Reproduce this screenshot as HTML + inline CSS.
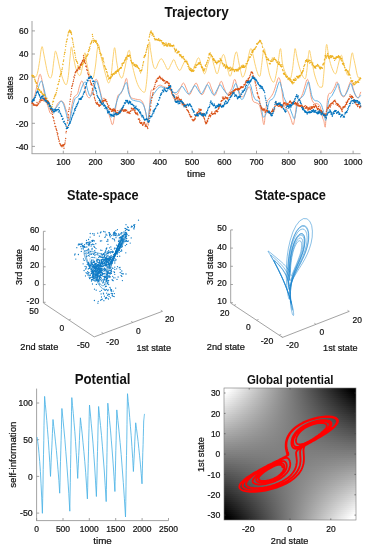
<!DOCTYPE html>
<html><head><meta charset="utf-8"><title>Trajectory</title>
<style>
html,body{margin:0;padding:0;background:#fff;}
svg{display:block;font-family:"Liberation Sans",sans-serif;fill:#111;}
.n{stroke:#111;stroke-width:0.22px;}
</style></head><body>
<svg width="369" height="550" viewBox="0 0 369 550">
<rect width="369" height="550" fill="#fff"/>
<text x="196.6" y="16.8" font-size="14" text-anchor="middle" font-weight="bold" textLength="64.4" lengthAdjust="spacingAndGlyphs">Trajectory</text>
<line x1="32.0" y1="21.0" x2="32.0" y2="153.7" stroke="#8c8c8c" stroke-width="0.8"/>
<line x1="31.6" y1="153.7" x2="360.5" y2="153.7" stroke="#8c8c8c" stroke-width="0.8"/>
<line x1="32.0" y1="30.9" x2="35.0" y2="30.9" stroke="#8c8c8c" stroke-width="0.8"/>
<text x="28.5" y="34.1" font-size="9" text-anchor="end" class="n" textLength="9.4" lengthAdjust="spacingAndGlyphs">60</text>
<line x1="32.0" y1="54.0" x2="35.0" y2="54.0" stroke="#8c8c8c" stroke-width="0.8"/>
<text x="28.5" y="57.2" font-size="9" text-anchor="end" class="n" textLength="9.4" lengthAdjust="spacingAndGlyphs">40</text>
<line x1="32.0" y1="77.1" x2="35.0" y2="77.1" stroke="#8c8c8c" stroke-width="0.8"/>
<text x="28.5" y="80.3" font-size="9" text-anchor="end" class="n" textLength="9.4" lengthAdjust="spacingAndGlyphs">20</text>
<line x1="32.0" y1="100.2" x2="35.0" y2="100.2" stroke="#8c8c8c" stroke-width="0.8"/>
<text x="28.5" y="103.4" font-size="9" text-anchor="end" class="n" textLength="4.7" lengthAdjust="spacingAndGlyphs">0</text>
<line x1="32.0" y1="123.3" x2="35.0" y2="123.3" stroke="#8c8c8c" stroke-width="0.8"/>
<text x="28.5" y="126.5" font-size="9" text-anchor="end" class="n" textLength="12.7" lengthAdjust="spacingAndGlyphs">-20</text>
<line x1="32.0" y1="146.4" x2="35.0" y2="146.4" stroke="#8c8c8c" stroke-width="0.8"/>
<text x="28.5" y="149.6" font-size="9" text-anchor="end" class="n" textLength="12.7" lengthAdjust="spacingAndGlyphs">-40</text>
<line x1="63.3" y1="153.7" x2="63.3" y2="150.7" stroke="#8c8c8c" stroke-width="0.8"/>
<text x="63.3" y="165.0" font-size="9" text-anchor="middle" class="n" textLength="14.2" lengthAdjust="spacingAndGlyphs">100</text>
<line x1="95.5" y1="153.7" x2="95.5" y2="150.7" stroke="#8c8c8c" stroke-width="0.8"/>
<text x="95.5" y="165.0" font-size="9" text-anchor="middle" class="n" textLength="14.2" lengthAdjust="spacingAndGlyphs">200</text>
<line x1="127.7" y1="153.7" x2="127.7" y2="150.7" stroke="#8c8c8c" stroke-width="0.8"/>
<text x="127.7" y="165.0" font-size="9" text-anchor="middle" class="n" textLength="14.2" lengthAdjust="spacingAndGlyphs">300</text>
<line x1="159.9" y1="153.7" x2="159.9" y2="150.7" stroke="#8c8c8c" stroke-width="0.8"/>
<text x="159.9" y="165.0" font-size="9" text-anchor="middle" class="n" textLength="14.2" lengthAdjust="spacingAndGlyphs">400</text>
<line x1="192.1" y1="153.7" x2="192.1" y2="150.7" stroke="#8c8c8c" stroke-width="0.8"/>
<text x="192.1" y="165.0" font-size="9" text-anchor="middle" class="n" textLength="14.2" lengthAdjust="spacingAndGlyphs">500</text>
<line x1="224.3" y1="153.7" x2="224.3" y2="150.7" stroke="#8c8c8c" stroke-width="0.8"/>
<text x="224.3" y="165.0" font-size="9" text-anchor="middle" class="n" textLength="14.2" lengthAdjust="spacingAndGlyphs">600</text>
<line x1="256.5" y1="153.7" x2="256.5" y2="150.7" stroke="#8c8c8c" stroke-width="0.8"/>
<text x="256.5" y="165.0" font-size="9" text-anchor="middle" class="n" textLength="14.2" lengthAdjust="spacingAndGlyphs">700</text>
<line x1="288.7" y1="153.7" x2="288.7" y2="150.7" stroke="#8c8c8c" stroke-width="0.8"/>
<text x="288.7" y="165.0" font-size="9" text-anchor="middle" class="n" textLength="14.2" lengthAdjust="spacingAndGlyphs">800</text>
<line x1="320.9" y1="153.7" x2="320.9" y2="150.7" stroke="#8c8c8c" stroke-width="0.8"/>
<text x="320.9" y="165.0" font-size="9" text-anchor="middle" class="n" textLength="14.2" lengthAdjust="spacingAndGlyphs">900</text>
<line x1="353.1" y1="153.7" x2="353.1" y2="150.7" stroke="#8c8c8c" stroke-width="0.8"/>
<text x="353.1" y="165.0" font-size="9" text-anchor="middle" class="n" textLength="18.9" lengthAdjust="spacingAndGlyphs">1000</text>
<text x="196.3" y="176.6" font-size="9.5" text-anchor="middle" class="n" textLength="18.5" lengthAdjust="spacingAndGlyphs">time</text>
<text x="12.9" y="88.0" font-size="9.5" text-anchor="middle" class="n" transform="rotate(-90 12.9 88.0)" textLength="23" lengthAdjust="spacingAndGlyphs">states</text>
<path d="M32.0,74.1C32.8,74.9 33.4,76.3 34.2,76.3C35.2,76.3 35.8,77.9 36.7,75.5C37.7,73.1 38.3,69.3 39.2,63.7C39.9,60.0 40.3,54.9 40.9,51.1C41.4,48.4 41.7,46.6 42.1,46.6C42.6,46.6 42.9,49.4 43.4,51.9C44.4,56.6 45.0,60.8 46.0,65.4C46.8,69.4 47.3,72.1 48.2,74.6C48.9,76.9 49.4,78.0 50.2,78.0C50.9,78.0 51.4,77.4 52.2,73.8C52.8,70.7 53.2,64.6 53.9,60.3C54.5,56.0 54.9,51.1 55.5,51.1C56.2,51.1 56.6,53.6 57.2,56.1C58.1,59.4 58.6,62.8 59.4,66.2C60.7,71.4 61.5,75.3 62.8,78.8C64.1,82.3 64.9,84.7 66.1,84.7C67.0,84.7 67.5,81.5 68.4,75.5C69.0,71.0 69.4,63.0 70.1,57.0C70.6,52.1 70.9,46.9 71.4,46.9C72.1,46.9 72.5,52.2 73.1,55.3C74.2,60.5 74.9,65.5 76.0,68.7C77.4,73.1 78.4,75.5 79.8,75.5C80.8,75.5 81.4,71.4 82.4,67.1C83.3,62.7 83.9,52.8 84.9,52.8C85.6,52.8 86.1,60.1 86.9,63.7C87.8,68.1 88.5,71.5 89.4,73.8C90.7,76.9 91.5,78.0 92.8,78.0C93.7,78.0 94.3,73.1 95.3,67.1C96.1,62.2 96.5,54.4 97.3,49.4C97.8,46.1 98.1,45.2 98.7,45.2C99.3,45.2 99.7,50.8 100.3,53.6C101.3,57.8 101.9,59.9 102.9,63.7C103.8,67.5 104.4,70.6 105.4,73.8C106.7,78.0 107.5,83.0 108.7,83.0C109.7,83.0 110.3,79.3 111.3,73.8C111.9,70.1 112.3,63.6 112.9,58.7C113.6,53.7 114.0,47.7 114.6,47.7C115.4,47.7 115.9,57.6 116.7,62.0C117.6,67.5 118.2,70.7 119.2,73.8C120.2,76.8 120.8,78.0 121.7,78.0C123.0,78.0 123.8,72.4 125.1,67.1C126.0,63.1 126.6,57.4 127.6,53.6C128.2,51.1 128.6,50.3 129.3,50.3C129.9,50.3 130.3,55.6 131.0,58.7C131.9,63.3 132.5,66.6 133.5,70.4C134.8,75.5 135.6,78.7 136.8,82.2C138.1,85.7 138.9,87.2 140.2,88.9C141.8,91.0 142.8,92.3 144.4,92.3C145.4,92.3 146.0,87.6 146.9,78.8C147.4,74.2 147.8,64.5 148.3,57.0C148.7,50.4 149.0,41.8 149.5,41.8C149.9,41.8 150.2,47.3 150.6,50.3C151.5,55.6 152.0,60.4 152.8,63.7C153.8,67.5 154.4,68.7 155.3,68.7C156.6,68.7 157.4,64.2 158.7,62.0C159.7,60.4 160.3,58.7 161.2,58.7C162.5,58.7 163.3,61.6 164.6,63.7C165.9,65.8 166.7,69.6 167.9,69.6C169.2,69.6 170.0,65.9 171.3,63.7C172.3,62.1 172.9,59.5 173.8,59.5C174.8,59.5 175.4,63.6 176.4,65.4C177.7,67.7 178.5,70.4 179.7,70.4C181.0,70.4 181.8,66.7 183.1,64.5C184.2,62.7 184.9,59.8 186.0,59.8C187.1,59.8 187.7,63.5 188.8,65.7C190.0,68.0 190.7,71.8 191.8,71.8C193.1,71.8 193.9,67.2 195.2,64.5C196.5,61.9 197.3,57.8 198.6,57.8C199.7,57.8 200.4,63.1 201.6,66.2C202.7,69.2 203.4,73.8 204.5,73.8C205.7,73.8 206.5,67.9 207.8,64.5C209.1,61.2 209.9,56.1 211.2,56.1C212.3,56.1 212.9,62.1 214.0,65.4C215.2,68.8 215.9,73.8 217.1,73.8C218.3,73.8 219.1,66.7 220.4,62.9C221.6,59.4 222.3,54.5 223.4,54.5C224.7,54.5 225.5,60.9 226.8,65.4C227.1,66.3 227.2,67.8 227.5,68.7C228.5,72.0 229.1,76.3 230.0,76.3C231.0,76.3 231.6,72.8 232.6,68.7C233.4,65.2 233.9,59.7 234.7,56.1C235.4,53.4 235.8,51.9 236.4,51.9C237.2,51.9 237.7,56.8 238.4,60.3C239.2,63.8 239.7,67.4 240.5,70.4C241.3,73.7 241.8,77.1 242.6,77.1C243.6,77.1 244.2,75.3 245.2,72.1C246.1,68.9 246.7,64.8 247.7,60.3C248.5,56.8 248.9,53.8 249.7,51.1C250.2,49.3 250.5,48.6 251.1,48.6C251.7,48.6 252.1,51.1 252.7,53.6C253.6,56.9 254.1,60.4 254.9,63.7C256.0,68.0 256.7,71.0 257.8,73.8C258.5,75.8 259.0,76.3 259.8,76.3C260.5,76.3 260.9,70.4 261.6,65.4C262.1,61.7 262.5,57.0 263.0,53.6C263.4,50.6 263.7,48.6 264.2,48.6C264.7,48.6 265.1,52.4 265.7,55.3C266.5,59.4 267.0,63.2 267.9,67.1C268.8,71.5 269.4,74.7 270.4,77.1C271.7,80.4 272.5,82.2 273.7,82.2C274.7,82.2 275.3,78.2 276.3,73.8C277.1,69.9 277.6,65.3 278.4,60.3C279.2,55.7 279.7,48.6 280.5,48.6C281.2,48.6 281.7,60.1 282.5,63.7C283.8,69.6 284.6,71.2 285.9,73.8C287.5,77.0 288.5,78.8 290.1,78.8C291.0,78.8 291.6,74.5 292.6,68.7C293.2,64.9 293.6,58.7 294.3,53.6C294.6,51.1 294.8,48.6 295.1,48.6C295.6,48.6 295.9,51.5 296.3,53.6C296.8,56.0 297.1,58.3 297.6,60.3C298.9,65.4 299.7,69.0 301.0,72.1C302.6,76.0 303.6,78.8 305.2,78.8C305.8,78.8 306.3,75.0 306.9,70.4C307.4,66.7 307.7,61.1 308.2,57.0C308.7,53.4 309.0,50.3 309.4,50.3C309.9,50.3 310.1,53.2 310.6,55.3C311.1,57.7 311.4,59.6 311.9,62.0C313.2,67.9 314.0,73.3 315.3,77.1C317.2,82.9 318.4,87.2 320.3,87.2C321.0,87.2 321.4,87.2 322.1,87.2C322.8,87.2 323.2,80.2 323.8,73.8C324.3,68.7 324.6,62.2 325.2,57.0C325.7,51.1 326.1,44.4 326.7,44.4C327.1,44.4 327.4,47.7 327.8,50.3C328.2,52.5 328.5,55.4 328.8,57.0C330.1,62.4 330.9,65.5 332.2,68.7C333.5,71.9 334.3,73.8 335.6,73.8C336.5,73.8 337.1,68.8 338.1,65.4C338.9,62.4 339.4,59.5 340.3,57.0C340.7,55.6 341.0,55.3 341.5,55.3C342.1,55.3 342.5,59.7 343.1,62.0C344.1,65.5 344.7,67.9 345.7,70.4C346.6,73.0 347.2,75.5 348.2,75.5C348.8,75.5 349.2,71.0 349.9,67.1C350.4,63.9 350.7,59.9 351.2,57.0C351.6,54.4 351.9,52.8 352.4,52.8C352.8,52.8 353.1,55.9 353.6,57.8C354.1,60.0 354.4,61.4 354.9,63.7C355.9,68.1 356.5,72.6 357.4,75.5C358.4,78.3 359.0,78.8 359.9,78.8C360.3,78.8 360.5,78.8 360.8,78.8" fill="none" stroke="#fbcf6c" stroke-width="0.95"/>
<path d="M32.0,101.1C32.8,99.5 33.4,99.5 34.2,96.9C35.2,94.0 35.8,90.9 36.7,86.8C37.4,84.2 37.8,81.7 38.4,79.3C39.0,76.9 39.4,74.2 40.1,74.2C40.7,74.2 41.1,76.6 41.8,79.3C42.4,82.0 42.8,85.2 43.4,88.5C44.1,91.9 44.5,94.4 45.1,96.9C46.1,100.8 46.7,102.6 47.6,105.3C48.9,109.0 49.7,113.7 51.0,113.7C52.3,113.7 53.1,112.3 54.4,110.4C55.6,108.5 56.5,105.4 57.7,103.7C59.0,101.9 59.8,101.1 61.1,101.1C62.1,101.1 62.7,101.2 63.6,102.8C64.4,104.1 64.9,106.6 65.6,108.7C66.4,110.7 66.8,111.3 67.6,113.7C68.2,115.8 68.6,120.5 69.2,120.5C69.9,120.5 70.3,113.7 70.9,110.4C71.9,105.4 72.5,101.5 73.4,98.6C74.4,95.7 75.0,96.4 76.0,95.3C76.6,94.5 77.0,95.2 77.6,93.6C78.3,92.0 78.7,88.8 79.3,86.8C80.3,84.0 80.9,81.0 81.8,81.0C82.8,81.0 83.4,84.1 84.4,86.8C85.3,89.6 85.9,93.2 86.9,95.3C87.8,97.3 88.5,97.8 89.4,97.8C90.7,97.8 91.5,92.0 92.8,88.5C94.1,85.0 94.9,79.3 96.1,79.3C96.8,79.3 97.2,79.9 97.8,81.8C98.8,84.7 99.4,88.3 100.3,91.9C101.6,96.6 102.4,100.5 103.7,103.7C105.0,106.8 105.8,105.8 107.1,108.7C108.3,111.6 109.1,115.0 110.4,118.8C111.2,121.1 111.7,124.7 112.4,124.7C113.3,124.7 113.8,119.9 114.6,115.4C115.7,109.4 116.4,100.8 117.5,96.9C118.8,92.5 119.6,95.8 120.9,93.6C122.2,91.3 123.0,88.7 124.2,85.2C125.1,82.9 125.6,78.4 126.4,78.4C127.1,78.4 127.5,83.8 128.1,86.8C128.9,90.5 129.4,94.4 130.1,96.1C131.4,98.9 132.2,98.0 133.5,98.6C135.1,99.3 136.1,99.0 137.7,99.5C139.3,99.9 140.3,99.3 141.9,101.1C142.8,102.2 143.5,103.7 144.4,107.0C145.4,110.4 146.0,114.4 146.9,118.8C147.4,120.8 147.7,123.8 148.1,123.8C148.6,123.8 148.9,113.1 149.5,107.0C150.0,100.9 150.3,94.4 150.8,91.9C151.6,88.1 152.0,90.8 152.8,90.2C153.8,89.5 154.4,89.3 155.3,88.5C156.3,87.7 156.9,86.6 157.9,86.0C158.8,85.4 159.4,85.2 160.4,85.2C161.7,85.2 162.5,86.4 163.7,86.8C165.0,87.3 165.8,87.3 167.1,87.7C168.2,88.1 168.9,88.1 170.0,88.9C171.3,89.8 172.1,91.2 173.4,92.3C174.6,93.3 175.4,94.5 176.7,94.5C178.0,94.5 178.8,91.1 180.1,88.9C181.4,86.7 182.2,83.0 183.4,83.0C184.6,83.0 185.3,86.6 186.5,88.9C187.6,91.1 188.2,94.8 189.3,94.8C190.6,94.8 191.4,91.1 192.7,88.9C194.0,86.7 194.8,83.0 196.1,83.0C197.1,83.0 197.8,86.7 198.9,88.9C200.1,91.2 200.8,94.8 201.9,94.8C203.2,94.8 204.0,91.3 205.3,88.9C206.6,86.5 207.4,82.2 208.7,82.2C209.8,82.2 210.5,86.3 211.7,88.9C212.8,91.4 213.5,95.6 214.5,95.6C215.8,95.6 216.6,91.6 217.9,88.9C219.2,86.2 220.0,81.3 221.3,81.3C222.3,81.3 223.0,85.7 224.1,88.1C225.3,90.5 226.0,93.9 227.1,93.9C227.6,93.9 227.9,94.1 228.4,93.6C229.6,92.1 230.4,91.4 231.7,88.5C232.9,86.0 233.6,79.3 234.7,79.3C235.5,79.3 236.0,83.0 236.8,85.2C237.7,87.8 238.3,89.7 239.3,91.9C240.2,94.1 240.8,96.9 241.8,96.9C242.8,96.9 243.4,96.5 244.3,95.3C245.3,94.0 245.9,91.8 246.8,90.2C247.8,88.6 248.4,86.8 249.4,86.8C250.0,86.8 250.4,89.3 251.1,91.9C251.7,94.4 252.1,98.9 252.7,100.3C254.0,103.1 254.8,101.9 256.1,102.8C257.4,103.8 258.2,102.6 259.5,105.3C260.4,107.4 261.0,111.3 262.0,115.4C262.7,118.7 263.2,124.7 264.0,124.7C264.5,124.7 264.8,117.6 265.3,113.7C266.0,108.9 266.4,104.3 267.0,102.0C268.0,98.5 268.6,100.0 269.5,98.6C270.8,96.8 271.6,96.1 272.9,93.6C273.9,91.7 274.5,89.7 275.4,86.8C276.2,84.6 276.7,82.2 277.4,80.1C277.9,78.7 278.3,77.6 278.8,77.6C279.4,77.6 279.8,79.1 280.5,81.8C281.1,84.5 281.5,87.6 282.1,91.9C282.7,95.9 283.1,100.6 283.7,103.7C284.2,106.3 284.5,106.1 285.0,107.0C286.3,109.3 287.1,109.5 288.4,112.1C289.4,114.0 290.0,116.2 290.9,118.8C291.8,121.0 292.3,124.7 293.1,124.7C293.9,124.7 294.4,119.8 295.1,115.4C295.8,111.8 296.2,106.0 296.8,103.7C297.8,100.2 298.4,101.9 299.3,100.3C300.6,98.1 301.4,96.9 302.7,93.6C303.6,91.1 304.3,88.1 305.2,85.2C306.0,82.6 306.6,79.3 307.4,79.3C308.2,79.3 308.6,83.2 309.4,86.8C310.1,89.9 310.5,94.5 311.1,96.9C312.1,100.6 312.7,101.7 313.6,102.8C314.9,104.3 315.7,102.9 317.0,103.7C318.3,104.5 319.1,103.7 320.3,107.0C321.3,109.5 321.9,115.1 322.9,118.8C323.2,120.2 323.4,119.1 323.8,120.5C324.3,122.3 324.6,127.2 325.2,127.2C325.6,127.2 325.9,116.9 326.3,112.1C327.0,105.1 327.4,98.5 328.0,96.1C329.3,91.2 330.1,94.5 331.4,92.7C332.6,91.0 333.5,89.4 334.7,86.8C335.6,85.2 336.1,81.8 336.9,81.8C337.7,81.8 338.2,86.3 338.9,88.5C339.9,91.4 340.5,93.7 341.5,95.3C342.4,96.8 343.0,96.9 344.0,96.9C344.9,96.9 345.5,94.1 346.5,91.9C347.5,89.7 348.1,87.5 349.0,85.2C349.8,83.3 350.3,81.0 351.0,81.0C351.9,81.0 352.4,85.9 353.2,88.5C354.2,91.6 354.8,94.3 355.7,96.1C356.7,97.8 357.3,97.8 358.3,97.8C359.2,97.8 359.8,94.1 360.8,91.9" fill="none" stroke="#f59a7a" stroke-width="0.95"/>
<path d="M32.0,101.1C33.2,99.5 33.9,99.2 35.0,96.9C36.0,95.0 36.6,92.9 37.6,90.2C38.4,87.8 38.9,85.5 39.7,83.5C40.4,82.0 40.8,81.0 41.4,81.0C42.1,81.0 42.5,83.0 43.1,85.2C43.9,87.8 44.4,90.4 45.1,93.6C45.8,96.2 46.2,98.4 46.8,100.3C47.8,103.2 48.4,104.3 49.3,106.2C50.6,108.7 51.4,112.1 52.7,112.1C53.6,112.1 54.3,110.3 55.2,109.0C56.5,107.4 57.3,106.2 58.6,104.5C59.5,103.2 60.1,101.1 61.1,101.1C62.1,101.1 62.7,102.4 63.6,104.5C64.4,106.2 64.9,108.7 65.6,111.2C66.7,114.7 67.3,120.5 68.4,120.5C69.0,120.5 69.4,120.8 70.1,118.8C71.0,115.7 71.6,110.8 72.6,107.0C73.6,103.2 74.2,100.5 75.1,98.6C76.1,96.7 76.7,98.2 77.6,96.9C78.6,95.7 79.2,94.1 80.2,91.9C81.1,89.7 81.7,87.1 82.7,85.2C83.6,83.3 84.3,81.8 85.2,81.8C86.2,81.8 86.8,87.5 87.7,90.2C88.7,92.9 89.3,96.1 90.3,96.1C91.5,96.1 92.3,93.5 93.6,90.2C94.6,87.7 95.2,81.0 96.1,81.0C97.4,81.0 98.2,86.0 99.5,90.2C100.5,93.4 101.1,97.7 102.0,100.3C103.3,103.8 104.1,104.3 105.4,106.2C106.7,108.1 107.5,108.0 108.7,110.4C109.7,112.2 110.3,117.1 111.3,117.1C112.2,117.1 112.8,114.8 113.8,112.1C115.5,107.1 116.6,101.3 118.4,96.9C120.0,93.0 121.0,93.0 122.6,90.2C124.0,87.6 125.0,82.6 126.4,82.6C127.2,82.6 127.7,89.2 128.4,91.9C129.4,95.3 130.0,97.0 131.0,98.6C131.9,100.2 132.5,99.9 133.5,100.3C134.8,100.8 135.6,100.8 136.8,101.1C138.1,101.5 138.9,101.2 140.2,102.0C141.5,102.8 142.3,102.8 143.6,105.3C144.5,107.3 145.1,109.9 146.1,113.7C146.7,116.3 147.1,122.1 147.8,122.1C148.4,122.1 148.8,113.2 149.5,108.7C150.1,104.2 150.5,101.2 151.1,98.6C151.8,96.1 152.2,96.3 152.8,95.3C153.8,93.7 154.4,93.2 155.3,91.9C156.3,90.6 156.9,89.4 157.9,88.5C159.1,87.4 159.9,86.8 161.2,86.8C162.5,86.8 163.3,88.5 164.6,88.5C165.5,88.5 166.1,88.5 167.1,88.5C168.2,88.5 168.9,89.1 170.0,89.7C171.0,90.3 171.6,91.5 172.5,91.9C173.8,92.6 174.6,92.6 175.9,92.6C177.2,92.6 178.0,90.5 179.2,89.2C180.3,88.2 181.0,86.4 182.1,86.4C183.3,86.4 184.0,88.9 185.1,90.3C186.4,91.8 187.2,93.9 188.5,93.9C189.8,93.9 190.6,91.4 191.8,89.7C193.0,88.2 193.7,85.5 194.9,85.5C196.0,85.5 196.7,88.2 197.9,89.7C199.1,91.4 199.9,93.9 201.1,93.9C202.4,93.9 203.2,91.1 204.5,89.2C205.5,87.6 206.2,84.7 207.3,84.7C208.5,84.7 209.2,87.9 210.3,89.7C211.6,91.8 212.4,94.8 213.7,94.8C215.0,94.8 215.8,91.8 217.1,89.7C218.2,87.9 218.9,84.7 220.1,84.7C221.2,84.7 222.0,87.4 223.1,88.9C224.3,90.5 225.1,91.6 226.3,93.1C227.1,94.1 227.6,95.3 228.4,95.3C230.0,95.3 231.0,92.7 232.6,90.2C233.8,88.2 234.6,83.5 235.9,83.5C236.6,83.5 237.0,86.5 237.6,88.5C238.6,91.6 239.2,94.4 240.1,96.9C240.8,98.6 241.2,99.5 241.8,99.5C242.8,99.5 243.4,98.2 244.3,96.1C245.3,94.0 245.9,90.9 246.8,88.5C247.8,86.1 248.4,83.5 249.4,83.5C250.0,83.5 250.4,84.9 251.1,86.8C251.7,88.8 252.1,91.7 252.7,93.6C253.7,96.4 254.3,98.2 255.3,99.5C256.5,101.1 257.3,99.5 258.6,101.1C259.6,102.4 260.2,103.8 261.1,107.0C262.0,109.8 262.5,117.1 263.3,117.1C264.1,117.1 264.6,117.1 265.3,115.4C266.3,113.3 266.9,110.3 267.9,107.0C268.5,104.8 268.9,102.2 269.5,101.1C270.8,99.0 271.6,100.3 272.9,98.6C273.9,97.4 274.5,96.1 275.4,93.6C276.4,91.0 277.0,87.9 277.9,85.2C278.6,83.4 279.0,81.8 279.6,81.8C280.3,81.8 280.7,84.8 281.3,86.8C281.9,88.9 282.3,90.0 283.0,92.7C283.3,93.9 283.4,96.2 283.7,96.9C285.2,100.7 286.1,101.8 287.6,104.5C288.5,106.3 289.1,106.6 290.1,108.7C291.0,110.8 291.6,113.1 292.6,115.4C293.2,117.0 293.6,118.8 294.3,118.8C294.9,118.8 295.3,115.3 296.0,112.1C296.6,108.9 297.0,104.0 297.6,102.0C298.6,98.9 299.2,99.7 300.2,98.6C301.4,97.2 302.3,97.4 303.5,95.3C304.5,93.6 305.1,91.1 306.1,88.5C307.0,86.0 307.6,81.8 308.6,81.8C309.2,81.8 309.6,85.8 310.3,88.5C310.9,91.2 311.3,94.3 311.9,96.1C312.9,98.8 313.5,99.5 314.5,100.3C315.7,101.4 316.5,100.3 317.8,101.1C319.1,101.9 319.9,102.2 321.2,104.5C322.0,106.0 322.5,108.4 323.4,111.2C324.3,114.4 324.9,120.5 325.8,120.5C326.3,120.5 326.7,113.8 327.2,110.4C327.8,106.1 328.2,102.2 328.8,100.3C330.1,96.5 330.9,97.5 332.2,95.3C333.5,93.0 334.3,91.1 335.6,88.5C336.5,86.6 337.1,83.5 338.1,83.5C339.1,83.5 339.7,89.5 340.6,91.9C341.6,94.3 342.2,96.1 343.1,96.1C344.1,96.1 344.7,95.7 345.7,94.4C346.6,93.1 347.2,91.4 348.2,89.4C349.1,87.3 349.7,83.5 350.7,83.5C351.7,83.5 352.3,88.0 353.2,90.2C354.2,92.4 354.8,93.8 355.7,95.3C356.7,96.7 357.3,97.8 358.3,97.8C359.2,97.8 359.8,96.2 360.8,95.3" fill="none" stroke="#58ade4" stroke-width="0.95"/>
<path d="M32.0,75.4h0M32.3,76.5h0M32.7,76.1h0M33.0,75.6h0M33.3,75.7h0M33.7,77.1h0M34.0,77.1h0M34.3,77.1h0M34.7,79.1h0M35.0,80.0h0M35.3,81.4h0M35.6,81.1h0M36.0,82.4h0M36.3,83.4h0M36.6,83.0h0M37.0,85.3h0M37.3,86.4h0M37.6,89.2h0M38.0,88.3h0M38.3,88.1h0M38.6,89.6h0M38.9,89.4h0M39.3,90.4h0M39.6,89.9h0M39.9,90.6h0M40.3,91.9h0M40.6,92.3h0M40.9,92.3h0M41.3,91.4h0M41.6,92.7h0M41.9,93.0h0M42.2,93.9h0M42.6,93.9h0M42.9,95.0h0M43.2,94.5h0M43.6,94.8h0M43.9,95.5h0M44.2,94.4h0M44.6,94.9h0M44.9,95.2h0M45.2,97.9h0M45.5,97.3h0M45.9,98.3h0M46.2,99.0h0M46.5,98.9h0M46.9,98.2h0M47.2,100.7h0M47.5,100.7h0M47.9,102.1h0M48.2,101.2h0M48.5,102.2h0M48.8,104.5h0M49.2,105.8h0M49.5,104.2h0M49.8,104.1h0M50.2,105.7h0M50.5,107.3h0M50.8,107.7h0M51.2,108.4h0M51.5,107.1h0M51.8,107.0h0M52.1,106.6h0M52.5,104.3h0M52.8,102.0h0M53.1,101.1h0M53.5,101.4h0M53.8,98.5h0M54.1,98.3h0M54.5,96.7h0M54.8,96.2h0M55.1,95.2h0M55.4,94.4h0M55.8,94.7h0M56.1,93.0h0M56.4,92.6h0M56.8,90.4h0M57.1,88.6h0M57.4,88.1h0M57.8,84.3h0M58.1,84.6h0M58.4,84.0h0M58.7,81.6h0M59.1,81.5h0M59.4,79.7h0M59.7,76.5h0M60.1,76.6h0M60.4,75.0h0M60.7,74.1h0M61.1,73.2h0M61.4,73.2h0M61.7,71.3h0M62.0,69.5h0M62.4,67.9h0M62.7,64.2h0M63.0,64.5h0M63.4,61.2h0M63.7,59.9h0M64.0,56.6h0M64.4,54.2h0M64.7,52.5h0M65.0,52.5h0M65.3,49.9h0M65.7,46.4h0M66.0,44.3h0M66.3,42.0h0M66.7,41.2h0M67.0,39.4h0M67.3,38.9h0M67.7,35.8h0M68.0,34.8h0M68.3,32.9h0M68.6,31.8h0M69.0,32.0h0M69.3,30.8h0M69.6,30.2h0M70.0,31.1h0M70.3,32.3h0M70.6,31.0h0M71.0,33.0h0M71.3,32.2h0M71.6,34.2h0M71.9,37.8h0M72.3,38.5h0M72.6,39.9h0M72.9,42.2h0M73.3,44.2h0M73.6,46.1h0M73.9,47.1h0M74.3,50.3h0M74.6,52.3h0M74.9,53.2h0M75.2,55.1h0M75.6,57.3h0M75.9,59.5h0M76.2,60.3h0M76.6,61.5h0M76.9,61.8h0M77.2,61.9h0M77.6,63.2h0M77.9,65.8h0M78.2,67.2h0M78.5,67.5h0M78.9,66.9h0M79.2,67.6h0M79.5,69.1h0M79.9,69.4h0M80.2,67.7h0M80.5,67.1h0M80.9,65.2h0M81.2,64.4h0M81.5,64.9h0M81.8,64.5h0M82.2,64.7h0M82.5,64.6h0M82.8,63.8h0M83.2,63.6h0M83.5,61.5h0M83.8,59.9h0M84.2,60.6h0M84.5,62.3h0M84.8,60.4h0M85.1,58.0h0M85.5,58.1h0M85.8,58.7h0M86.1,56.3h0M86.5,56.7h0M86.8,55.1h0M87.1,55.9h0M87.5,55.2h0M87.8,54.0h0M88.1,54.3h0M88.4,51.5h0M88.8,49.6h0M89.1,50.5h0M89.4,47.6h0M89.8,48.7h0M90.1,46.3h0M90.4,44.0h0M90.8,43.7h0M91.1,43.2h0M91.4,42.5h0M91.7,41.4h0M92.1,40.5h0M92.4,34.5h0M92.7,36.4h0M93.1,38.6h0M93.4,42.2h0M93.7,40.4h0M94.1,40.9h0M94.4,40.2h0M94.7,40.3h0M95.0,41.4h0M95.4,41.4h0M95.7,42.2h0M96.0,40.4h0M96.4,41.3h0M96.7,43.0h0M97.0,43.9h0M97.4,43.6h0M97.7,45.5h0M98.0,44.7h0M98.3,47.6h0M98.7,47.5h0M99.0,48.1h0M99.3,49.4h0M99.7,51.1h0M100.0,53.2h0M100.3,52.9h0M100.7,53.4h0M101.0,55.1h0M101.3,55.0h0M101.6,54.8h0M102.0,57.7h0M102.3,58.0h0M102.6,60.1h0M103.0,59.4h0M103.3,58.1h0M103.6,61.2h0M104.0,62.8h0M104.3,65.4h0M104.6,66.0h0M104.9,66.7h0M105.3,68.0h0M105.6,68.3h0M105.9,69.5h0M106.3,69.4h0M106.6,71.7h0M106.9,71.9h0M107.3,72.9h0M107.6,75.0h0M107.9,76.5h0M108.2,75.9h0M108.6,79.1h0M108.9,77.8h0M109.2,78.3h0M109.6,78.4h0M109.9,77.6h0M110.2,77.2h0M110.6,78.3h0M110.9,77.7h0M111.2,76.9h0M111.5,74.5h0M111.9,74.5h0M112.2,76.1h0M112.5,75.4h0M112.9,74.0h0M113.2,73.6h0M113.5,73.5h0M113.9,74.2h0M114.2,73.9h0M114.5,74.1h0M114.8,72.3h0M115.2,73.1h0M115.5,71.8h0M115.8,71.5h0M116.2,73.0h0M116.5,71.8h0M116.8,71.0h0M117.2,70.5h0M117.5,70.0h0M117.8,71.4h0M118.1,71.4h0M118.5,70.6h0M118.8,69.6h0M119.1,69.9h0M119.5,68.7h0M119.8,68.6h0M120.1,68.3h0M120.5,67.4h0M120.8,68.2h0M121.1,68.2h0M121.4,67.4h0M121.8,63.8h0M122.1,65.8h0M122.4,64.9h0M122.8,63.3h0M123.1,62.8h0M123.4,63.3h0M123.8,63.1h0M124.1,62.3h0M124.4,61.1h0M124.7,60.2h0M125.1,60.3h0M125.4,59.2h0M125.7,57.9h0M126.1,57.4h0M126.4,57.4h0M126.7,57.5h0M127.1,59.0h0M127.4,55.8h0M127.7,56.3h0M128.0,55.7h0M128.4,55.6h0M128.7,56.3h0M129.0,56.2h0M129.4,55.0h0M129.7,55.5h0M130.0,55.7h0M130.4,57.7h0M130.7,60.3h0M131.0,60.5h0M131.3,61.6h0M131.7,62.4h0M132.0,62.7h0M132.3,63.8h0M132.7,63.4h0M133.0,63.0h0M133.3,63.0h0M133.7,65.1h0M134.0,64.5h0M134.3,64.5h0M134.6,65.6h0M135.0,64.5h0M135.3,66.6h0M135.6,66.3h0M136.0,65.2h0M136.3,65.0h0M136.6,66.8h0M137.0,65.5h0M137.3,65.8h0M137.6,66.7h0M137.9,67.4h0M138.3,67.7h0M138.6,68.4h0M138.9,68.4h0M139.3,69.0h0M139.6,70.8h0M139.9,71.1h0M140.3,70.6h0M140.6,72.8h0M140.9,70.5h0M141.2,71.0h0M141.6,70.5h0M141.9,69.7h0M142.2,67.8h0M142.6,65.8h0M142.9,65.0h0M143.2,62.9h0M143.6,61.7h0M143.9,57.2h0M144.2,57.6h0M144.5,55.7h0M144.9,56.2h0M145.2,55.4h0M145.5,54.5h0M145.9,52.5h0M146.2,51.9h0M146.5,50.0h0M146.9,49.0h0M147.2,47.5h0M147.5,45.4h0M147.8,46.4h0M148.2,44.3h0M148.5,40.0h0M148.8,40.2h0M149.2,37.1h0M149.5,36.1h0M149.8,34.5h0M150.2,33.1h0M150.5,32.4h0M150.8,31.7h0M151.1,31.0h0M151.5,32.3h0M151.8,33.3h0M152.1,35.2h0M152.5,34.0h0M152.8,33.2h0M153.1,34.4h0M153.5,36.2h0M153.8,35.9h0M154.1,36.5h0M154.4,38.3h0M154.8,38.9h0M155.1,39.9h0M155.4,39.6h0M155.8,39.1h0M156.1,39.4h0M156.4,39.5h0M156.8,39.3h0M157.1,39.9h0M157.4,40.0h0M157.7,40.0h0M158.1,40.1h0M158.4,39.1h0M158.7,38.7h0M159.1,40.5h0M159.4,40.5h0M159.7,40.7h0M160.1,39.8h0M160.4,40.5h0M160.7,40.6h0M161.0,40.7h0M161.4,41.1h0M161.7,40.7h0M162.0,42.3h0M162.4,43.9h0M162.7,43.0h0M163.0,43.5h0M163.4,42.7h0M163.7,44.1h0M164.0,45.7h0M164.3,43.4h0M164.7,43.7h0M165.0,45.4h0M165.3,45.0h0M165.7,44.8h0M166.0,42.8h0M166.3,44.0h0M166.7,45.4h0M167.0,46.4h0M167.3,46.0h0M167.6,44.9h0M168.0,44.5h0M168.3,43.4h0M168.6,43.7h0M169.0,45.8h0M169.3,45.3h0M169.6,44.0h0M170.0,46.0h0M170.3,44.0h0M170.6,46.0h0M170.9,45.1h0M171.3,45.5h0M171.6,45.9h0M171.9,45.7h0M172.3,46.5h0M172.6,45.7h0M172.9,45.6h0M173.3,45.5h0M173.6,45.1h0M173.9,46.0h0M174.2,48.1h0M174.6,48.9h0M174.9,49.9h0M175.2,51.7h0M175.6,50.8h0M175.9,50.6h0M176.2,49.2h0M176.6,50.1h0M176.9,52.9h0M177.2,52.5h0M177.5,52.1h0M177.9,52.7h0M178.2,51.2h0M178.5,52.0h0M178.9,52.1h0M179.2,51.7h0M179.5,54.5h0M179.9,55.9h0M180.2,55.4h0M180.5,55.8h0M180.8,54.7h0M181.2,55.8h0M181.5,56.5h0M181.8,57.5h0M182.2,57.9h0M182.5,57.1h0M182.8,56.7h0M183.2,56.4h0M183.5,56.9h0M183.8,58.5h0M184.1,59.3h0M184.5,59.5h0M184.8,61.4h0M185.1,61.4h0M185.5,61.2h0M185.8,61.4h0M186.1,62.1h0M186.5,61.7h0M186.8,62.0h0M187.1,63.6h0M187.4,63.7h0M187.8,64.4h0M188.1,66.4h0M188.4,66.2h0M188.8,68.0h0M189.1,67.8h0M189.4,69.6h0M189.8,69.6h0M190.1,68.1h0M190.4,70.5h0M190.7,70.2h0M191.1,68.7h0M191.4,70.4h0M191.7,71.2h0M192.1,69.9h0M192.4,69.8h0M192.7,70.6h0M193.1,71.4h0M193.4,71.2h0M193.7,70.9h0M194.0,70.5h0M194.4,66.9h0M194.7,67.1h0M195.0,67.7h0M195.4,64.9h0M195.7,66.9h0M196.0,67.3h0M196.4,65.6h0M196.7,65.2h0M197.0,64.3h0M197.3,64.6h0M197.7,64.5h0M198.0,64.2h0M198.3,63.0h0M198.7,63.7h0M199.0,63.0h0M199.3,63.7h0M199.7,63.7h0M200.0,62.5h0M200.3,62.6h0M200.6,64.3h0M201.0,64.6h0M201.3,66.2h0M201.6,67.5h0M202.0,67.8h0M202.3,66.9h0M202.6,67.7h0M203.0,69.7h0M203.3,68.9h0M203.6,70.7h0M203.9,70.3h0M204.3,70.8h0M204.6,69.3h0M204.9,68.7h0M205.3,65.2h0M205.6,66.0h0M205.9,66.2h0M206.3,64.3h0M206.6,63.0h0M206.9,62.7h0M207.2,62.0h0M207.6,60.3h0M207.9,60.4h0M208.2,57.3h0M208.6,57.9h0M208.9,54.9h0M209.2,53.6h0M209.6,54.6h0M209.9,53.6h0M210.2,53.0h0M210.5,54.8h0M210.9,54.7h0M211.2,54.9h0M211.5,55.6h0M211.9,56.1h0M212.2,56.3h0M212.5,56.7h0M212.9,59.4h0M213.2,58.5h0M213.5,60.0h0M213.8,58.7h0M214.2,60.5h0M214.5,59.8h0M214.8,60.7h0M215.2,62.3h0M215.5,62.1h0M215.8,61.2h0M216.2,62.5h0M216.5,63.1h0M216.8,63.7h0M217.1,62.3h0M217.5,62.4h0M217.8,62.5h0M218.1,60.9h0M218.5,61.6h0M218.8,61.0h0M219.1,61.8h0M219.5,61.2h0M219.8,60.8h0M220.1,58.4h0M220.4,59.6h0M220.8,60.2h0M221.1,60.2h0M221.4,60.9h0M221.8,60.8h0M222.1,62.3h0M222.4,63.5h0M222.8,64.1h0M223.1,63.6h0M223.4,65.8h0M223.7,66.0h0M224.1,64.7h0M224.4,65.4h0M224.7,64.5h0M225.1,66.0h0M225.4,67.4h0M225.7,68.2h0M226.1,66.8h0M226.4,65.1h0M226.7,65.9h0M227.0,67.4h0M227.4,66.7h0M227.7,67.7h0M228.0,67.9h0M228.4,68.8h0M228.7,68.5h0M229.0,67.4h0M229.4,68.4h0M229.7,70.8h0M230.0,69.0h0M230.3,67.2h0M230.7,70.4h0M231.0,69.9h0M231.3,68.8h0M231.7,68.6h0M232.0,67.8h0M232.3,69.7h0M232.7,69.8h0M233.0,69.2h0M233.3,69.3h0M233.6,69.4h0M234.0,70.8h0M234.3,70.2h0M234.6,71.5h0M235.0,70.0h0M235.3,69.7h0M235.6,69.6h0M236.0,69.5h0M236.3,69.7h0M236.6,70.7h0M236.9,71.1h0M237.3,69.1h0M237.6,70.6h0M237.9,69.7h0M238.3,70.7h0M238.6,69.2h0M238.9,68.0h0M239.3,69.0h0M239.6,69.0h0M239.9,67.8h0M240.2,67.8h0M240.6,67.9h0M240.9,68.0h0M241.2,66.1h0M241.6,65.9h0M241.9,66.9h0M242.2,67.3h0M242.6,66.7h0M242.9,65.2h0M243.2,67.4h0M243.5,66.4h0M243.9,65.3h0M244.2,67.2h0M244.5,67.2h0M244.9,66.9h0M245.2,66.5h0M245.5,65.8h0M245.9,63.8h0M246.2,63.9h0M246.5,63.9h0M246.8,63.8h0M247.2,63.3h0M247.5,61.5h0M247.8,61.0h0M248.2,60.5h0M248.5,60.1h0M248.8,58.9h0M249.2,57.2h0M249.5,56.8h0M249.8,57.5h0M250.1,57.0h0M250.5,56.9h0M250.8,54.2h0M251.1,54.3h0M251.5,55.0h0M251.8,52.2h0M252.1,51.7h0M252.5,50.5h0M252.8,52.3h0M253.1,51.3h0M253.4,50.0h0M253.8,49.8h0M254.1,49.1h0M254.4,49.3h0M254.8,49.2h0M255.1,48.4h0M255.4,47.3h0M255.8,47.1h0M256.1,46.8h0M256.4,46.7h0M256.7,43.6h0M257.1,44.4h0M257.4,44.1h0M257.7,43.7h0M258.1,42.9h0M258.4,42.5h0M258.7,42.5h0M259.1,41.9h0M259.4,41.3h0M259.7,40.5h0M260.0,40.5h0M260.4,41.3h0M260.7,41.0h0M261.0,42.3h0M261.4,43.1h0M261.7,43.3h0M262.0,43.9h0M262.4,46.1h0M262.7,47.3h0M263.0,50.9h0M263.3,51.5h0M263.7,50.8h0M264.0,51.6h0M264.3,52.1h0M264.7,52.8h0M265.0,53.7h0M265.3,54.6h0M265.7,54.7h0M266.0,56.4h0M266.3,57.2h0M266.6,59.3h0M267.0,57.6h0M267.3,59.4h0M267.6,59.6h0M268.0,58.9h0M268.3,59.9h0M268.6,59.2h0M269.0,60.5h0M269.3,63.6h0M269.6,63.4h0M269.9,63.9h0M270.3,63.7h0M270.6,60.9h0M270.9,61.6h0M271.3,61.3h0M271.6,61.2h0M271.9,59.7h0M272.3,58.1h0M272.6,61.1h0M272.9,60.9h0M273.2,60.0h0M273.6,58.9h0M273.9,59.1h0M274.2,57.7h0M274.6,59.2h0M274.9,59.4h0M275.2,59.5h0M275.6,59.6h0M275.9,60.2h0M276.2,60.9h0M276.5,60.9h0M276.9,62.5h0M277.2,62.5h0M277.5,62.3h0M277.9,61.8h0M278.2,63.6h0M278.5,64.4h0M278.9,64.2h0M279.2,62.1h0M279.5,62.9h0M279.8,64.7h0M280.2,64.7h0M280.5,66.1h0M280.8,65.3h0M281.2,66.5h0M281.5,66.9h0M281.8,64.6h0M282.2,66.2h0M282.5,69.6h0M282.8,70.3h0M283.1,70.7h0M283.5,73.5h0M283.8,73.2h0M284.1,74.4h0M284.5,73.3h0M284.8,72.8h0M285.1,74.4h0M285.5,75.8h0M285.8,75.3h0M286.1,76.5h0M286.4,77.2h0M286.8,76.5h0M287.1,76.7h0M287.4,76.4h0M287.8,78.1h0M288.1,79.5h0M288.4,79.0h0M288.8,78.2h0M289.1,78.0h0M289.4,78.5h0M289.7,80.0h0M290.1,79.2h0M290.4,81.1h0M290.7,79.4h0M291.1,80.1h0M291.4,81.7h0M291.7,82.7h0M292.1,81.2h0M292.4,82.0h0M292.7,83.8h0M293.0,82.9h0M293.4,79.4h0M293.7,80.4h0M294.0,82.5h0M294.4,79.7h0M294.7,80.6h0M295.0,78.1h0M295.4,80.4h0M295.7,78.8h0M296.0,79.7h0M296.3,79.8h0M296.7,76.4h0M297.0,76.5h0M297.3,77.9h0M297.7,76.5h0M298.0,77.2h0M298.3,76.3h0M298.7,77.9h0M299.0,76.5h0M299.3,75.4h0M299.6,76.3h0M300.0,76.8h0M300.3,75.5h0M300.6,75.2h0M301.0,74.9h0M301.3,73.7h0M301.6,72.4h0M302.0,73.2h0M302.3,72.4h0M302.6,70.9h0M302.9,71.4h0M303.3,70.3h0M303.6,68.7h0M303.9,66.5h0M304.3,65.4h0M304.6,65.1h0M304.9,64.3h0M305.3,62.1h0M305.6,60.7h0M305.9,60.8h0M306.2,60.5h0M306.6,61.2h0M306.9,59.5h0M307.2,60.9h0M307.6,62.1h0M307.9,61.7h0M308.2,60.9h0M308.6,61.3h0M308.9,59.8h0M309.2,60.3h0M309.5,63.0h0M309.9,60.7h0M310.2,60.6h0M310.5,62.6h0M310.9,62.1h0M311.2,62.3h0M311.5,62.1h0M311.9,64.8h0M312.2,63.7h0M312.5,64.0h0M312.8,62.9h0M313.2,65.1h0M313.5,65.3h0M313.8,66.2h0M314.2,67.8h0M314.5,67.3h0M314.8,66.3h0M315.2,66.5h0M315.5,67.4h0M315.8,68.3h0M316.1,66.0h0M316.5,65.9h0M316.8,65.6h0M317.1,66.0h0M317.5,64.4h0M317.8,64.6h0M318.1,65.7h0M318.5,65.6h0M318.8,65.8h0M319.1,66.8h0M319.4,67.4h0M319.8,68.5h0M320.1,67.0h0M320.4,68.9h0M320.8,68.2h0M321.1,67.3h0M321.4,67.6h0M321.8,67.3h0M322.1,67.9h0M322.4,68.3h0M322.7,64.8h0M323.1,64.0h0M323.4,64.8h0M323.7,63.3h0M324.1,62.9h0M324.4,59.9h0M324.7,59.2h0M325.1,55.8h0M325.4,55.5h0M325.7,57.0h0M326.0,57.7h0M326.4,58.1h0M326.7,56.6h0M327.0,55.2h0M327.4,55.1h0M327.7,53.5h0M328.0,56.1h0M328.4,57.2h0M328.7,56.0h0M329.0,58.4h0M329.3,56.6h0M329.7,58.1h0M330.0,57.0h0M330.3,55.6h0M330.7,57.0h0M331.0,55.8h0M331.3,57.5h0M331.7,55.9h0M332.0,56.2h0M332.3,55.8h0M332.6,56.6h0M333.0,56.3h0M333.3,57.8h0M333.6,58.3h0M334.0,58.2h0M334.3,58.2h0M334.6,60.3h0M335.0,58.5h0M335.3,58.0h0M335.6,58.9h0M335.9,58.4h0M336.3,56.7h0M336.6,57.5h0M336.9,57.4h0M337.3,56.8h0M337.6,57.4h0M337.9,56.3h0M338.3,56.6h0M338.6,55.7h0M338.9,57.8h0M339.2,56.5h0M339.6,56.7h0M339.9,56.9h0M340.2,58.0h0M340.6,58.2h0M340.9,59.6h0M341.2,60.1h0M341.6,58.5h0M341.9,61.1h0M342.2,61.0h0M342.5,63.5h0M342.9,64.2h0M343.2,64.5h0M343.5,63.2h0M343.9,63.7h0M344.2,65.3h0M344.5,67.1h0M344.9,67.3h0M345.2,70.4h0M345.5,70.3h0M345.8,69.9h0M346.2,69.3h0M346.5,69.9h0M346.8,70.4h0M347.2,70.6h0M347.5,71.3h0M347.8,72.7h0M348.2,71.2h0M348.5,73.0h0M348.8,74.7h0M349.1,73.3h0M349.5,74.4h0M349.8,74.9h0M350.1,75.1h0M350.5,77.8h0M350.8,78.1h0M351.1,80.3h0M351.5,80.9h0M351.8,80.8h0M352.1,81.5h0M352.4,81.5h0M352.8,80.6h0M353.1,83.4h0M353.4,83.6h0M353.8,84.7h0M354.1,82.6h0M354.4,84.3h0M354.8,84.5h0M355.1,83.8h0M355.4,81.6h0M355.7,82.8h0M356.1,82.5h0M356.4,82.7h0M356.7,82.7h0M357.1,81.5h0M357.4,81.6h0M357.7,81.4h0M358.1,82.3h0M358.4,80.9h0M358.7,82.4h0M359.0,79.3h0M359.4,79.1h0M359.7,80.1h0M360.0,77.6h0M360.4,78.6h0M360.7,78.5h0" fill="none" stroke="#EDB120" stroke-width="1.35" stroke-linecap="round"/>
<path d="M32.0,103.2h0M32.3,101.9h0M32.7,103.0h0M33.0,103.7h0M33.3,105.0h0M33.7,103.9h0M34.0,105.0h0M34.3,105.3h0M34.7,104.8h0M35.0,104.9h0M35.3,105.1h0M35.6,105.3h0M36.0,104.8h0M36.3,105.7h0M36.6,105.1h0M37.0,102.5h0M37.3,105.6h0M37.6,104.9h0M38.0,103.9h0M38.3,104.1h0M38.6,103.8h0M38.9,103.1h0M39.3,101.7h0M39.6,101.9h0M39.9,100.0h0M40.3,101.9h0M40.6,100.0h0M40.9,100.3h0M41.3,100.4h0M41.6,100.5h0M41.9,100.0h0M42.2,100.4h0M42.6,96.7h0M42.9,98.6h0M43.2,99.0h0M43.6,98.8h0M43.9,100.7h0M44.2,99.2h0M44.6,99.6h0M44.9,98.1h0M45.2,99.8h0M45.5,98.8h0M45.9,98.6h0M46.2,102.2h0M46.5,101.9h0M46.9,101.4h0M47.2,101.9h0M47.5,100.9h0M47.9,101.4h0M48.2,103.3h0M48.5,101.9h0M48.8,104.0h0M49.2,103.2h0M49.5,105.3h0M49.8,105.4h0M50.2,108.7h0M50.5,109.6h0M50.8,109.1h0M51.2,108.3h0M51.5,109.7h0M51.8,111.4h0M52.1,112.0h0M52.5,114.4h0M52.8,116.6h0M53.1,117.3h0M53.5,118.0h0M53.8,120.3h0M54.1,120.9h0M54.5,123.1h0M54.8,123.6h0M55.1,126.4h0M55.4,126.5h0M55.8,126.7h0M56.1,128.7h0M56.4,129.6h0M56.8,130.5h0M57.1,132.5h0M57.4,134.8h0M57.8,133.7h0M58.1,136.3h0M58.4,137.9h0M58.7,139.2h0M59.1,141.3h0M59.4,140.8h0M59.7,143.3h0M60.1,143.7h0M60.4,144.7h0M60.7,145.3h0M61.1,145.9h0M61.4,145.3h0M61.7,145.5h0M62.0,146.7h0M62.4,145.7h0M62.7,144.9h0M63.0,145.0h0M63.4,144.6h0M63.7,146.0h0M64.0,148.2h0M64.4,144.6h0M64.7,144.1h0M65.0,143.0h0M65.3,140.8h0M65.7,138.5h0M66.0,132.8h0M66.3,131.4h0M66.7,128.6h0M67.0,126.4h0M67.3,122.9h0M67.7,120.6h0M68.0,117.4h0M68.3,114.7h0M68.6,111.4h0M69.0,109.6h0M69.3,107.9h0M69.6,104.1h0M70.0,101.5h0M70.3,99.2h0M70.6,96.1h0M71.0,94.2h0M71.3,91.8h0M71.6,88.4h0M71.9,86.2h0M72.3,85.7h0M72.6,84.1h0M72.9,83.3h0M73.3,81.4h0M73.6,79.8h0M73.9,76.8h0M74.3,77.7h0M74.6,75.1h0M74.9,75.2h0M75.2,72.7h0M75.6,72.0h0M75.9,72.1h0M76.2,71.1h0M76.6,70.1h0M76.9,70.9h0M77.2,70.8h0M77.6,70.2h0M77.9,69.2h0M78.2,68.2h0M78.5,68.0h0M78.9,67.6h0M79.2,67.8h0M79.5,68.0h0M79.9,66.6h0M80.2,65.1h0M80.5,64.3h0M80.9,65.2h0M81.2,64.0h0M81.5,63.1h0M81.8,62.4h0M82.2,61.8h0M82.5,60.7h0M82.8,60.7h0M83.2,59.8h0M83.5,55.6h0M83.8,57.7h0M84.2,61.8h0M84.5,59.8h0M84.8,61.0h0M85.1,62.8h0M85.5,63.6h0M85.8,66.3h0M86.1,65.9h0M86.5,66.9h0M86.8,69.4h0M87.1,70.2h0M87.5,70.6h0M87.8,72.8h0M88.1,73.8h0M88.4,74.4h0M88.8,75.0h0M89.1,76.7h0M89.4,77.7h0M89.8,78.3h0M90.1,80.5h0M90.4,81.8h0M90.8,82.8h0M91.1,84.5h0M91.4,83.6h0M91.7,84.5h0M92.1,85.3h0M92.4,88.6h0M92.7,90.0h0M93.1,93.0h0M93.4,94.5h0M93.7,94.4h0M94.1,94.7h0M94.4,97.2h0M94.7,98.3h0M95.0,99.8h0M95.4,100.3h0M95.7,102.1h0M96.0,102.6h0M96.4,103.4h0M96.7,103.9h0M97.0,103.3h0M97.4,102.3h0M97.7,104.2h0M98.0,104.4h0M98.3,104.4h0M98.7,105.7h0M99.0,105.0h0M99.3,106.2h0M99.7,105.3h0M100.0,105.4h0M100.3,105.2h0M100.7,104.9h0M101.0,102.6h0M101.3,103.6h0M101.6,102.6h0M102.0,101.0h0M102.3,101.5h0M102.6,101.1h0M103.0,101.5h0M103.3,101.0h0M103.6,100.4h0M104.0,98.3h0M104.3,100.5h0M104.6,100.8h0M104.9,100.1h0M105.3,99.5h0M105.6,100.5h0M105.9,99.6h0M106.3,101.4h0M106.6,101.8h0M106.9,101.6h0M107.3,103.4h0M107.6,104.6h0M107.9,106.7h0M108.2,107.3h0M108.6,105.8h0M108.9,105.7h0M109.2,107.9h0M109.6,109.1h0M109.9,108.8h0M110.2,108.4h0M110.6,109.5h0M110.9,109.2h0M111.2,109.6h0M111.5,111.3h0M111.9,111.4h0M112.2,110.5h0M112.5,109.4h0M112.9,109.5h0M113.2,111.0h0M113.5,109.0h0M113.9,110.4h0M114.2,109.1h0M114.5,109.7h0M114.8,111.0h0M115.2,110.5h0M115.5,111.5h0M115.8,110.9h0M116.2,112.9h0M116.5,114.0h0M116.8,112.6h0M117.2,113.0h0M117.5,112.6h0M117.8,110.6h0M118.1,114.1h0M118.5,113.1h0M118.8,112.9h0M119.1,112.3h0M119.5,111.9h0M119.8,113.6h0M120.1,110.2h0M120.5,110.4h0M120.8,110.3h0M121.1,110.3h0M121.4,111.0h0M121.8,109.9h0M122.1,108.9h0M122.4,108.7h0M122.8,110.0h0M123.1,110.8h0M123.4,110.8h0M123.8,111.4h0M124.1,109.6h0M124.4,110.6h0M124.7,110.8h0M125.1,110.2h0M125.4,109.7h0M125.7,111.1h0M126.1,110.3h0M126.4,110.6h0M126.7,110.2h0M127.1,112.8h0M127.4,112.2h0M127.7,111.8h0M128.0,112.2h0M128.4,112.5h0M128.7,113.1h0M129.0,111.9h0M129.4,112.1h0M129.7,113.1h0M130.0,113.5h0M130.4,111.3h0M130.7,111.3h0M131.0,110.3h0M131.3,108.1h0M131.7,108.8h0M132.0,108.3h0M132.3,110.1h0M132.7,109.8h0M133.0,109.9h0M133.3,108.7h0M133.7,109.9h0M134.0,108.4h0M134.3,110.0h0M134.6,111.9h0M135.0,110.5h0M135.3,112.2h0M135.6,113.5h0M136.0,112.8h0M136.3,114.1h0M136.6,113.8h0M137.0,113.7h0M137.3,113.0h0M137.6,114.2h0M137.9,114.9h0M138.3,119.1h0M138.6,119.1h0M138.9,119.4h0M139.3,119.0h0M139.6,122.0h0M139.9,120.5h0M140.3,122.8h0M140.6,123.4h0M140.9,123.0h0M141.2,122.5h0M141.6,123.2h0M141.9,122.6h0M142.2,123.9h0M142.6,125.2h0M142.9,124.8h0M143.2,124.7h0M143.6,123.0h0M143.9,123.4h0M144.2,122.2h0M144.5,122.5h0M144.9,124.1h0M145.2,126.6h0M145.5,125.5h0M145.9,125.4h0M146.2,124.1h0M146.5,126.3h0M146.9,126.5h0M147.2,126.7h0M147.5,127.3h0M147.8,128.5h0M148.2,124.8h0M148.5,122.1h0M148.8,118.8h0M149.2,116.6h0M149.5,115.6h0M149.8,113.1h0M150.2,110.7h0M150.5,109.2h0M150.8,106.2h0M151.1,102.9h0M151.5,100.7h0M151.8,97.9h0M152.1,97.5h0M152.5,95.2h0M152.8,94.0h0M153.1,92.6h0M153.5,89.2h0M153.8,88.2h0M154.1,88.3h0M154.4,86.6h0M154.8,86.1h0M155.1,84.3h0M155.4,82.5h0M155.8,82.2h0M156.1,80.1h0M156.4,81.4h0M156.8,80.2h0M157.1,81.1h0M157.4,78.5h0M157.7,78.5h0M158.1,78.6h0M158.4,78.1h0M158.7,78.3h0M159.1,77.3h0M159.4,76.5h0M159.7,76.2h0M160.1,77.1h0M160.4,77.4h0M160.7,78.7h0M161.0,78.8h0M161.4,78.7h0M161.7,78.9h0M162.0,78.1h0M162.4,79.3h0M162.7,80.4h0M163.0,79.3h0M163.4,80.0h0M163.7,81.1h0M164.0,80.3h0M164.3,80.9h0M164.7,80.6h0M165.0,83.2h0M165.3,83.1h0M165.7,83.0h0M166.0,81.3h0M166.3,82.1h0M166.7,81.7h0M167.0,82.1h0M167.3,81.7h0M167.6,82.6h0M168.0,82.3h0M168.3,83.5h0M168.6,85.5h0M169.0,83.5h0M169.3,83.3h0M169.6,85.2h0M170.0,86.9h0M170.3,86.9h0M170.6,88.6h0M170.9,89.8h0M171.3,91.1h0M171.6,93.1h0M171.9,92.5h0M172.3,94.2h0M172.6,95.0h0M172.9,95.1h0M173.3,96.9h0M173.6,96.1h0M173.9,95.8h0M174.2,98.3h0M174.6,97.3h0M174.9,99.8h0M175.2,100.1h0M175.6,99.1h0M175.9,98.6h0M176.2,97.0h0M176.6,98.5h0M176.9,97.4h0M177.2,99.9h0M177.5,97.6h0M177.9,98.5h0M178.2,96.1h0M178.5,97.6h0M178.9,100.0h0M179.2,99.3h0M179.5,98.9h0M179.9,99.4h0M180.2,100.5h0M180.5,101.6h0M180.8,101.1h0M181.2,99.5h0M181.5,101.4h0M181.8,102.9h0M182.2,104.7h0M182.5,103.6h0M182.8,103.4h0M183.2,103.0h0M183.5,104.3h0M183.8,105.9h0M184.1,104.2h0M184.5,105.0h0M184.8,104.5h0M185.1,105.0h0M185.5,105.9h0M185.8,107.1h0M186.1,106.6h0M186.5,107.4h0M186.8,109.5h0M187.1,109.7h0M187.4,110.4h0M187.8,110.7h0M188.1,110.6h0M188.4,111.5h0M188.8,112.5h0M189.1,112.9h0M189.4,114.6h0M189.8,114.7h0M190.1,116.1h0M190.4,116.1h0M190.7,117.1h0M191.1,116.5h0M191.4,116.8h0M191.7,116.8h0M192.1,119.3h0M192.4,119.8h0M192.7,120.1h0M193.1,120.7h0M193.4,119.8h0M193.7,120.6h0M194.0,120.5h0M194.4,119.4h0M194.7,119.3h0M195.0,117.9h0M195.4,118.8h0M195.7,116.3h0M196.0,114.8h0M196.4,115.7h0M196.7,114.8h0M197.0,113.0h0M197.3,113.5h0M197.7,112.5h0M198.0,114.2h0M198.3,111.8h0M198.7,111.1h0M199.0,108.8h0M199.3,109.8h0M199.7,112.3h0M200.0,110.9h0M200.3,109.5h0M200.6,110.0h0M201.0,109.4h0M201.3,110.0h0M201.6,113.2h0M202.0,114.3h0M202.3,114.8h0M202.6,115.6h0M203.0,114.1h0M203.3,113.4h0M203.6,116.4h0M203.9,117.7h0M204.3,118.4h0M204.6,119.2h0M204.9,120.9h0M205.3,121.9h0M205.6,122.7h0M205.9,123.8h0M206.3,123.4h0M206.6,122.1h0M206.9,122.7h0M207.2,120.6h0M207.6,121.4h0M207.9,119.8h0M208.2,118.3h0M208.6,118.4h0M208.9,116.5h0M209.2,115.7h0M209.6,115.0h0M209.9,115.0h0M210.2,115.5h0M210.5,116.8h0M210.9,115.6h0M211.2,113.6h0M211.5,113.1h0M211.9,111.9h0M212.2,113.8h0M212.5,114.4h0M212.9,114.0h0M213.2,113.8h0M213.5,113.9h0M213.8,113.7h0M214.2,113.8h0M214.5,113.3h0M214.8,111.9h0M215.2,113.1h0M215.5,113.7h0M215.8,111.0h0M216.2,111.3h0M216.5,110.4h0M216.8,111.5h0M217.1,110.8h0M217.5,111.8h0M217.8,111.4h0M218.1,109.4h0M218.5,108.4h0M218.8,107.6h0M219.1,108.1h0M219.5,106.5h0M219.8,106.6h0M220.1,104.2h0M220.4,105.0h0M220.8,104.0h0M221.1,101.5h0M221.4,100.6h0M221.8,100.8h0M222.1,100.5h0M222.4,97.1h0M222.8,98.4h0M223.1,99.8h0M223.4,98.4h0M223.7,97.1h0M224.1,99.0h0M224.4,98.6h0M224.7,98.3h0M225.1,98.6h0M225.4,96.9h0M225.7,97.4h0M226.1,97.6h0M226.4,97.9h0M226.7,98.2h0M227.0,97.3h0M227.4,99.1h0M227.7,98.3h0M228.0,97.9h0M228.4,95.1h0M228.7,95.2h0M229.0,94.9h0M229.4,94.8h0M229.7,94.6h0M230.0,93.0h0M230.3,92.3h0M230.7,93.7h0M231.0,95.2h0M231.3,95.3h0M231.7,93.0h0M232.0,91.7h0M232.3,92.0h0M232.7,92.3h0M233.0,93.4h0M233.3,91.7h0M233.6,90.6h0M234.0,91.7h0M234.3,90.3h0M234.6,89.6h0M235.0,90.5h0M235.3,90.0h0M235.6,89.0h0M236.0,89.4h0M236.3,89.3h0M236.6,89.3h0M236.9,88.8h0M237.3,89.8h0M237.6,89.1h0M237.9,88.6h0M238.3,89.9h0M238.6,88.4h0M238.9,89.4h0M239.3,89.5h0M239.6,88.6h0M239.9,88.8h0M240.2,87.1h0M240.6,88.1h0M240.9,87.0h0M241.2,86.7h0M241.6,87.5h0M241.9,86.6h0M242.2,87.0h0M242.6,87.3h0M242.9,87.6h0M243.2,86.8h0M243.5,86.8h0M243.9,84.9h0M244.2,84.3h0M244.5,84.8h0M244.9,85.1h0M245.2,84.2h0M245.5,82.7h0M245.9,81.5h0M246.2,80.9h0M246.5,82.4h0M246.8,80.5h0M247.2,80.4h0M247.5,80.8h0M247.8,80.4h0M248.2,78.7h0M248.5,80.2h0M248.8,78.5h0M249.2,77.6h0M249.5,77.4h0M249.8,75.8h0M250.1,75.8h0M250.5,74.6h0M250.8,73.1h0M251.1,72.1h0M251.5,72.6h0M251.8,72.0h0M252.1,72.2h0M252.5,72.7h0M252.8,73.6h0M253.1,75.4h0M253.4,76.8h0M253.8,77.0h0M254.1,78.6h0M254.4,78.2h0M254.8,79.8h0M255.1,81.7h0M255.4,83.0h0M255.8,85.8h0M256.1,85.0h0M256.4,88.0h0M256.7,90.1h0M257.1,93.0h0M257.4,92.3h0M257.7,93.9h0M258.1,96.2h0M258.4,97.4h0M258.7,96.9h0M259.1,98.2h0M259.4,98.8h0M259.7,101.1h0M260.0,103.2h0M260.4,105.3h0M260.7,105.8h0M261.0,107.0h0M261.4,108.2h0M261.7,107.5h0M262.0,109.2h0M262.4,110.0h0M262.7,109.3h0M263.0,108.6h0M263.3,109.5h0M263.7,109.9h0M264.0,110.7h0M264.3,108.8h0M264.7,109.7h0M265.0,112.1h0M265.3,112.3h0M265.7,111.1h0M266.0,110.7h0M266.3,110.7h0M266.6,110.1h0M267.0,110.5h0M267.3,111.3h0M267.6,110.7h0M268.0,111.7h0M268.3,112.6h0M268.6,111.7h0M269.0,112.4h0M269.3,111.9h0M269.6,113.2h0M269.9,113.5h0M270.3,112.8h0M270.6,113.0h0M270.9,113.3h0M271.3,113.3h0M271.6,111.4h0M271.9,111.6h0M272.3,110.3h0M272.6,109.2h0M272.9,111.2h0M273.2,111.2h0M273.6,111.4h0M273.9,110.7h0M274.2,109.0h0M274.6,108.9h0M274.9,106.4h0M275.2,105.9h0M275.6,101.9h0M275.9,103.6h0M276.2,103.4h0M276.5,104.5h0M276.9,105.4h0M277.2,104.0h0M277.5,105.5h0M277.9,105.8h0M278.2,103.6h0M278.5,106.2h0M278.9,104.4h0M279.2,103.9h0M279.5,106.0h0M279.8,105.2h0M280.2,106.0h0M280.5,106.1h0M280.8,105.1h0M281.2,107.1h0M281.5,107.5h0M281.8,106.3h0M282.2,107.2h0M282.5,106.0h0M282.8,105.8h0M283.1,105.0h0M283.5,103.5h0M283.8,103.6h0M284.1,102.9h0M284.5,103.6h0M284.8,103.3h0M285.1,102.4h0M285.5,104.1h0M285.8,104.0h0M286.1,105.4h0M286.4,104.0h0M286.8,103.7h0M287.1,103.4h0M287.4,104.4h0M287.8,104.1h0M288.1,103.8h0M288.4,104.9h0M288.8,104.1h0M289.1,102.3h0M289.4,102.3h0M289.7,101.4h0M290.1,100.8h0M290.4,101.2h0M290.7,101.8h0M291.1,102.7h0M291.4,103.5h0M291.7,103.1h0M292.1,102.5h0M292.4,103.2h0M292.7,103.4h0M293.0,103.2h0M293.4,102.2h0M293.7,102.8h0M294.0,101.4h0M294.4,103.7h0M294.7,103.8h0M295.0,103.8h0M295.4,102.5h0M295.7,103.4h0M296.0,104.9h0M296.3,104.2h0M296.7,103.4h0M297.0,104.3h0M297.3,102.9h0M297.7,105.5h0M298.0,105.7h0M298.3,104.0h0M298.7,105.3h0M299.0,106.0h0M299.3,105.7h0M299.6,105.5h0M300.0,106.2h0M300.3,105.3h0M300.6,106.4h0M301.0,105.6h0M301.3,105.1h0M301.6,105.5h0M302.0,105.2h0M302.3,106.6h0M302.6,106.3h0M302.9,107.1h0M303.3,107.2h0M303.6,108.3h0M303.9,108.7h0M304.3,106.6h0M304.6,106.3h0M304.9,106.1h0M305.3,105.6h0M305.6,108.0h0M305.9,108.4h0M306.2,107.5h0M306.6,106.4h0M306.9,106.9h0M307.2,108.0h0M307.6,109.9h0M307.9,108.0h0M308.2,109.9h0M308.6,108.0h0M308.9,109.1h0M309.2,108.2h0M309.5,108.6h0M309.9,107.1h0M310.2,109.4h0M310.5,109.3h0M310.9,108.2h0M311.2,106.7h0M311.5,108.0h0M311.9,108.2h0M312.2,106.9h0M312.5,108.0h0M312.8,107.7h0M313.2,106.5h0M313.5,106.3h0M313.8,104.6h0M314.2,106.8h0M314.5,107.6h0M314.8,106.6h0M315.2,105.1h0M315.5,105.0h0M315.8,106.0h0M316.1,106.0h0M316.5,107.3h0M316.8,106.9h0M317.1,108.6h0M317.5,109.6h0M317.8,108.5h0M318.1,108.2h0M318.5,106.4h0M318.8,108.8h0M319.1,110.1h0M319.4,109.5h0M319.8,111.4h0M320.1,110.6h0M320.4,110.1h0M320.8,112.0h0M321.1,112.5h0M321.4,110.6h0M321.8,111.5h0M322.1,111.5h0M322.4,112.6h0M322.7,113.6h0M323.1,113.5h0M323.4,114.3h0M323.7,115.4h0M324.1,114.9h0M324.4,114.1h0M324.7,114.2h0M325.1,115.8h0M325.4,117.1h0M325.7,114.8h0M326.0,113.6h0M326.4,111.3h0M326.7,109.8h0M327.0,109.9h0M327.4,108.1h0M327.7,108.1h0M328.0,107.7h0M328.4,108.2h0M328.7,107.2h0M329.0,106.3h0M329.3,105.5h0M329.7,104.8h0M330.0,105.9h0M330.3,107.0h0M330.7,103.9h0M331.0,105.1h0M331.3,103.5h0M331.7,103.2h0M332.0,103.3h0M332.3,103.0h0M332.6,102.7h0M333.0,102.2h0M333.3,103.9h0M333.6,101.3h0M334.0,101.0h0M334.3,100.6h0M334.6,101.1h0M335.0,100.1h0M335.3,101.3h0M335.6,102.0h0M335.9,104.1h0M336.3,103.8h0M336.6,103.3h0M336.9,103.5h0M337.3,105.4h0M337.6,104.5h0M337.9,104.0h0M338.3,104.3h0M338.6,104.9h0M338.9,106.5h0M339.2,105.6h0M339.6,106.0h0M339.9,106.9h0M340.2,106.6h0M340.6,108.1h0M340.9,107.9h0M341.2,108.8h0M341.6,109.4h0M341.9,110.6h0M342.2,111.5h0M342.5,109.0h0M342.9,107.4h0M343.2,106.7h0M343.5,107.7h0M343.9,107.6h0M344.2,106.8h0M344.5,106.1h0M344.9,106.9h0M345.2,106.2h0M345.5,105.0h0M345.8,104.6h0M346.2,102.2h0M346.5,103.5h0M346.8,104.3h0M347.2,102.4h0M347.5,101.0h0M347.8,101.6h0M348.2,99.9h0M348.5,99.5h0M348.8,99.5h0M349.1,98.5h0M349.5,98.8h0M349.8,96.3h0M350.1,94.8h0M350.5,97.0h0M350.8,97.3h0M351.1,96.8h0M351.5,95.9h0M351.8,96.4h0M352.1,97.2h0M352.4,96.4h0M352.8,97.7h0M353.1,97.5h0M353.4,100.3h0M353.8,99.9h0M354.1,100.0h0M354.4,101.2h0M354.8,102.0h0M355.1,102.7h0M355.4,101.9h0M355.7,102.9h0M356.1,104.3h0M356.4,104.6h0M356.7,104.8h0M357.1,104.4h0M357.4,105.1h0M357.7,106.5h0M358.1,104.8h0M358.4,104.3h0M358.7,104.4h0M359.0,104.3h0M359.4,106.6h0M359.7,107.7h0M360.0,106.7h0M360.4,105.9h0M360.7,106.7h0" fill="none" stroke="#D95319" stroke-width="1.35" stroke-linecap="round"/>
<path d="M32.0,101.2h0M32.3,101.9h0M32.7,99.9h0M33.0,100.7h0M33.3,99.6h0M33.7,99.0h0M34.0,100.5h0M34.3,99.0h0M34.7,97.7h0M35.0,97.5h0M35.3,97.2h0M35.6,95.6h0M36.0,95.1h0M36.3,93.0h0M36.6,92.4h0M37.0,92.3h0M37.3,91.7h0M37.6,91.4h0M38.0,91.4h0M38.3,92.7h0M38.6,93.6h0M38.9,94.3h0M39.3,95.3h0M39.6,94.8h0M39.9,96.2h0M40.3,97.4h0M40.6,98.7h0M40.9,98.1h0M41.3,98.0h0M41.6,96.4h0M41.9,97.2h0M42.2,95.9h0M42.6,96.1h0M42.9,98.4h0M43.2,96.0h0M43.6,98.1h0M43.9,98.7h0M44.2,98.6h0M44.6,99.6h0M44.9,100.3h0M45.2,101.3h0M45.5,100.7h0M45.9,100.5h0M46.2,100.8h0M46.5,100.8h0M46.9,102.0h0M47.2,102.0h0M47.5,103.9h0M47.9,102.2h0M48.2,102.7h0M48.5,103.2h0M48.8,102.7h0M49.2,106.4h0M49.5,104.0h0M49.8,105.5h0M50.2,106.0h0M50.5,108.5h0M50.8,106.2h0M51.2,108.6h0M51.5,108.0h0M51.8,108.6h0M52.1,108.7h0M52.5,110.2h0M52.8,109.3h0M53.1,110.4h0M53.5,111.3h0M53.8,112.8h0M54.1,109.2h0M54.5,111.5h0M54.8,111.5h0M55.1,110.1h0M55.4,110.2h0M55.8,109.4h0M56.1,110.9h0M56.4,110.3h0M56.8,109.8h0M57.1,109.7h0M57.4,109.8h0M57.8,109.9h0M58.1,109.4h0M58.4,111.9h0M58.7,109.4h0M59.1,107.6h0M59.4,110.6h0M59.7,111.8h0M60.1,113.1h0M60.4,113.3h0M60.7,113.8h0M61.1,114.8h0M61.4,116.2h0M61.7,115.9h0M62.0,116.4h0M62.4,119.2h0M62.7,119.3h0M63.0,118.5h0M63.4,121.8h0M63.7,122.0h0M64.0,121.4h0M64.4,121.3h0M64.7,123.3h0M65.0,123.4h0M65.3,123.9h0M65.7,124.5h0M66.0,126.0h0M66.3,128.6h0M66.7,128.2h0M67.0,127.4h0M67.3,128.4h0M67.7,127.6h0M68.0,127.5h0M68.3,127.3h0M68.6,125.4h0M69.0,124.4h0M69.3,123.6h0M69.6,122.0h0M70.0,122.7h0M70.3,123.0h0M70.6,121.6h0M71.0,120.3h0M71.3,119.5h0M71.6,118.3h0M71.9,117.3h0M72.3,116.8h0M72.6,115.6h0M72.9,115.0h0M73.3,113.2h0M73.6,113.7h0M73.9,113.0h0M74.3,111.1h0M74.6,108.9h0M74.9,109.7h0M75.2,110.3h0M75.6,108.2h0M75.9,107.2h0M76.2,106.2h0M76.6,106.4h0M76.9,104.4h0M77.2,105.0h0M77.6,103.5h0M77.9,103.6h0M78.2,102.3h0M78.5,101.1h0M78.9,99.1h0M79.2,98.7h0M79.5,98.8h0M79.9,99.5h0M80.2,99.2h0M80.5,98.1h0M80.9,98.6h0M81.2,99.2h0M81.5,98.1h0M81.8,97.4h0M82.2,96.5h0M82.5,96.8h0M82.8,96.1h0M83.2,94.1h0M83.5,94.1h0M83.8,92.8h0M84.2,91.6h0M84.5,92.3h0M84.8,91.1h0M85.1,88.4h0M85.5,87.4h0M85.8,86.6h0M86.1,84.4h0M86.5,83.3h0M86.8,82.7h0M87.1,80.0h0M87.5,80.7h0M87.8,80.9h0M88.1,80.4h0M88.4,78.2h0M88.8,78.6h0M89.1,77.3h0M89.4,77.9h0M89.8,78.1h0M90.1,77.6h0M90.4,76.5h0M90.8,76.2h0M91.1,77.3h0M91.4,76.6h0M91.7,78.0h0M92.1,78.8h0M92.4,78.6h0M92.7,81.4h0M93.1,81.0h0M93.4,83.6h0M93.7,81.5h0M94.1,81.4h0M94.4,85.1h0M94.7,86.8h0M95.0,87.4h0M95.4,88.8h0M95.7,88.4h0M96.0,90.4h0M96.4,91.3h0M96.7,93.0h0M97.0,95.2h0M97.4,95.8h0M97.7,97.0h0M98.0,96.8h0M98.3,97.3h0M98.7,98.3h0M99.0,98.6h0M99.3,100.5h0M99.7,99.5h0M100.0,102.1h0M100.3,100.7h0M100.7,102.4h0M101.0,101.6h0M101.3,103.8h0M101.6,103.4h0M102.0,103.8h0M102.3,104.6h0M102.6,103.9h0M103.0,103.6h0M103.3,102.8h0M103.6,105.7h0M104.0,105.1h0M104.3,105.2h0M104.6,106.0h0M104.9,108.3h0M105.3,105.9h0M105.6,107.3h0M105.9,107.6h0M106.3,108.9h0M106.6,107.5h0M106.9,108.8h0M107.3,110.7h0M107.6,112.3h0M107.9,113.1h0M108.2,111.5h0M108.6,112.1h0M108.9,112.5h0M109.2,111.7h0M109.6,111.8h0M109.9,114.1h0M110.2,114.6h0M110.6,114.6h0M110.9,115.8h0M111.2,114.3h0M111.5,115.3h0M111.9,115.2h0M112.2,115.2h0M112.5,115.7h0M112.9,115.7h0M113.2,115.5h0M113.5,115.2h0M113.9,116.4h0M114.2,114.4h0M114.5,114.8h0M114.8,114.4h0M115.2,113.1h0M115.5,113.7h0M115.8,113.1h0M116.2,115.1h0M116.5,114.0h0M116.8,113.7h0M117.2,114.1h0M117.5,114.5h0M117.8,114.6h0M118.1,114.4h0M118.5,113.3h0M118.8,112.1h0M119.1,112.9h0M119.5,112.8h0M119.8,111.5h0M120.1,112.6h0M120.5,111.9h0M120.8,110.3h0M121.1,110.8h0M121.4,109.0h0M121.8,108.6h0M122.1,109.3h0M122.4,107.5h0M122.8,107.8h0M123.1,106.1h0M123.4,106.9h0M123.8,105.3h0M124.1,105.1h0M124.4,103.0h0M124.7,102.9h0M125.1,103.5h0M125.4,102.9h0M125.7,100.4h0M126.1,101.7h0M126.4,101.8h0M126.7,100.3h0M127.1,101.8h0M127.4,100.3h0M127.7,101.0h0M128.0,102.5h0M128.4,103.4h0M128.7,103.8h0M129.0,102.1h0M129.4,101.1h0M129.7,102.8h0M130.0,101.7h0M130.4,102.7h0M130.7,102.0h0M131.0,104.0h0M131.3,104.4h0M131.7,104.4h0M132.0,104.1h0M132.3,104.3h0M132.7,104.3h0M133.0,105.1h0M133.3,105.5h0M133.7,106.0h0M134.0,105.6h0M134.3,107.8h0M134.6,107.2h0M135.0,108.3h0M135.3,108.8h0M135.6,107.2h0M136.0,106.2h0M136.3,108.8h0M136.6,108.3h0M137.0,108.9h0M137.3,109.1h0M137.6,109.8h0M137.9,109.1h0M138.3,110.2h0M138.6,110.5h0M138.9,111.3h0M139.3,109.8h0M139.6,112.5h0M139.9,113.1h0M140.3,111.8h0M140.6,112.6h0M140.9,113.8h0M141.2,115.0h0M141.6,115.1h0M141.9,116.7h0M142.2,116.3h0M142.6,115.5h0M142.9,115.9h0M143.2,117.6h0M143.6,117.2h0M143.9,118.7h0M144.2,119.6h0M144.5,119.7h0M144.9,120.3h0M145.2,119.5h0M145.5,119.6h0M145.9,119.2h0M146.2,119.3h0M146.5,118.6h0M146.9,119.4h0M147.2,119.4h0M147.5,119.3h0M147.8,120.8h0M148.2,121.8h0M148.5,121.5h0M148.8,122.3h0M149.2,121.5h0M149.5,120.6h0M149.8,118.3h0M150.2,116.1h0M150.5,116.9h0M150.8,116.7h0M151.1,116.7h0M151.5,116.1h0M151.8,116.4h0M152.1,114.8h0M152.5,114.8h0M152.8,113.2h0M153.1,110.9h0M153.5,111.4h0M153.8,112.8h0M154.1,109.9h0M154.4,111.0h0M154.8,109.4h0M155.1,108.7h0M155.4,108.4h0M155.8,107.9h0M156.1,106.1h0M156.4,106.0h0M156.8,105.7h0M157.1,105.5h0M157.4,103.4h0M157.7,104.3h0M158.1,104.4h0M158.4,104.2h0M158.7,100.3h0M159.1,99.8h0M159.4,97.3h0M159.7,98.0h0M160.1,97.8h0M160.4,95.6h0M160.7,94.0h0M161.0,94.5h0M161.4,94.6h0M161.7,93.0h0M162.0,92.6h0M162.4,90.1h0M162.7,90.6h0M163.0,91.1h0M163.4,90.9h0M163.7,91.7h0M164.0,89.6h0M164.3,88.0h0M164.7,90.0h0M165.0,89.6h0M165.3,90.3h0M165.7,90.9h0M166.0,91.0h0M166.3,91.6h0M166.7,91.4h0M167.0,88.2h0M167.3,88.4h0M167.6,90.1h0M168.0,88.1h0M168.3,88.4h0M168.6,87.3h0M169.0,86.4h0M169.3,87.9h0M169.6,87.8h0M170.0,86.4h0M170.3,87.0h0M170.6,85.6h0M170.9,86.8h0M171.3,89.4h0M171.6,90.2h0M171.9,90.0h0M172.3,91.8h0M172.6,92.8h0M172.9,94.6h0M173.3,95.4h0M173.6,95.1h0M173.9,95.5h0M174.2,96.5h0M174.6,97.4h0M174.9,99.8h0M175.2,101.2h0M175.6,102.1h0M175.9,102.0h0M176.2,101.4h0M176.6,102.4h0M176.9,101.7h0M177.2,102.2h0M177.5,100.8h0M177.9,101.7h0M178.2,103.7h0M178.5,102.1h0M178.9,101.0h0M179.2,101.7h0M179.5,103.4h0M179.9,103.5h0M180.2,101.8h0M180.5,101.0h0M180.8,101.0h0M181.2,100.6h0M181.5,101.7h0M181.8,102.0h0M182.2,101.4h0M182.5,102.3h0M182.8,103.2h0M183.2,103.2h0M183.5,103.2h0M183.8,105.2h0M184.1,106.8h0M184.5,105.5h0M184.8,105.1h0M185.1,106.0h0M185.5,105.7h0M185.8,105.3h0M186.1,107.1h0M186.5,105.2h0M186.8,104.8h0M187.1,104.6h0M187.4,104.1h0M187.8,104.4h0M188.1,105.1h0M188.4,105.9h0M188.8,105.6h0M189.1,105.0h0M189.4,103.8h0M189.8,104.6h0M190.1,104.1h0M190.4,104.8h0M190.7,106.0h0M191.1,106.0h0M191.4,106.5h0M191.7,106.8h0M192.1,108.3h0M192.4,109.5h0M192.7,109.6h0M193.1,110.3h0M193.4,112.1h0M193.7,110.8h0M194.0,111.8h0M194.4,111.9h0M194.7,114.7h0M195.0,115.1h0M195.4,115.3h0M195.7,115.3h0M196.0,115.3h0M196.4,115.4h0M196.7,113.8h0M197.0,115.0h0M197.3,115.8h0M197.7,114.3h0M198.0,115.6h0M198.3,115.7h0M198.7,113.6h0M199.0,113.8h0M199.3,113.8h0M199.7,113.5h0M200.0,114.1h0M200.3,112.7h0M200.6,113.5h0M201.0,114.3h0M201.3,115.1h0M201.6,114.9h0M202.0,114.7h0M202.3,115.7h0M202.6,113.7h0M203.0,115.8h0M203.3,115.4h0M203.6,114.5h0M203.9,115.1h0M204.3,114.0h0M204.6,113.6h0M204.9,115.1h0M205.3,115.2h0M205.6,115.9h0M205.9,114.1h0M206.3,112.6h0M206.6,112.0h0M206.9,113.6h0M207.2,112.1h0M207.6,110.5h0M207.9,109.1h0M208.2,107.8h0M208.6,107.6h0M208.9,107.4h0M209.2,107.2h0M209.6,106.5h0M209.9,104.8h0M210.2,102.8h0M210.5,102.1h0M210.9,100.8h0M211.2,101.8h0M211.5,103.5h0M211.9,103.5h0M212.2,104.3h0M212.5,103.1h0M212.9,105.0h0M213.2,105.2h0M213.5,105.3h0M213.8,105.9h0M214.2,103.9h0M214.5,105.1h0M214.8,105.3h0M215.2,108.1h0M215.5,107.2h0M215.8,106.5h0M216.2,107.4h0M216.5,105.9h0M216.8,107.6h0M217.1,106.1h0M217.5,106.2h0M217.8,105.3h0M218.1,106.6h0M218.5,104.2h0M218.8,106.0h0M219.1,105.1h0M219.5,105.5h0M219.8,104.5h0M220.1,105.3h0M220.4,105.5h0M220.8,106.1h0M221.1,106.2h0M221.4,106.7h0M221.8,107.3h0M222.1,106.4h0M222.4,105.6h0M222.8,105.4h0M223.1,106.8h0M223.4,105.6h0M223.7,106.0h0M224.1,104.7h0M224.4,102.8h0M224.7,103.4h0M225.1,104.0h0M225.4,101.7h0M225.7,101.0h0M226.1,101.4h0M226.4,103.6h0M226.7,103.2h0M227.0,102.6h0M227.4,103.1h0M227.7,102.3h0M228.0,101.8h0M228.4,100.7h0M228.7,99.8h0M229.0,99.7h0M229.4,99.3h0M229.7,99.1h0M230.0,97.5h0M230.3,97.4h0M230.7,97.0h0M231.0,96.2h0M231.3,96.1h0M231.7,96.1h0M232.0,95.1h0M232.3,94.4h0M232.7,92.9h0M233.0,93.3h0M233.3,92.8h0M233.6,92.7h0M234.0,92.5h0M234.3,93.9h0M234.6,96.3h0M235.0,95.4h0M235.3,95.0h0M235.6,95.5h0M236.0,94.9h0M236.3,95.9h0M236.6,96.0h0M236.9,96.5h0M237.3,97.9h0M237.6,98.8h0M237.9,98.2h0M238.3,97.2h0M238.6,97.6h0M238.9,96.3h0M239.3,97.4h0M239.6,96.4h0M239.9,96.2h0M240.2,96.6h0M240.6,96.2h0M240.9,94.1h0M241.2,94.1h0M241.6,94.3h0M241.9,92.8h0M242.2,90.8h0M242.6,92.1h0M242.9,92.0h0M243.2,91.9h0M243.5,91.1h0M243.9,90.4h0M244.2,89.9h0M244.5,90.3h0M244.9,89.1h0M245.2,88.4h0M245.5,86.7h0M245.9,87.1h0M246.2,85.4h0M246.5,85.2h0M246.8,82.1h0M247.2,82.7h0M247.5,82.1h0M247.8,81.3h0M248.2,82.7h0M248.5,82.2h0M248.8,81.5h0M249.2,80.9h0M249.5,82.8h0M249.8,82.2h0M250.1,81.9h0M250.5,80.2h0M250.8,81.2h0M251.1,80.5h0M251.5,79.3h0M251.8,78.8h0M252.1,76.9h0M252.5,78.1h0M252.8,76.7h0M253.1,78.3h0M253.4,77.8h0M253.8,77.7h0M254.1,78.7h0M254.4,79.0h0M254.8,78.0h0M255.1,78.8h0M255.4,80.0h0M255.8,80.0h0M256.1,79.4h0M256.4,80.6h0M256.7,80.7h0M257.1,81.5h0M257.4,82.7h0M257.7,83.3h0M258.1,83.7h0M258.4,82.8h0M258.7,84.6h0M259.1,85.0h0M259.4,85.2h0M259.7,86.1h0M260.0,88.3h0M260.4,86.2h0M260.7,85.4h0M261.0,87.3h0M261.4,86.6h0M261.7,88.3h0M262.0,86.8h0M262.4,86.9h0M262.7,88.2h0M263.0,89.2h0M263.3,89.7h0M263.7,90.5h0M264.0,90.7h0M264.3,91.1h0M264.7,92.6h0M265.0,95.9h0M265.3,97.8h0M265.7,98.8h0M266.0,100.6h0M266.3,102.7h0M266.6,104.8h0M267.0,105.4h0M267.3,106.8h0M267.6,108.7h0M268.0,112.2h0M268.3,111.4h0M268.6,112.5h0M269.0,110.8h0M269.3,112.9h0M269.6,111.9h0M269.9,112.2h0M270.3,113.1h0M270.6,114.1h0M270.9,115.0h0M271.3,115.7h0M271.6,115.0h0M271.9,113.7h0M272.3,115.6h0M272.6,113.7h0M272.9,112.9h0M273.2,112.9h0M273.6,111.1h0M273.9,109.3h0M274.2,107.7h0M274.6,107.8h0M274.9,104.3h0M275.2,102.5h0M275.6,102.7h0M275.9,101.3h0M276.2,102.1h0M276.5,104.2h0M276.9,103.6h0M277.2,104.1h0M277.5,104.9h0M277.9,103.6h0M278.2,104.4h0M278.5,103.7h0M278.9,103.0h0M279.2,103.5h0M279.5,103.7h0M279.8,103.4h0M280.2,103.0h0M280.5,104.4h0M280.8,105.4h0M281.2,105.5h0M281.5,105.2h0M281.8,104.6h0M282.2,104.9h0M282.5,105.1h0M282.8,106.6h0M283.1,108.1h0M283.5,109.1h0M283.8,109.0h0M284.1,109.1h0M284.5,110.1h0M284.8,110.9h0M285.1,111.6h0M285.5,112.0h0M285.8,109.8h0M286.1,111.2h0M286.4,107.6h0M286.8,106.3h0M287.1,105.8h0M287.4,105.7h0M287.8,106.2h0M288.1,108.3h0M288.4,106.3h0M288.8,107.2h0M289.1,106.0h0M289.4,105.9h0M289.7,104.7h0M290.1,107.1h0M290.4,105.7h0M290.7,104.7h0M291.1,106.9h0M291.4,105.6h0M291.7,105.4h0M292.1,104.7h0M292.4,103.8h0M292.7,102.7h0M293.0,102.9h0M293.4,104.0h0M293.7,102.7h0M294.0,101.2h0M294.4,101.4h0M294.7,99.1h0M295.0,99.9h0M295.4,98.3h0M295.7,96.6h0M296.0,96.8h0M296.3,96.1h0M296.7,94.6h0M297.0,95.1h0M297.3,96.7h0M297.7,98.1h0M298.0,97.1h0M298.3,95.8h0M298.7,100.0h0M299.0,99.5h0M299.3,99.5h0M299.6,100.6h0M300.0,100.6h0M300.3,102.5h0M300.6,101.9h0M301.0,103.5h0M301.3,103.8h0M301.6,107.2h0M302.0,107.2h0M302.3,108.6h0M302.6,109.6h0M302.9,107.9h0M303.3,108.5h0M303.6,109.9h0M303.9,110.0h0M304.3,110.2h0M304.6,111.3h0M304.9,112.0h0M305.3,111.0h0M305.6,111.4h0M305.9,112.4h0M306.2,112.6h0M306.6,112.8h0M306.9,112.0h0M307.2,114.1h0M307.6,112.9h0M307.9,112.9h0M308.2,112.5h0M308.6,112.4h0M308.9,112.4h0M309.2,111.4h0M309.5,112.1h0M309.9,112.9h0M310.2,112.2h0M310.5,112.2h0M310.9,111.8h0M311.2,111.1h0M311.5,112.3h0M311.9,110.3h0M312.2,110.8h0M312.5,111.6h0M312.8,111.2h0M313.2,110.0h0M313.5,109.7h0M313.8,112.0h0M314.2,110.6h0M314.5,111.1h0M314.8,112.0h0M315.2,112.1h0M315.5,110.7h0M315.8,110.4h0M316.1,112.2h0M316.5,112.3h0M316.8,113.1h0M317.1,113.6h0M317.5,113.7h0M317.8,112.3h0M318.1,111.5h0M318.5,113.5h0M318.8,112.7h0M319.1,111.8h0M319.4,110.8h0M319.8,112.9h0M320.1,112.1h0M320.4,112.2h0M320.8,113.9h0M321.1,114.3h0M321.4,114.8h0M321.8,113.5h0M322.1,111.8h0M322.4,113.0h0M322.7,114.0h0M323.1,114.1h0M323.4,115.6h0M323.7,115.6h0M324.1,114.5h0M324.4,115.6h0M324.7,115.5h0M325.1,115.5h0M325.4,117.1h0M325.7,115.3h0M326.0,117.4h0M326.4,118.1h0M326.7,114.8h0M327.0,115.1h0M327.4,114.7h0M327.7,113.2h0M328.0,112.9h0M328.4,112.3h0M328.7,112.6h0M329.0,111.8h0M329.3,109.9h0M329.7,112.0h0M330.0,112.0h0M330.3,110.2h0M330.7,111.5h0M331.0,114.0h0M331.3,112.4h0M331.7,113.7h0M332.0,114.8h0M332.3,116.2h0M332.6,114.8h0M333.0,112.7h0M333.3,113.7h0M333.6,111.9h0M334.0,111.8h0M334.3,113.3h0M334.6,111.0h0M335.0,110.5h0M335.3,111.5h0M335.6,110.8h0M335.9,111.0h0M336.3,110.6h0M336.6,113.2h0M336.9,112.4h0M337.3,112.2h0M337.6,112.3h0M337.9,112.8h0M338.3,111.5h0M338.6,112.6h0M338.9,114.2h0M339.2,113.0h0M339.6,113.9h0M339.9,114.2h0M340.2,114.1h0M340.6,116.9h0M340.9,116.3h0M341.2,116.0h0M341.6,114.9h0M341.9,115.2h0M342.2,114.9h0M342.5,114.9h0M342.9,115.1h0M343.2,117.1h0M343.5,116.6h0M343.9,116.7h0M344.2,116.2h0M344.5,117.1h0M344.9,114.0h0M345.2,112.3h0M345.5,112.9h0M345.8,112.9h0M346.2,112.5h0M346.5,111.5h0M346.8,111.7h0M347.2,112.1h0M347.5,110.3h0M347.8,108.7h0M348.2,109.0h0M348.5,107.3h0M348.8,106.3h0M349.1,106.1h0M349.5,103.3h0M349.8,105.7h0M350.1,103.9h0M350.5,103.2h0M350.8,102.1h0M351.1,101.2h0M351.5,98.6h0M351.8,100.9h0M352.1,100.7h0M352.4,100.6h0M352.8,103.3h0M353.1,100.3h0M353.4,101.3h0M353.8,101.0h0M354.1,99.8h0M354.4,102.5h0M354.8,100.1h0M355.1,101.0h0M355.4,101.0h0M355.7,101.3h0M356.1,100.3h0M356.4,102.1h0M356.7,101.8h0M357.1,100.6h0M357.4,100.6h0M357.7,102.1h0M358.1,101.5h0M358.4,103.0h0M358.7,103.6h0M359.0,103.2h0M359.4,101.9h0M359.7,102.2h0M360.0,103.9h0M360.4,103.8h0M360.7,106.0h0" fill="none" stroke="#0072BD" stroke-width="1.35" stroke-linecap="round"/>
<text x="102.8" y="200.0" font-size="14" text-anchor="middle" font-weight="bold" textLength="71.5" lengthAdjust="spacingAndGlyphs">State-space</text>
<line x1="43.4" y1="231.3" x2="43.4" y2="303.0" stroke="#8c8c8c" stroke-width="0.8"/>
<line x1="43.4" y1="303.0" x2="94.2" y2="336.9" stroke="#8c8c8c" stroke-width="0.8"/>
<line x1="94.2" y1="336.9" x2="162.5" y2="311.3" stroke="#8c8c8c" stroke-width="0.8"/>
<line x1="43.4" y1="231.3" x2="45.6" y2="231.3" stroke="#8c8c8c" stroke-width="0.8"/>
<text x="39.3" y="232.8" font-size="9" text-anchor="end" class="n" textLength="9.4" lengthAdjust="spacingAndGlyphs">60</text>
<line x1="43.4" y1="249.1" x2="45.6" y2="249.1" stroke="#8c8c8c" stroke-width="0.8"/>
<text x="39.3" y="250.6" font-size="9" text-anchor="end" class="n" textLength="9.4" lengthAdjust="spacingAndGlyphs">40</text>
<line x1="43.4" y1="266.8" x2="45.6" y2="266.8" stroke="#8c8c8c" stroke-width="0.8"/>
<text x="39.3" y="268.3" font-size="9" text-anchor="end" class="n" textLength="9.4" lengthAdjust="spacingAndGlyphs">20</text>
<line x1="43.4" y1="284.6" x2="45.6" y2="284.6" stroke="#8c8c8c" stroke-width="0.8"/>
<text x="39.3" y="286.1" font-size="9" text-anchor="end" class="n" textLength="4.7" lengthAdjust="spacingAndGlyphs">0</text>
<line x1="43.4" y1="302.3" x2="45.6" y2="302.3" stroke="#8c8c8c" stroke-width="0.8"/>
<text x="39.3" y="303.8" font-size="9" text-anchor="end" class="n" textLength="12.7" lengthAdjust="spacingAndGlyphs">-20</text>
<text x="33.9" y="314.0" font-size="9" text-anchor="middle" class="n" textLength="9.4" lengthAdjust="spacingAndGlyphs">50</text>
<text x="61.8" y="330.8" font-size="9" text-anchor="middle" class="n" textLength="4.7" lengthAdjust="spacingAndGlyphs">0</text>
<text x="83.4" y="347.5" font-size="9" text-anchor="middle" class="n" textLength="12.7" lengthAdjust="spacingAndGlyphs">-50</text>
<text x="112.7" y="345.3" font-size="9" text-anchor="middle" class="n" textLength="12.7" lengthAdjust="spacingAndGlyphs">-20</text>
<text x="138.3" y="333.6" font-size="9" text-anchor="middle" class="n" textLength="4.7" lengthAdjust="spacingAndGlyphs">0</text>
<text x="169.6" y="322.3" font-size="9" text-anchor="middle" class="n" textLength="9.4" lengthAdjust="spacingAndGlyphs">20</text>
<text x="39.3" y="349.7" font-size="9.5" text-anchor="middle" class="n" textLength="38" lengthAdjust="spacingAndGlyphs">2nd state</text>
<text x="153.7" y="350.7" font-size="9.5" text-anchor="middle" class="n" textLength="34.6" lengthAdjust="spacingAndGlyphs">1st state</text>
<text x="22.4" y="267.0" font-size="9.5" text-anchor="middle" class="n" transform="rotate(-90 22.4 267.0)" textLength="36" lengthAdjust="spacingAndGlyphs">3rd state</text>
<text x="290.2" y="200.0" font-size="14" text-anchor="middle" font-weight="bold" textLength="71.5" lengthAdjust="spacingAndGlyphs">State-space</text>
<line x1="230.7" y1="229.9" x2="230.7" y2="303.1" stroke="#8c8c8c" stroke-width="0.8"/>
<line x1="230.7" y1="303.1" x2="282.5" y2="337.4" stroke="#8c8c8c" stroke-width="0.8"/>
<line x1="282.5" y1="337.4" x2="349.4" y2="311.3" stroke="#8c8c8c" stroke-width="0.8"/>
<line x1="230.7" y1="229.9" x2="232.9" y2="229.9" stroke="#8c8c8c" stroke-width="0.8"/>
<text x="226.6" y="231.4" font-size="9" text-anchor="end" class="n" textLength="9.4" lengthAdjust="spacingAndGlyphs">50</text>
<line x1="230.7" y1="248.1" x2="232.9" y2="248.1" stroke="#8c8c8c" stroke-width="0.8"/>
<text x="226.6" y="249.6" font-size="9" text-anchor="end" class="n" textLength="9.4" lengthAdjust="spacingAndGlyphs">40</text>
<line x1="230.7" y1="266.3" x2="232.9" y2="266.3" stroke="#8c8c8c" stroke-width="0.8"/>
<text x="226.6" y="267.8" font-size="9" text-anchor="end" class="n" textLength="9.4" lengthAdjust="spacingAndGlyphs">30</text>
<line x1="230.7" y1="284.5" x2="232.9" y2="284.5" stroke="#8c8c8c" stroke-width="0.8"/>
<text x="226.6" y="286.0" font-size="9" text-anchor="end" class="n" textLength="9.4" lengthAdjust="spacingAndGlyphs">20</text>
<line x1="230.7" y1="302.7" x2="232.9" y2="302.7" stroke="#8c8c8c" stroke-width="0.8"/>
<text x="226.6" y="304.2" font-size="9" text-anchor="end" class="n" textLength="9.4" lengthAdjust="spacingAndGlyphs">10</text>
<text x="224.7" y="315.9" font-size="9" text-anchor="middle" class="n" textLength="9.4" lengthAdjust="spacingAndGlyphs">20</text>
<text x="248.3" y="330.0" font-size="9" text-anchor="middle" class="n" textLength="4.7" lengthAdjust="spacingAndGlyphs">0</text>
<text x="267.0" y="344.3" font-size="9" text-anchor="middle" class="n" textLength="12.7" lengthAdjust="spacingAndGlyphs">-20</text>
<text x="292.5" y="347.9" font-size="9" text-anchor="middle" class="n" textLength="12.7" lengthAdjust="spacingAndGlyphs">-20</text>
<text x="321.8" y="335.1" font-size="9" text-anchor="middle" class="n" textLength="4.7" lengthAdjust="spacingAndGlyphs">0</text>
<text x="357.3" y="322.5" font-size="9" text-anchor="middle" class="n" textLength="9.4" lengthAdjust="spacingAndGlyphs">20</text>
<text x="225.8" y="349.7" font-size="9.5" text-anchor="middle" class="n" textLength="38" lengthAdjust="spacingAndGlyphs">2nd state</text>
<text x="340.3" y="350.7" font-size="9.5" text-anchor="middle" class="n" textLength="34.4" lengthAdjust="spacingAndGlyphs">1st state</text>
<text x="212.8" y="267.0" font-size="9.5" text-anchor="middle" class="n" transform="rotate(-90 212.8 267.0)" textLength="36" lengthAdjust="spacingAndGlyphs">3rd state</text>
<text x="102.6" y="383.8" font-size="14" text-anchor="middle" font-weight="bold" textLength="55.8" lengthAdjust="spacingAndGlyphs">Potential</text>
<line x1="36.6" y1="388.6" x2="36.6" y2="520.6" stroke="#8c8c8c" stroke-width="0.8"/>
<line x1="36.2" y1="520.6" x2="168.5" y2="520.6" stroke="#8c8c8c" stroke-width="0.8"/>
<line x1="36.6" y1="403.0" x2="39.2" y2="403.0" stroke="#8c8c8c" stroke-width="0.8"/>
<text x="32.7" y="406.2" font-size="9" text-anchor="end" class="n" textLength="14.2" lengthAdjust="spacingAndGlyphs">100</text>
<line x1="36.6" y1="439.7" x2="39.2" y2="439.7" stroke="#8c8c8c" stroke-width="0.8"/>
<text x="32.7" y="442.9" font-size="9" text-anchor="end" class="n" textLength="9.4" lengthAdjust="spacingAndGlyphs">50</text>
<line x1="36.6" y1="476.4" x2="39.2" y2="476.4" stroke="#8c8c8c" stroke-width="0.8"/>
<text x="32.7" y="479.6" font-size="9" text-anchor="end" class="n" textLength="4.7" lengthAdjust="spacingAndGlyphs">0</text>
<line x1="36.6" y1="513.1" x2="39.2" y2="513.1" stroke="#8c8c8c" stroke-width="0.8"/>
<text x="32.7" y="516.3" font-size="9" text-anchor="end" class="n" textLength="12.7" lengthAdjust="spacingAndGlyphs">-50</text>
<line x1="36.6" y1="520.6" x2="36.6" y2="518.0" stroke="#8c8c8c" stroke-width="0.8"/>
<text x="36.6" y="532.2" font-size="9" text-anchor="middle" class="n" textLength="4.7" lengthAdjust="spacingAndGlyphs">0</text>
<line x1="63.0" y1="520.6" x2="63.0" y2="518.0" stroke="#8c8c8c" stroke-width="0.8"/>
<text x="63.0" y="532.2" font-size="9" text-anchor="middle" class="n" textLength="14.2" lengthAdjust="spacingAndGlyphs">500</text>
<line x1="89.3" y1="520.6" x2="89.3" y2="518.0" stroke="#8c8c8c" stroke-width="0.8"/>
<text x="89.3" y="532.2" font-size="9" text-anchor="middle" class="n" textLength="18.9" lengthAdjust="spacingAndGlyphs">1000</text>
<line x1="115.7" y1="520.6" x2="115.7" y2="518.0" stroke="#8c8c8c" stroke-width="0.8"/>
<text x="115.7" y="532.2" font-size="9" text-anchor="middle" class="n" textLength="18.9" lengthAdjust="spacingAndGlyphs">1500</text>
<line x1="142.1" y1="520.6" x2="142.1" y2="518.0" stroke="#8c8c8c" stroke-width="0.8"/>
<text x="142.1" y="532.2" font-size="9" text-anchor="middle" class="n" textLength="18.9" lengthAdjust="spacingAndGlyphs">2000</text>
<line x1="168.5" y1="520.6" x2="168.5" y2="518.0" stroke="#8c8c8c" stroke-width="0.8"/>
<text x="168.5" y="532.2" font-size="9" text-anchor="middle" class="n" textLength="18.9" lengthAdjust="spacingAndGlyphs">2500</text>
<text x="102.5" y="543.5" font-size="9.5" text-anchor="middle" class="n" textLength="18.5" lengthAdjust="spacingAndGlyphs">time</text>
<text x="16.1" y="454.7" font-size="9.5" text-anchor="middle" class="n" transform="rotate(-90 16.1 454.7)" textLength="66.3" lengthAdjust="spacingAndGlyphs">self-information</text>
<text x="290.2" y="384.3" font-size="12" text-anchor="middle" font-weight="bold" textLength="86.5" lengthAdjust="spacingAndGlyphs">Global potential</text>
<path d="M103.4,289.0L102.5,288.7L101.4,287.8L100.0,286.2L98.2,283.6L96.1,280.0L93.6,275.4L90.8,270.0L88.1,264.5L85.8,259.5L84.4,255.5L83.9,252.7L84.6,251.2L86.3,250.7L88.6,250.8L91.4,251.3L94.2,251.9L97.0,252.7L99.5,253.3L101.8,254.0L103.8,254.6L105.5,255.1L106.9,255.6L108.1,256.0L109.1,256.3L109.9,256.6L110.6,256.8L111.2,256.9L111.7,257.0L112.2,256.9L112.6,256.7L113.0,256.5L113.4,256.1L113.8,255.5L114.2,254.9L114.6,254.1L115.1,253.3L115.5,252.3L116.0,251.2L116.6,250.2L117.1,249.0L117.6,248.0L118.2,247.0L118.7,246.1L119.1,245.3L119.5,244.8L119.8,244.5L120.0,244.5L120.0,244.7L120.0,245.1L119.8,245.7L119.5,246.4L119.1,247.3L118.7,248.2L118.1,249.2L117.6,250.2L117.0,251.2L116.5,252.2L115.9,253.1L115.4,254.0L115.0,254.7L114.6,255.5L114.2,256.1L114.0,256.6L113.7,257.1L113.6,257.4L113.4,257.7L113.4,257.9L113.4,257.9L113.4,257.8L113.5,257.6L113.7,257.3L113.9,256.9L114.1,256.3L114.4,255.5L114.8,254.7L115.2,253.7L115.6,252.5L116.2,251.3L116.7,250.1L117.3,248.8L117.9,247.5L118.5,246.3L119.0,245.3L119.5,244.5L120.0,243.9L120.3,243.6L120.5,243.6L120.6,243.9L120.5,244.4L120.2,245.1L119.8,246.1L119.4,247.1L118.8,248.2L118.2,249.3L117.5,250.5L116.9,251.6L116.3,252.7L115.7,253.7L115.1,254.6L114.6,255.5L114.2,256.3L113.8,257.0L113.5,257.6L113.3,258.1L113.1,258.5L112.9,258.8L112.9,259.0L112.9,259.0L112.9,259.0L113.0,258.8L113.2,258.5L113.4,258.1L113.6,257.4L114.0,256.7L114.3,255.7L114.8,254.6L115.3,253.4L115.8,252.0L116.4,250.6L117.1,249.1L117.8,247.6L118.4,246.1L119.1,244.9L119.8,243.8L120.3,243.0L120.7,242.6L121.0,242.5L121.1,242.8L121.1,243.3L120.8,244.2L120.4,245.2L119.9,246.4L119.2,247.7L118.5,249.0L117.8,250.3L117.0,251.6L116.3,252.8L115.6,254.0L114.9,255.0L114.4,256.0L113.8,256.9L113.4,257.7L113.1,258.4L112.8,259.0L112.6,259.5L112.4,259.9L112.3,260.2L112.3,260.4L112.3,260.5L112.4,260.4L112.5,260.2L112.7,259.8L112.9,259.3L113.2,258.6L113.6,257.8L114.0,256.7L114.5,255.4L115.0,254.0L115.6,252.4L116.3,250.7L117.1,248.9L117.9,247.1L118.7,245.4L119.5,243.9L120.2,242.6L120.9,241.7L121.4,241.2L121.8,241.2L121.9,241.6L121.8,242.3L121.5,243.4L120.9,244.7L120.3,246.1L119.5,247.6L118.6,249.2L117.7,250.7L116.8,252.1L116.0,253.5L115.2,254.8L114.4,255.9L113.8,257.0L113.2,258.0L112.8,258.9L112.4,259.7L112.1,260.4L111.8,261.0L111.7,261.5L111.6,261.9L111.5,262.1L111.5,262.3L111.6,262.4L111.7,262.3L111.8,262.0L112.0,261.6L112.3,261.0L112.6,260.3L113.0,259.3L113.5,258.1L114.0,256.6L114.6,254.9L115.3,253.0L116.1,251.0L117.0,248.8L117.9,246.6L118.9,244.5L119.9,242.6L120.8,241.1L121.7,240.0L122.3,239.4L122.7,239.5L122.9,240.0L122.7,241.0L122.3,242.4L121.6,244.1L120.7,245.8L119.7,247.7L118.7,249.5L117.6,251.2L116.5,252.8L115.5,254.4L114.6,255.8L113.8,257.1L113.1,258.3L112.5,259.4L111.9,260.4L111.5,261.3L111.2,262.1L110.9,262.8L110.7,263.4L110.6,264.0L110.5,264.4L110.5,264.8L110.5,265.0L110.5,265.1L110.7,265.1L110.8,265.0L111.0,264.7L111.3,264.2L111.6,263.6L111.9,262.7L112.4,261.5L112.9,260.1L113.5,258.4L114.1,256.4L114.9,254.1L115.9,251.5L116.9,248.8L118.0,246.0L119.3,243.2L120.5,240.8L121.7,238.8L122.8,237.5L123.6,236.9L124.2,237.1L124.3,238.0L124.0,239.4L123.4,241.3L122.5,243.5L121.3,245.7L120.0,248.0L118.6,250.1L117.3,252.2L116.0,254.0L114.8,255.8L113.7,257.3L112.8,258.8L112.0,260.1L111.3,261.3L110.7,262.4L110.2,263.4L109.8,264.4L109.5,265.3L109.3,266.1L109.1,266.8L109.0,267.5L108.9,268.1L108.9,268.7L108.8,269.2L108.9,269.6L108.9,270.0L109.0,270.3L109.0,270.5L109.2,270.6L109.3,270.6L109.5,270.5L109.7,270.2L109.9,269.8L110.2,269.1L110.5,268.3L110.9,267.1L111.4,265.7L111.9,263.8L112.6,261.6L113.4,258.9L114.3,255.7L115.5,252.1L116.8,248.2L118.4,244.2L120.1,240.2L121.9,236.7L123.7,234.0L125.2,232.4L126.4,232.1L127.0,233.0L127.0,235.0L126.3,237.6L125.1,240.7L123.5,243.8L121.6,246.9L119.7,249.8L117.7,252.4L115.9,254.8L114.3,256.9L112.8,258.7L111.6,260.4L110.5,261.9L109.6,263.3L108.8,264.6L108.2,265.8L107.6,266.9L107.2,268.0L106.8,269.0L106.5,270.0L106.3,271.0L106.0,271.9L105.8,272.8L105.6,273.7L105.4,274.5L105.1,275.4L104.9,276.2L104.6,277.0L104.3,277.7L104.0,278.4L103.6,279.0L103.1,279.6L102.6,279.9L102.0,280.1L101.3,280.0L100.5,279.6L99.5,278.8L98.5,277.6L97.2,276.0L95.9,273.9L94.5,271.4L93.1,268.8L91.8,266.1L90.8,263.5L90.1,261.3L89.9,259.6L90.1,258.3L90.8,257.6L91.8,257.3L93.2,257.3L94.6,257.6L96.2,258.1L97.7,258.8L99.1,259.5L100.4,260.2L101.6,261.1L102.6,261.9L103.5,262.7L104.3,263.6L104.9,264.5L105.4,265.3L105.8,266.1L106.2,266.9L106.5,267.8L106.7,268.5L106.8,269.3L107.0,270.0L107.1,270.7L107.2,271.4L107.2,272.1L107.3,272.8L107.3,273.4L107.3,274.0L107.3,274.6L107.3,275.2L107.3,275.7L107.3,276.3L107.3,276.8L107.3,277.3L107.3,277.9L107.2,278.4L107.2,278.9L107.2,279.4L107.1,279.9L107.1,280.4L107.0,280.9L106.9,281.4L106.8,282.0L106.7,282.5L106.6,283.1L106.5,283.7L106.3,284.4L106.1,285.0L105.9,285.7L105.6,286.4L105.3,287.1L104.9,287.7L104.4,288.2L103.8,288.5L103.1,288.6L102.2,288.2L101.0,287.1L99.5,285.3L97.7,282.5L95.5,278.6L92.9,273.9L90.2,268.6L87.6,263.3L85.6,258.6L84.4,254.9L84.2,252.5L85.2,251.3L87.0,250.9L89.4,251.1L92.1,251.7L94.9,252.3L97.6,253.1L100.0,253.7L102.2,254.4L104.1,255.0L105.7,255.5L107.0,256.0L108.2,256.4L109.1,256.8L109.9,257.1L110.6,257.3L111.1,257.4L111.6,257.5L112.1,257.4L112.5,257.2L112.9,256.9L113.3,256.5L113.7,256.0L114.1,255.3L114.5,254.5L115.0,253.6L115.4,252.5L116.0,251.4L116.5,250.2L117.1,249.0L117.7,247.8L118.2,246.7L118.8,245.8L119.3,245.0L119.7,244.4L120.0,244.1L120.2,244.0L120.3,244.2L120.2,244.6L120.0,245.3L119.7,246.1L119.3,247.1L118.8,248.1L118.2,249.2L117.6,250.2L117.0,251.3L116.4,252.3L115.8,253.3L115.3,254.2L114.8,255.1L114.4,255.8L114.0,256.5L113.7,257.1L113.5,257.6L113.3,257.9L113.2,258.2L113.1,258.4L113.1,258.5L113.1,258.5L113.2,258.3L113.4,258.0L113.6,257.5L113.8,256.9L114.2,256.2L114.5,255.3L114.9,254.3L115.4,253.1L115.9,251.8L116.5,250.4L117.1,249.0L117.8,247.6L118.4,246.3L119.0,245.2L119.6,244.2L120.1,243.5L120.5,243.1L120.8,243.0L120.9,243.3L120.8,243.8L120.6,244.5L120.2,245.5L119.7,246.6L119.1,247.8L118.4,249.1L117.7,250.3L117.0,251.5L116.3,252.6L115.7,253.7L115.1,254.8L114.5,255.7L114.0,256.5L113.6,257.3L113.3,257.9L113.0,258.5L112.8,259.0L112.7,259.3L112.6,259.6L112.6,259.8L112.6,259.8L112.7,259.7L112.8,259.4L113.0,259.0L113.2,258.5L113.5,257.8L113.9,256.9L114.3,255.8L114.8,254.5L115.4,253.1L116.0,251.6L116.6,250.0L117.4,248.3L118.1,246.7L118.9,245.2L119.6,243.8L120.3,242.8L120.8,242.1L121.2,241.8L121.5,241.9L121.5,242.4L121.4,243.1L121.0,244.2L120.5,245.4L119.8,246.8L119.0,248.2L118.2,249.6L117.4,251.0L116.6,252.4L115.8,253.7L115.1,254.8L114.4,255.9L113.8,256.9L113.3,257.8L112.9,258.6L112.6,259.3L112.3,259.9L112.1,260.5L112.0,260.9L111.9,261.2L111.9,261.4L111.9,261.4L112.0,261.4L112.1,261.2L112.3,260.8L112.6,260.3L112.9,259.5L113.2,258.6L113.7,257.5L114.2,256.2L114.8,254.6L115.4,252.9L116.2,251.0L117.0,249.0L117.8,247.0L118.7,245.1L119.6,243.4L120.5,241.9L121.2,240.9L121.8,240.3L122.2,240.3L122.4,240.7L122.3,241.6L121.9,242.8L121.3,244.2L120.6,245.8L119.7,247.5L118.7,249.2L117.7,250.8L116.8,252.4L115.8,253.8L115.0,255.2L114.2,256.4L113.5,257.6L112.9,258.6L112.4,259.6L112.0,260.4L111.6,261.2L111.4,261.9L111.2,262.4L111.1,262.9L111.0,263.3L111.0,263.6L111.0,263.7L111.1,263.7L111.2,263.6L111.4,263.4L111.6,262.9L111.9,262.3L112.3,261.5L112.7,260.4L113.2,259.1L113.7,257.5L114.4,255.6L115.1,253.5L116.0,251.2L116.9,248.8L118.0,246.3L119.1,243.9L120.2,241.7L121.3,240.0L122.2,238.7L123.0,238.2L123.4,238.3L123.6,239.0L123.4,240.2L122.9,241.8L122.0,243.7L121.0,245.7L119.9,247.8L118.7,249.8L117.4,251.7L116.3,253.4L115.2,255.1L114.2,256.6L113.3,257.9L112.5,259.2L111.9,260.4L111.3,261.4L110.9,262.4L110.5,263.2L110.2,264.0L110.0,264.8L109.8,265.4L109.7,266.0L109.7,266.5L109.7,266.9L109.7,267.2L109.8,267.4L109.9,267.5L110.0,267.5L110.2,267.3L110.4,267.0L110.7,266.5L111.0,265.9L111.3,264.9L111.8,263.7L112.3,262.2L112.9,260.3L113.6,258.1L114.4,255.5L115.4,252.6L116.5,249.4L117.8,246.1L119.2,242.8L120.7,239.8L122.2,237.3L123.5,235.6L124.6,234.8L125.3,235.0L125.5,236.1L125.2,237.9L124.5,240.2L123.3,242.8L121.9,245.4L120.4,248.0L118.7,250.4L117.2,252.7L115.7,254.8L114.3,256.6L113.1,258.3L112.0,259.9L111.1,261.3L110.4,262.5L109.7,263.7L109.2,264.9L108.8,265.9L108.4,266.9L108.2,267.8L107.9,268.7L107.8,269.6L107.6,270.4L107.5,271.2L107.4,271.9L107.3,272.7L107.2,273.4L107.1,274.1L107.1,274.8L107.0,275.5L106.9,276.2L106.8,276.8L106.8,277.5L106.7,278.2L106.6,278.9L106.4,279.5L106.3,280.2L106.1,281.0L105.9,281.7L105.7,282.4L105.5,283.1L105.2,283.9L104.8,284.5L104.4,285.1L103.9,285.6L103.2,285.8L102.5,285.8L101.5,285.3L100.4,284.3L99.0,282.6L97.3,280.0L95.3,276.7L93.1,272.7L90.9,268.3L88.8,263.9L87.1,260.0L86.2,256.8L86.1,254.6L86.8,253.4L88.2,252.9L90.2,253.0L92.5,253.4L94.9,254.0L97.2,254.7L99.3,255.5L101.3,256.2L103.0,256.9L104.4,257.6L105.7,258.3L106.7,258.9L107.6,259.5L108.3,260.0L108.9,260.5L109.5,260.9L109.9,261.2L110.3,261.4L110.6,261.5L111.0,261.4L111.3,261.3L111.7,261.0L112.0,260.5L112.4,259.9L112.8,259.1L113.3,258.1L113.8,256.8L114.4,255.4L115.0,253.7L115.7,251.9L116.5,250.0L117.4,248.0L118.3,246.0L119.2,244.1L120.1,242.5L120.9,241.3L121.6,240.5L122.1,240.2L122.4,240.4L122.4,241.1L122.1,242.1L121.7,243.5L121.0,245.0L120.1,246.7L119.2,248.4L118.2,250.0L117.2,251.6L116.3,253.1L115.4,254.6L114.5,255.9L113.8,257.1L113.2,258.2L112.6,259.2L112.1,260.1L111.8,260.9L111.5,261.6L111.2,262.2L111.1,262.7L111.0,263.1L111.0,263.5L111.0,263.7L111.0,263.8L111.1,263.7L111.3,263.6L111.5,263.2L111.8,262.7L112.1,262.0L112.5,261.0L112.9,259.8L113.4,258.4L114.0,256.6L114.7,254.7L115.5,252.5L116.4,250.1L117.4,247.6L118.5,245.1L119.6,242.8L120.7,240.8L121.8,239.3L122.6,238.3L123.3,238.1L123.6,238.5L123.5,239.5L123.2,240.9L122.5,242.7L121.6,244.7L120.5,246.7L119.3,248.8L118.1,250.7L116.9,252.5L115.7,254.3L114.7,255.8L113.7,257.3L112.9,258.6L112.2,259.8L111.6,260.9L111.1,261.9L110.7,262.8L110.3,263.7L110.1,264.4L109.9,265.1L109.8,265.7L109.7,266.3L109.7,266.7L109.7,267.1L109.7,267.4L109.8,267.5L109.9,267.6L110.1,267.5L110.2,267.3L110.5,266.9L110.8,266.4L111.1,265.6L111.5,264.5L111.9,263.2L112.5,261.5L113.1,259.5L113.9,257.2L114.8,254.4L115.8,251.4L117.0,248.1L118.4,244.7L119.8,241.5L121.3,238.6L122.8,236.4L124.0,235.1L125.0,234.7L125.5,235.3L125.5,236.7L125.0,238.7L124.1,241.2L122.8,243.8L121.3,246.5L119.7,249.0L118.1,251.4L116.5,253.6L115.1,255.6L113.8,257.4L112.6,259.0L111.6,260.5L110.8,261.8L110.1,263.1L109.5,264.3L109.0,265.3L108.6,266.4L108.3,267.3L108.0,268.2L107.8,269.1L107.6,270.0L107.5,270.8L107.4,271.6L107.3,272.3L107.2,273.1L107.1,273.8L107.0,274.5L107.0,275.2L106.9,275.9L106.8,276.6L106.7,277.3L106.6,278.0L106.5,278.6L106.4,279.4L106.2,280.1L106.1,280.8L105.9,281.5L105.6,282.3L105.4,283.0L105.1,283.7L104.7,284.4L104.3,284.9L103.7,285.4L103.1,285.6L102.3,285.5L101.3,284.9L100.1,283.8L98.7,282.0L97.0,279.4L95.0,276.0L92.8,272.0L90.6,267.6L88.6,263.4L87.1,259.6L86.3,256.6L86.3,254.6L87.1,253.5L88.6,253.1L90.6,253.2L92.9,253.7L95.2,254.3L97.5,255.0L99.6,255.7L101.4,256.5L103.1,257.2L104.5,257.9L105.7,258.6L106.7,259.2L107.6,259.8L108.3,260.4L108.9,260.8L109.3,261.2L109.8,261.6L110.2,261.8L110.5,261.9L110.8,261.9L111.2,261.8L111.5,261.5L111.8,261.1L112.2,260.5L112.6,259.7L113.1,258.6L113.6,257.4L114.2,256.0L114.8,254.3L115.5,252.4L116.3,250.4L117.2,248.3L118.1,246.2L119.1,244.3L120.0,242.5L120.9,241.1L121.6,240.2L122.2,239.8L122.6,239.9L122.6,240.6L122.4,241.6L122.0,243.0L121.3,244.6L120.4,246.3L119.4,248.0L118.4,249.8L117.4,251.5L116.4,253.0L115.4,254.5L114.5,255.9L113.8,257.1L113.1,258.3L112.5,259.3L112.0,260.2L111.6,261.1L111.3,261.8L111.1,262.5L110.9,263.1L110.8,263.6L110.7,264.0L110.7,264.2L110.7,264.4L110.8,264.5L111.0,264.4L111.2,264.1L111.4,263.7L111.7,263.1L112.0,262.3L112.4,261.2L112.9,259.9L113.5,258.3L114.1,256.5L114.9,254.3L115.7,251.9L116.7,249.3L117.8,246.7L118.9,244.1L120.1,241.7L121.3,239.7L122.3,238.3L123.2,237.6L123.7,237.6L123.9,238.2L123.8,239.5L123.3,241.2L122.5,243.1L121.4,245.3L120.2,247.4L118.9,249.5L117.6,251.5L116.4,253.4L115.2,255.1L114.2,256.6L113.2,258.1L112.4,259.4L111.7,260.6L111.1,261.7L110.6,262.7L110.2,263.6L109.9,264.5L109.7,265.3L109.5,266.0L109.4,266.6L109.3,267.2L109.3,267.7L109.3,268.1L109.3,268.5L109.4,268.7L109.4,268.9L109.6,269.0L109.7,268.9L109.9,268.7L110.2,268.3L110.4,267.8L110.8,267.0L111.1,265.9L111.6,264.6L112.1,262.9L112.8,260.9L113.5,258.4L114.4,255.6" fill="none" stroke="#0072BD" stroke-width="0.4" opacity="0.8"/>
<path d="M105.5,269.1h0M106.1,270.2h0M109.3,266.3h0M109.2,267.3h0M103.7,269.2h0M109.9,273.5h0M108.3,273.2h0M109.4,273.4h0M111.4,273.4h0M116.7,268.8h0M114.5,272.4h0M114.0,271.7h0M114.8,274.3h0M120.2,272.5h0M121.8,273.4h0M126.0,274.0h0M123.4,273.8h0M122.8,273.9h0M121.8,271.0h0M121.1,275.4h0M121.8,276.4h0M117.0,279.4h0M122.4,280.6h0M118.1,277.0h0M113.2,280.7h0M112.1,279.6h0M115.0,277.8h0M112.7,276.3h0M112.4,280.2h0M113.5,277.8h0M106.5,280.7h0M103.3,281.4h0M101.4,280.9h0M105.0,280.1h0M106.8,281.2h0M106.3,281.3h0M104.9,279.5h0M107.7,282.4h0M108.6,280.6h0M104.7,284.5h0M103.8,282.7h0M108.0,282.2h0M107.7,283.3h0M107.6,283.8h0M108.7,280.6h0M108.7,284.5h0M106.3,286.3h0M105.0,290.3h0M101.5,290.3h0M104.1,289.4h0M105.5,286.3h0M106.3,289.5h0M104.4,296.2h0M101.5,297.0h0M101.1,293.9h0M107.8,294.9h0M103.6,293.9h0M94.4,300.5h0M101.7,299.5h0M105.4,298.0h0M105.7,298.5h0M107.0,298.1h0M113.1,296.3h0M106.4,297.4h0M103.9,300.7h0M97.9,303.2h0M98.2,301.3h0M100.6,300.2h0M102.2,299.2h0M107.5,295.2h0M108.5,299.0h0M110.5,297.8h0M108.6,294.1h0M103.3,293.1h0M109.4,294.3h0M111.3,293.4h0M114.2,296.6h0M112.3,295.7h0M112.2,294.9h0M113.2,291.1h0M110.5,289.0h0M115.7,288.1h0M109.1,296.3h0M114.4,293.6h0M112.6,293.6h0M110.9,290.7h0M111.5,289.7h0M108.2,289.8h0M105.3,290.2h0M110.0,287.4h0M111.5,291.2h0M107.8,290.7h0M106.7,293.2h0M107.8,290.2h0M100.0,291.4h0M96.2,290.2h0M94.5,289.2h0M96.4,284.4h0M100.7,279.7h0M102.5,282.8h0M102.9,279.8h0M98.1,281.4h0M97.1,278.6h0M96.5,274.9h0M95.9,274.3h0M93.5,271.4h0M92.0,272.4h0M86.0,268.3h0M83.1,263.8h0M85.1,266.5h0M84.2,260.4h0M83.5,258.9h0M75.8,259.1h0M75.1,254.0h0M74.6,254.9h0M78.4,254.5h0M84.3,250.9h0M76.8,247.7h0M82.6,245.5h0M83.9,246.9h0M80.8,246.7h0M79.0,244.7h0M80.4,244.1h0M81.6,244.4h0M78.3,244.9h0M78.9,243.8h0M79.7,244.3h0M82.0,243.5h0M83.0,247.9h0M82.7,246.4h0M81.3,251.4h0M86.1,250.3h0M81.4,248.8h0M81.0,246.3h0M81.4,244.6h0M84.3,247.3h0M83.3,249.0h0M86.8,247.0h0M83.4,245.9h0M84.6,244.7h0M84.4,246.5h0M87.7,249.8h0M88.5,248.8h0M88.7,249.5h0M90.4,251.6h0M94.1,253.7h0M94.9,255.6h0M89.3,256.1h0M93.5,254.3h0M88.4,252.9h0M95.2,252.4h0M88.8,252.2h0M86.1,252.8h0M86.8,256.4h0M90.0,254.5h0M92.0,249.7h0M96.0,248.6h0M94.7,250.7h0M94.8,247.4h0M92.1,248.4h0M94.0,246.5h0M92.7,244.2h0M95.8,243.7h0M91.1,246.1h0M91.7,244.7h0M93.9,244.6h0M100.4,241.0h0M101.7,240.8h0M107.8,239.5h0M106.8,241.3h0M107.9,241.0h0M112.4,238.7h0M122.9,232.8h0M120.8,236.9h0M118.4,235.2h0M126.4,229.5h0M125.9,228.7h0M124.0,231.8h0M128.9,230.3h0M133.8,228.1h0M134.0,228.9h0M131.2,227.1h0M126.0,224.7h0M127.5,226.9h0M133.5,225.2h0M131.5,226.1h0M134.5,226.4h0M134.2,225.4h0M134.8,224.6h0M138.5,220.2h0M132.3,226.6h0M134.3,227.3h0M128.3,230.4h0M126.4,233.4h0M127.0,234.5h0M122.2,235.7h0M124.8,236.9h0M124.9,234.2h0M125.9,235.9h0M122.2,239.0h0M121.0,237.2h0M126.0,236.5h0M131.2,237.9h0M124.0,239.2h0M118.5,241.4h0M120.3,245.1h0M117.7,248.1h0M117.5,246.2h0M116.5,245.1h0M114.9,247.9h0M114.4,248.9h0M115.0,248.6h0M117.7,248.3h0M111.1,249.3h0M112.5,251.2h0M111.2,251.7h0M112.8,252.6h0M108.1,253.7h0M102.2,254.6h0M102.2,259.7h0M98.7,257.3h0M101.3,253.8h0M100.4,257.0h0M103.2,260.8h0M102.4,262.9h0M101.1,262.4h0M100.0,263.6h0M101.1,262.5h0M102.9,263.3h0M101.0,263.6h0M98.9,267.9h0M98.8,268.2h0M96.6,271.6h0M97.9,270.1h0M96.9,271.2h0M92.7,274.7h0M96.7,273.6h0M93.9,272.7h0M90.3,275.5h0M92.6,275.3h0M92.3,279.3h0M95.2,273.7h0M95.2,274.8h0M94.1,278.0h0M96.1,280.2h0M92.7,276.2h0M93.2,279.0h0M91.5,279.6h0M92.4,279.8h0M94.9,278.6h0M96.1,280.4h0M98.1,279.5h0M97.9,280.4h0M99.2,275.9h0M96.6,279.3h0M97.4,277.6h0M96.2,275.6h0M94.2,280.1h0M92.7,276.0h0M93.2,273.9h0M93.1,272.0h0M93.9,274.2h0M95.2,274.9h0M95.7,274.2h0M93.0,277.5h0M95.0,276.2h0M98.3,275.0h0M93.4,278.2h0M92.8,276.2h0M92.8,272.7h0M94.2,270.9h0M97.3,268.5h0M105.1,269.8h0M101.3,269.0h0M99.4,271.4h0M102.3,273.0h0M101.9,273.7h0M98.5,273.4h0M96.7,272.8h0M96.2,270.3h0M99.7,268.3h0M101.3,266.8h0M99.1,266.8h0M96.0,267.8h0M94.0,266.4h0M92.8,266.6h0M99.6,262.2h0M101.1,262.9h0M106.6,262.5h0M111.5,260.1h0M107.6,261.8h0M110.8,258.8h0M109.0,259.1h0M107.5,259.1h0M109.2,260.1h0M112.1,260.3h0M113.5,260.2h0M115.1,259.0h0M114.2,258.0h0M114.8,254.2h0M110.3,257.0h0M110.6,259.5h0M108.8,259.1h0M105.5,257.8h0M102.2,262.1h0M109.6,259.8h0M112.7,261.0h0M104.7,260.9h0M103.3,260.9h0M109.6,263.1h0M110.3,259.9h0M101.6,263.1h0M112.3,261.7h0M108.6,263.1h0M111.3,262.7h0M106.8,265.7h0M100.5,266.4h0M100.9,265.3h0M100.1,266.1h0M103.9,269.7h0M107.1,266.8h0M104.4,268.1h0M101.8,270.6h0M102.0,269.8h0M98.2,271.9h0M100.2,268.9h0M99.3,269.8h0M96.6,272.1h0M98.0,270.8h0M101.4,268.9h0M100.9,271.5h0M100.6,275.7h0M100.2,276.9h0M100.2,275.8h0M109.1,275.6h0M99.0,273.0h0M92.7,276.9h0M95.1,281.2h0M99.5,278.8h0M97.2,280.2h0M99.3,284.1h0M98.8,280.5h0M96.2,279.3h0M96.3,274.1h0M96.1,276.1h0M99.8,272.4h0M96.9,273.2h0M95.3,277.3h0M100.2,272.1h0M95.0,273.7h0M98.1,272.6h0M99.9,269.6h0M97.0,269.2h0M95.1,274.8h0M91.4,273.5h0M92.0,270.2h0M91.1,273.7h0M91.4,269.2h0M92.3,266.3h0M92.3,264.4h0M92.3,264.5h0M92.8,266.6h0M94.6,261.3h0M92.1,257.4h0M94.1,257.6h0M91.5,254.3h0M88.3,255.4h0M85.0,253.6h0M85.2,247.2h0M89.0,245.7h0M93.0,240.5h0M90.7,242.2h0M89.5,244.2h0M88.4,244.7h0M86.5,240.3h0M88.5,243.1h0M93.2,240.5h0M87.0,244.1h0M86.8,242.3h0M88.6,239.5h0M88.0,242.5h0M86.9,243.9h0M89.7,243.2h0M92.6,240.4h0M91.5,240.8h0M92.8,244.1h0M92.6,241.4h0M90.1,237.1h0M89.3,242.0h0M86.1,243.1h0M89.8,244.5h0M94.4,240.9h0M94.2,233.9h0M97.7,233.2h0M101.0,232.0h0M100.4,232.8h0M99.4,236.1h0M94.1,235.3h0M92.7,233.7h0M90.2,233.5h0M103.7,231.5h0M105.1,232.0h0M109.7,235.0h0M104.9,237.4h0M106.9,235.2h0M106.0,234.2h0M109.5,234.0h0M114.5,231.8h0M115.9,230.6h0M109.4,232.6h0M105.5,236.1h0M113.2,234.3h0M113.6,233.7h0M110.5,234.2h0M114.5,233.9h0M115.0,235.2h0M113.8,235.6h0M117.4,229.6h0M113.7,232.6h0M108.9,232.7h0M114.6,232.4h0M110.3,236.9h0M109.7,235.7h0M111.7,235.6h0M113.9,232.8h0M115.0,232.9h0M115.7,235.6h0M116.0,237.7h0M115.1,234.4h0M122.3,235.7h0M121.5,233.8h0M116.5,234.0h0M120.4,233.9h0M122.0,238.1h0M120.1,237.3h0M121.2,237.5h0M117.0,235.8h0M113.4,234.2h0M115.6,233.2h0M114.4,239.6h0M113.9,239.0h0M114.7,240.8h0M108.0,244.3h0M106.8,247.9h0M109.5,247.8h0M110.8,246.9h0M105.7,250.6h0M107.4,253.0h0M108.7,250.6h0M104.2,253.6h0M101.9,250.3h0M104.8,252.3h0M103.7,254.3h0M106.1,254.0h0M104.1,254.4h0M107.4,253.5h0M97.6,253.9h0M100.6,250.1h0M106.1,249.0h0M109.2,252.2h0M103.4,253.7h0M103.5,254.3h0M104.5,255.3h0M106.5,249.0h0M105.9,252.0h0M107.9,251.6h0M102.2,255.3h0M105.2,252.0h0M108.6,252.6h0M112.0,252.3h0M110.1,251.8h0M104.3,256.8h0M102.4,257.3h0M105.3,259.5h0M101.8,261.4h0M101.6,262.3h0M104.3,262.7h0M105.7,261.7h0M108.8,260.7h0M108.2,259.7h0M101.3,263.7h0M98.6,265.1h0M105.8,260.2h0M101.5,260.5h0M103.2,259.2h0M105.5,263.8h0M106.9,264.3h0M112.1,263.3h0M114.8,263.0h0M117.5,266.7h0M111.4,269.7h0M103.9,269.3h0M101.7,275.5h0M107.8,273.9h0M107.6,273.2h0M108.5,273.1h0M104.7,277.7h0M102.0,275.3h0M99.6,278.2h0M97.8,277.9h0M101.5,278.1h0M97.4,277.0h0M99.0,281.2h0M108.2,276.9h0M105.2,276.9h0M99.8,275.9h0M96.8,279.3h0M96.3,275.8h0M92.8,275.7h0M91.8,277.2h0M91.5,281.0h0M93.9,280.4h0M92.4,277.3h0M98.1,276.6h0M100.1,270.9h0M93.9,271.4h0M95.5,268.8h0M93.7,273.8h0M97.8,273.2h0M93.7,275.1h0M93.7,274.1h0M91.3,273.5h0M93.0,270.5h0M88.1,274.2h0M95.1,273.5h0M94.1,270.8h0M91.6,273.2h0M86.1,272.7h0M91.2,271.4h0M88.1,274.2h0M93.7,276.7h0M89.1,277.1h0M90.2,277.9h0M90.7,277.6h0M97.0,272.6h0M99.4,270.3h0M97.6,274.2h0M94.6,278.3h0M99.4,276.8h0M92.5,279.8h0M92.5,284.0h0M97.4,274.8h0M99.0,272.5h0M100.2,273.3h0M97.5,270.5h0M104.8,268.7h0M100.1,271.5h0M101.9,265.8h0M99.0,267.4h0M101.0,265.5h0M108.6,263.9h0M104.2,259.4h0M106.1,262.2h0M108.9,257.8h0M107.9,262.6h0M113.1,258.5h0M108.5,260.9h0M106.2,260.6h0M103.9,259.8h0M99.3,260.2h0M107.9,262.1h0M106.0,263.8h0M106.5,265.4h0M109.7,265.4h0M108.3,261.3h0M107.8,264.8h0M105.0,264.8h0M109.8,264.2h0M111.0,262.0h0M107.7,267.2h0M109.3,268.2h0M106.8,265.7h0M105.9,265.8h0M108.8,264.6h0M106.8,263.7h0M104.4,262.6h0M105.3,265.6h0M103.5,266.2h0M111.6,260.6h0M106.0,264.5h0M106.5,262.0h0M102.5,266.7h0M102.8,264.5h0M104.6,262.5h0M99.4,268.9h0M102.8,264.7h0M101.0,261.1h0M106.7,256.8h0M101.4,262.9h0M99.1,263.2h0M108.8,259.6h0M105.0,259.0h0M108.2,259.3h0M102.3,263.6h0M97.4,265.7h0M98.2,268.1h0M98.8,268.6h0M96.7,265.2h0M98.7,264.6h0M101.0,262.4h0M102.3,262.8h0M99.5,260.9h0M101.6,257.3h0M98.4,259.7h0M105.1,257.3h0M101.7,261.8h0M104.3,263.5h0M102.3,263.0h0M103.3,261.6h0M108.3,258.3h0M106.9,258.4h0M103.2,258.8h0M99.8,256.4h0M106.1,254.3h0M106.0,259.8h0M107.0,259.1h0M99.5,256.7h0M103.2,257.3h0M107.2,258.7h0M106.1,260.0h0M110.0,259.9h0M109.9,261.0h0M110.8,258.0h0M110.7,259.6h0M112.0,257.7h0M110.1,258.3h0M109.7,260.0h0M114.7,260.9h0M116.2,259.8h0M115.1,260.7h0M113.3,259.6h0M108.6,262.4h0M108.9,259.5h0M107.1,260.7h0M108.7,258.8h0M110.9,257.6h0M112.7,259.3h0M109.8,256.6h0M111.9,259.9h0M113.7,257.5h0M113.5,254.6h0M109.5,258.7h0M107.1,258.2h0M106.0,258.0h0M104.5,256.5h0M106.1,258.6h0M110.3,258.6h0M107.5,259.6h0M111.9,257.2h0M111.7,257.7h0M109.6,257.7h0M111.9,259.6h0M112.1,256.3h0M108.5,259.4h0M106.7,256.7h0M107.9,255.7h0M111.1,255.4h0M116.8,253.4h0M119.1,252.5h0M110.3,253.0h0M119.3,250.4h0M120.7,251.3h0M117.2,253.2h0M117.6,250.6h0M122.4,246.2h0M117.9,250.6h0M119.0,249.8h0M117.8,250.3h0M113.4,251.8h0M116.7,249.9h0M121.7,247.2h0M125.0,241.6h0M127.4,241.3h0M128.3,241.0h0M125.7,240.9h0M126.6,238.5h0M126.4,236.3h0M121.9,240.8h0M121.4,240.1h0M122.9,240.3h0M120.7,237.9h0M125.5,234.7h0M126.3,232.9h0M123.8,235.3h0M118.6,233.8h0M125.4,230.6h0M127.8,229.5h0M129.2,230.2h0M128.3,227.4h0M125.0,228.3h0M121.4,232.6h0M119.5,235.0h0M124.1,234.4h0M121.8,236.7h0M125.9,233.8h0M126.3,235.0h0M119.3,238.0h0M121.2,238.9h0M122.3,239.0h0M125.4,237.3h0M122.3,237.1h0M125.4,237.8h0M122.6,236.6h0M125.7,232.5h0M125.0,232.8h0M123.3,236.3h0M126.7,238.5h0M128.8,235.6h0M124.9,234.5h0M126.5,240.3h0M123.1,241.3h0M122.9,239.9h0M118.9,240.9h0M119.1,240.2h0M119.6,244.5h0M119.9,244.2h0M119.8,243.5h0M125.3,245.6h0M126.8,241.3h0M126.6,244.4h0M130.2,243.1h0M118.8,249.6h0M121.7,250.9h0M121.6,250.0h0M119.7,256.2h0M125.8,252.8h0M115.3,256.0h0M117.3,254.1h0M117.4,256.4h0M112.8,259.0h0M108.2,264.6h0M105.6,265.4h0M105.2,263.7h0M101.4,263.9h0M95.5,269.7h0M93.9,269.2h0M97.5,268.9h0M94.9,267.8h0M99.9,266.6h0M98.0,268.2h0M101.9,269.7h0M96.4,270.8h0M95.2,267.0h0M93.1,266.2h0M94.9,271.2h0M92.2,273.0h0M92.8,269.9h0M93.1,266.5h0M89.7,268.1h0M95.5,265.6h0M99.1,265.2h0M99.8,265.8h0M99.4,262.4h0M105.0,260.2h0M104.5,260.0h0M106.0,261.6h0M106.8,257.8h0M107.3,258.5h0M101.0,259.8h0M102.5,259.1h0M96.9,259.6h0M108.2,258.3h0M104.7,260.8h0M101.4,262.9h0M100.7,263.7h0M100.7,264.0h0M98.9,265.1h0M107.5,261.2h0M104.2,263.7h0M104.5,259.7h0M101.7,259.7h0M106.6,259.7h0M105.4,262.2h0M106.4,260.0h0M104.2,259.6h0M100.1,264.9h0M102.8,262.0h0M104.1,265.6h0M99.0,267.6h0M97.8,270.0h0M98.7,268.9h0M103.9,271.2h0M102.3,270.6h0M102.2,269.6h0M101.8,271.1h0M97.0,274.5h0M96.4,277.6h0M97.0,275.8h0M99.6,275.8h0M98.0,276.4h0M99.4,272.5h0M101.3,268.5h0M100.4,272.6h0M97.4,277.9h0M98.2,274.5h0M97.3,275.3h0M100.6,277.7h0M97.1,275.3h0M95.5,275.1h0M97.6,275.8h0M99.6,277.2h0M102.6,274.3h0M100.1,274.1h0M102.3,273.9h0M100.9,275.2h0M97.4,275.6h0M97.0,275.5h0M99.4,273.2h0M102.5,274.7h0M108.9,275.7h0M106.9,276.0h0M103.4,280.1h0M105.5,277.6h0M106.6,274.7h0M106.8,273.8h0M108.3,272.3h0M107.1,272.7h0M107.0,271.7h0M112.0,267.8h0M110.5,268.0h0M109.9,270.3h0M110.7,270.9h0M110.1,274.2h0M111.6,271.7h0M119.2,267.8h0M114.8,267.2h0M120.0,267.3h0M120.2,269.3h0M114.8,269.4h0M111.5,270.0h0M106.0,270.9h0M110.0,272.3h0M112.9,268.4h0M108.1,271.7h0M108.6,270.8h0M107.4,272.1h0M98.4,273.4h0M102.1,272.4h0M102.3,270.5h0M96.9,274.8h0M96.3,274.8h0M98.7,272.5h0M98.3,273.6h0M98.2,271.3h0M96.5,271.6h0M98.9,268.7h0M104.7,263.6h0M93.9,267.5h0M95.9,268.4h0M92.9,267.0h0M97.7,266.4h0M95.8,264.5h0M97.2,264.8h0M92.1,263.8h0M89.9,266.9h0M94.8,267.0h0M95.7,264.1h0M91.8,262.7h0M93.2,265.3h0M95.3,266.4h0M94.9,263.6h0M98.0,264.5h0M96.0,268.8h0M99.7,268.7h0M98.8,265.3h0M96.3,263.4h0M95.1,263.4h0M95.3,266.4h0M97.0,266.8h0M98.8,264.9h0M98.2,265.8h0M94.3,268.5h0M99.4,264.8h0M94.8,264.5h0M92.0,267.8h0M89.1,268.4h0M94.7,270.4h0M95.1,270.8h0M91.4,269.4h0M98.2,269.4h0M96.8,267.7h0M92.5,270.2h0M96.2,267.5h0M98.9,265.5h0M94.9,266.7h0M92.5,272.8h0M93.5,271.9h0M96.8,271.9h0M95.9,269.6h0M100.3,269.5h0M95.8,269.3h0M92.1,271.8h0M95.5,269.5h0M101.6,268.6h0M99.2,271.2h0M98.9,270.8h0M100.8,270.5h0M101.3,272.3h0M99.6,272.8h0M95.5,272.2h0M93.6,276.6h0M92.7,275.8h0M89.8,275.4h0M89.6,278.5h0M90.1,275.0h0M85.5,275.9h0M87.0,273.6h0M88.1,275.3h0M89.0,272.7h0M94.1,267.1h0M91.6,268.8h0M95.2,267.0h0M100.0,266.5h0M98.3,267.2h0M95.3,266.9h0M95.6,267.8h0M95.7,264.0h0M91.3,263.9h0M85.7,269.1h0M94.7,264.2h0M96.5,260.7h0M93.9,261.5h0M94.5,261.4h0M93.1,262.3h0M90.6,265.5h0M91.7,269.0h0M92.9,265.0h0M89.4,264.9h0M93.2,260.1h0M91.5,261.8h0M88.8,262.8h0M88.3,265.1h0M91.6,260.3h0M91.8,259.9h0M88.1,262.8h0M88.1,262.8h0M90.8,264.2h0M89.0,263.6h0M91.8,261.8h0M91.7,263.3h0M89.8,266.2h0M91.3,265.8h0M93.3,265.0h0M89.3,266.3h0M95.9,266.5h0M98.5,265.8h0M97.2,265.9h0M97.0,264.9h0M98.1,262.5h0M94.5,262.2h0M97.0,261.8h0M93.9,262.3h0M94.2,262.0h0M87.2,264.3h0M91.0,261.9h0M91.9,264.2h0M94.2,265.5h0M97.5,259.7h0M98.0,262.6h0M97.2,261.0h0M88.1,262.4h0M88.5,263.7h0M88.9,264.8h0M92.1,268.2h0M86.5,267.0h0M92.1,263.3h0M94.4,266.3h0M88.3,268.9h0M84.1,270.5h0M92.6,271.0h0M88.2,272.9h0M96.9,268.6h0M96.3,266.5h0M87.7,271.7h0M94.4,264.8h0M93.1,265.3h0M94.2,268.1h0M93.8,267.9h0M94.4,271.1h0M94.1,268.2h0M94.7,271.0h0M95.8,270.8h0M104.6,268.6h0M105.7,265.6h0M103.3,265.6h0M104.0,263.7h0M100.4,268.7h0M102.2,268.7h0M100.7,265.3h0M98.2,268.0h0M100.3,267.2h0M104.2,268.2h0M104.4,270.6h0M102.8,273.7h0M104.8,273.5h0M103.3,273.7h0M97.0,276.2h0M103.9,273.9h0M105.4,276.8h0M101.8,274.9h0M101.9,275.0h0M104.3,276.6h0M106.0,276.8h0M104.7,279.4h0M100.4,274.5h0M103.1,276.4h0M99.3,280.1h0M107.5,278.4h0M108.0,280.5h0M107.9,280.3h0M106.5,279.6h0M111.0,272.9h0M104.4,277.9h0M105.1,276.2h0M109.4,277.2h0M107.0,277.7h0M107.3,277.0h0M106.5,278.4h0M106.7,279.2h0M109.3,276.4h0M107.6,273.5h0M107.3,275.2h0M104.5,279.7h0M110.4,276.8h0" fill="none" stroke="#0f7bc6" stroke-width="1.3" stroke-linecap="round"/>
<path d="M289.9,277.1L289.8,276.0L289.7,274.6L289.7,272.8L289.7,270.7L289.7,268.2L289.9,265.3L290.2,262.1L290.6,258.5L291.2,254.7L292.1,250.8L293.1,246.9L294.4,243.3L295.9,240.1L297.5,237.6L299.1,235.9L300.7,235.1L302.0,235.3L303.1,236.3L303.9,238.1L304.2,240.5L304.2,243.3L303.8,246.2L303.2,249.3L302.4,252.4L301.4,255.3L300.3,258.1L299.2,260.7L298.2,263.1L297.2,265.4L296.2,267.5L295.4,269.5L294.6,271.3L293.9,273.0L293.3,274.6L292.8,276.0L292.3,277.4L291.9,278.7L291.6,279.9L291.3,281.0L291.1,282.0L290.8,282.9L290.6,283.7L290.5,284.4L290.3,285.0L290.1,285.5L290.0,285.8L289.8,286.0L289.7,286.0L289.5,285.8L289.4,285.5L289.2,284.8L289.0,283.9L288.9,282.7L288.7,281.1L288.6,279.1L288.5,276.6L288.4,273.7L288.4,270.2L288.6,266.1L289.0,261.6L289.6,256.6L290.5,251.3L291.7,245.9L293.3,240.8L295.3,236.2L297.5,232.5L299.8,230.0L302.1,229.0L304.1,229.3L305.7,231.0L306.7,233.7L307.1,237.2L307.0,241.1L306.4,245.1L305.4,249.1L304.1,253.0L302.7,256.6L301.2,259.9L299.8,262.9L298.4,265.7L297.2,268.2L296.0,270.5L295.0,272.7L294.2,274.7L293.4,276.6L292.8,278.4L292.3,280.1L291.8,281.7L291.5,283.3L291.2,284.7L291.0,286.2L290.8,287.6L290.6,289.0L290.5,290.3L290.5,291.6L290.4,292.9L290.4,294.1L290.4,295.4L290.5,296.6L290.5,297.8L290.6,299.0L290.6,300.2L290.7,301.4L290.8,302.5L291.0,303.7L291.1,304.8L291.3,306.0L291.5,307.0L291.7,308.0L291.9,308.9L292.1,309.6L292.3,310.1L292.5,310.3L292.6,310.1L292.6,309.4L292.4,308.0L292.0,305.7L291.2,302.5L290.0,298.4L288.4,293.2L286.2,287.3L283.6,281.0L280.7,274.6L277.8,268.6L275.1,263.5L272.9,259.6L271.4,256.9L270.7,255.5L270.8,255.1L271.5,255.5L272.7,256.5L274.2,257.9L276.0,259.5L277.7,261.1L279.5,262.8L281.1,264.5L282.6,266.1L283.9,267.7L285.0,269.3L286.0,270.7L286.9,272.1L287.5,273.4L288.1,274.6L288.6,275.7L288.9,276.8L289.2,277.7L289.4,278.5L289.5,279.2L289.6,279.8L289.7,280.2L289.7,280.5L289.7,280.6L289.7,280.5L289.6,280.2L289.5,279.7L289.4,278.9L289.4,277.9L289.3,276.5L289.2,274.7L289.2,272.5L289.3,270.0L289.4,267.0L289.7,263.6L290.1,259.8L290.7,255.7L291.5,251.5L292.6,247.2L293.9,243.1L295.5,239.5L297.2,236.6L299.0,234.6L300.8,233.6L302.3,233.6L303.6,234.7L304.5,236.6L304.9,239.1L304.9,242.1L304.6,245.4L303.9,248.7L303.0,252.0L301.9,255.1L300.8,258.1L299.6,260.9L298.4,263.4L297.3,265.8L296.3,268.0L295.4,270.1L294.6,272.0L293.9,273.8L293.3,275.4L292.7,277.0L292.3,278.5L291.9,279.8L291.5,281.1L291.2,282.4L291.0,283.5L290.8,284.6L290.6,285.6L290.5,286.5L290.3,287.3L290.2,288.1L290.1,288.7L289.9,289.3L289.8,289.7L289.7,290.1L289.6,290.3L289.4,290.3L289.3,290.2L289.1,289.9L289.0,289.3L288.8,288.5L288.6,287.4L288.4,285.9L288.2,284.0L288.0,281.7L287.8,278.8L287.7,275.3L287.7,271.1L287.9,266.4L288.3,261.0L289.0,255.0L290.1,248.8L291.7,242.6L293.7,236.7L296.1,231.7L298.8,228.0L301.6,225.8L304.2,225.5L306.4,226.8L307.9,229.6L308.7,233.4L308.8,237.8L308.3,242.4L307.2,247.1L305.8,251.5L304.2,255.6L302.5,259.3L300.9,262.7L299.3,265.7L297.8,268.4L296.5,270.9L295.3,273.2L294.3,275.3L293.5,277.3L292.8,279.2L292.2,280.9L291.7,282.6L291.3,284.2L291.1,285.8L290.8,287.3L290.7,288.8L290.6,290.2L290.5,291.6L290.5,293.0L290.5,294.3L290.5,295.6L290.5,296.9L290.6,298.1L290.7,299.2L290.8,300.2L290.9,301.2L291.0,302.0L291.1,302.7L291.2,303.1L291.2,303.2L291.2,303.0L291.0,302.4L290.7,301.2L290.2,299.4L289.5,297.1L288.5,294.0L287.3,290.4L285.7,286.2L283.9,281.8L281.9,277.3L279.9,273.0L278.0,269.1L276.4,265.9L275.2,263.5L274.5,261.9L274.3,261.1L274.5,261.0L275.1,261.4L276.0,262.2L277.1,263.3L278.4,264.6L279.7,266.1L280.9,267.6L282.2,269.2L283.3,270.8L284.3,272.4L285.2,274.0L286.0,275.6L286.7,277.1L287.3,278.6L287.8,280.1L288.2,281.5L288.5,283.0L288.8,284.3L289.1,285.7L289.3,286.9L289.4,288.2L289.6,289.4L289.7,290.6L289.8,291.8L289.9,292.9L289.9,294.0L290.0,295.1L290.1,296.2L290.1,297.2L290.2,298.2L290.2,299.3L290.3,300.3L290.3,301.3L290.4,302.2L290.5,303.2L290.6,304.2L290.7,305.2L290.8,306.3L290.9,307.3L291.1,308.3L291.3,309.4L291.5,310.4L291.7,311.4L292.0,312.4L292.2,313.4L292.5,314.3L292.8,315.0L293.2,315.4L293.4,315.5L293.6,315.1L293.7,314.1L293.5,312.2L293.1,309.2L292.1,305.0L290.6,299.5L288.4,292.8L285.5,285.2L282.1,277.2L278.4,269.5L274.8,262.7L271.7,257.3L269.4,253.6L268.2,251.6L268.0,251.0L268.7,251.4L270.1,252.5L272.0,254.0L274.0,255.7L276.2,257.5L278.3,259.3L280.2,260.9L282.0,262.5L283.6,264.0L284.9,265.4L286.1,266.6L287.0,267.8L287.8,268.8L288.5,269.7L289.0,270.5L289.4,271.2L289.7,271.7L289.9,272.0L290.1,272.3L290.2,272.3L290.3,272.1L290.4,271.8L290.4,271.2L290.5,270.4L290.5,269.3L290.6,268.0L290.7,266.4L290.9,264.5L291.1,262.4L291.4,260.1L291.8,257.6L292.4,254.9L293.0,252.2L293.8,249.6L294.7,247.1L295.7,244.9L296.8,243.0L297.8,241.7L298.9,240.9L299.8,240.7L300.6,241.1L301.2,242.0L301.6,243.4L301.7,245.1L301.6,247.1L301.3,249.2L300.9,251.4L300.3,253.7L299.6,255.9L298.8,258.0L298.1,260.0L297.3,261.9L296.6,263.7L295.9,265.4L295.2,266.9L294.6,268.4L294.1,269.7L293.6,270.9L293.1,272.0L292.7,272.9L292.3,273.7L292.0,274.4L291.7,275.0L291.5,275.4L291.3,275.7L291.1,275.7L290.9,275.6L290.7,275.3L290.6,274.8L290.4,274.0L290.3,272.9L290.3,271.6L290.3,270.0L290.3,268.0L290.4,265.7L290.6,263.1L291.0,260.3L291.4,257.2L292.0,253.9L292.8,250.6L293.8,247.4L294.9,244.4L296.2,241.8L297.5,239.8L298.8,238.5L300.1,237.9L301.2,238.1L302.0,238.9L302.6,240.4L302.9,242.4L302.9,244.7L302.7,247.2L302.1,249.8L301.5,252.5L300.6,255.1L299.8,257.6L298.8,259.9L297.9,262.1L297.0,264.2L296.2,266.2L295.4,268.0L294.7,269.6L294.1,271.2L293.5,272.6L293.0,273.9L292.6,275.1L292.2,276.2L291.8,277.2L291.5,278.0L291.3,278.8L291.0,279.4L290.8,279.9L290.6,280.2L290.4,280.4L290.2,280.4L290.1,280.1L289.9,279.7L289.8,279.0L289.6,278.0L289.5,276.8L289.4,275.1L289.4,273.1L289.4,270.7L289.5,267.9L289.7,264.7L290.0,261.1L290.5,257.2L291.3,253.0L292.2,248.8L293.5,244.7L294.9,241.0L296.6,237.8L298.3,235.5L300.1,234.1L301.7,233.8L303.1,234.4L304.1,236.0L304.7,238.3L304.9,241.1L304.6,244.2L304.1,247.5L303.3,250.7L302.3,253.9L301.1,256.9L300.0,259.7L298.8,262.4L297.7,264.8L296.7,267.1L295.8,269.2L294.9,271.1L294.2,272.9L293.5,274.6L292.9,276.2L292.4,277.7L292.0,279.1L291.7,280.4L291.4,281.6L291.1,282.8L290.9,283.9L290.7,284.9L290.5,285.8L290.4,286.6L290.2,287.4L290.1,288.0L290.0,288.5L289.8,289.0L289.7,289.3L289.6,289.4L289.4,289.4L289.3,289.2L289.1,288.9L288.9,288.2L288.8,287.3L288.6,286.1L288.4,284.5L288.2,282.4L288.0,279.9L287.9,276.8L287.8,273.2L287.9,268.9L288.2,264.0L288.7,258.5L289.6,252.6L290.8,246.5L292.5,240.5L294.6,235.1L297.1,230.7L299.8,227.6L302.4,226.2L304.8,226.5L306.7,228.3L308.0,231.3L308.5,235.3L308.4,239.7L307.7,244.2L306.5,248.7L305.1,252.9L303.5,256.8L301.8,260.3L300.2,263.5L298.7,266.4L297.3,269.1L296.1,271.5L295.0,273.7L294.1,275.8L293.3,277.7L292.6,279.5L292.1,281.3L291.6,282.9L291.3,284.5L291.0,286.1L290.8,287.6L290.7,289.0L290.6,290.5L290.5,291.8L290.5,293.2L290.5,294.5L290.5,295.8L290.6,297.1L290.6,298.3L290.7,299.5L290.8,300.6L291.0,301.7L291.1,302.6L291.2,303.4L291.3,304.0L291.4,304.3L291.4,304.4L291.4,304.0L291.2,303.2L290.9,301.8L290.3,299.7L289.5,297.0L288.4,293.6L286.9,289.5L285.2,285.0L283.2,280.2L281.0,275.4L278.9,270.9L277.0,267.1L275.4,264.0L274.3,261.8L273.8,260.5L273.7,260.0L274.2,260.1L275.0,260.8L276.1,261.8L277.3,263.1L278.7,264.5L280.0,266.0L281.3,267.6L282.6,269.2L283.7,270.9L284.7,272.5L285.6,274.0L286.4,275.6L287.0,277.1L287.6,278.6L288.0,280.0L288.4,281.4L288.7,282.7L289.0,284.0L289.2,285.3L289.4,286.5L289.5,287.6L289.6,288.8L289.7,289.8L289.8,290.8L289.8,291.8L289.8,292.7L289.8,293.6L289.8,294.4L289.8,295.2L289.8,295.9L289.8,296.6L289.8,297.2L289.7,297.7L289.7,298.2L289.6,298.6L289.5,298.9L289.4,299.1L289.3,299.2L289.2,299.2L289.1,299.1L288.9,298.8L288.7,298.3L288.5,297.6L288.3,296.6L288.0,295.3L287.7,293.5L287.4,291.4L287.0,288.7L286.7,285.3L286.5,281.2L286.3,276.3L286.3,270.5L286.6,263.8L287.2,256.3L288.4,248.2L290.3,240.0L292.8,232.2L296.0,225.7L299.7,220.9L303.5,218.6L307.0,218.8L309.8,221.3L311.7,225.6L312.4,231.1L312.2,237.1L311.1,243.1L309.4,248.8L307.4,253.9L305.2,258.4L303.0,262.3L300.9,265.8L299.0,268.8L297.3,271.5L295.9,273.9L294.6,276.0L293.5,277.9L292.6,279.7L291.9,281.4L291.3,283.0L290.9,284.4L290.5,285.8L290.2,287.1L290.0,288.3L289.8,289.4L289.7,290.5L289.6,291.4L289.6,292.3L289.5,292.9L289.4,293.5L289.4,293.8L289.2,294.0L289.1,293.9L288.9,293.6" fill="none" stroke="#1580cc" stroke-width="0.5"/>
<path d="M37.0,437.0L37.7,441.5L38.4,446.9L39.0,453.5L39.7,461.6L40.4,471.4L41.0,483.2L41.7,497.1L42.4,513.3L42.7,498.7L43.0,484.1L43.2,469.5L43.5,454.8L43.8,440.2L44.0,425.6L44.3,411.0L44.6,396.4L45.3,404.2L46.1,412.3L46.8,420.7L47.5,429.8L48.3,439.7L49.0,450.6L49.8,462.8L50.5,476.4L50.8,469.3L51.1,462.2L51.4,455.1L51.8,447.9L52.1,440.8L52.4,433.7L52.7,426.6L53.0,419.5L53.8,426.7L54.7,434.1L55.5,441.9L56.4,450.3L57.2,459.4L58.0,469.5L58.9,480.7L59.7,493.2L60.0,482.6L60.2,472.0L60.5,461.4L60.8,450.9L61.1,440.3L61.4,429.7L61.6,419.1L61.9,408.5L62.9,418.6L63.9,428.9L64.9,439.7L65.8,451.4L66.8,464.1L67.8,478.1L68.8,493.7L69.8,511.2L70.0,497.0L70.3,482.8L70.5,468.6L70.8,454.4L71.0,440.2L71.3,426.0L71.5,411.8L71.8,397.6L72.5,405.5L73.3,413.6L74.0,422.2L74.8,431.3L75.5,441.3L76.2,452.4L77.0,464.7L77.7,478.4L78.0,470.8L78.4,463.2L78.7,455.7L79.1,448.1L79.4,440.5L79.7,432.9L80.1,425.4L80.4,417.8L81.3,425.7L82.2,433.9L83.0,442.5L83.9,451.7L84.8,461.7L85.7,472.8L86.5,485.1L87.4,498.9L87.7,487.2L87.9,475.4L88.2,463.7L88.5,451.9L88.7,440.2L89.0,428.5L89.2,416.7L89.5,405.0L90.4,414.0L91.2,423.2L92.1,432.8L93.0,443.2L93.8,454.5L94.7,467.0L95.5,480.9L96.4,496.5L96.7,485.2L97.0,474.0L97.2,462.8L97.5,451.5L97.8,440.2L98.0,429.0L98.3,417.8L98.6,406.5L99.5,415.8L100.5,425.4L101.5,435.4L102.4,446.2L103.3,458.0L104.3,471.0L105.2,485.4L106.2,501.6L106.4,489.3L106.6,477.0L106.8,464.7L107.0,452.4L107.2,440.1L107.4,427.8L107.6,415.5L107.8,403.2L108.7,411.8L109.6,420.7L110.5,430.1L111.3,440.1L112.2,451.0L113.1,463.1L114.0,476.5L114.9,491.5L115.1,481.3L115.4,471.1L115.6,460.9L115.8,450.7L116.1,440.5L116.3,430.3L116.6,420.1L116.8,409.9L117.9,420.4L119.0,431.2L120.1,442.5L121.2,454.6L122.2,467.9L123.3,482.5L124.4,498.8L125.5,517.0L125.8,501.6L126.0,486.2L126.2,470.8L126.5,455.4L126.8,439.9L127.0,424.5L127.2,409.1L127.5,393.7L128.2,401.3L129.0,409.1L129.7,417.4L130.4,426.2L131.2,435.8L131.9,446.4L132.7,458.3L133.4,471.5L133.7,465.4L134.0,459.3L134.3,453.2L134.6,447.1L134.8,441.1L135.1,435.0L135.4,428.9L135.7,422.8L136.5,428.8L137.3,434.9L138.1,441.4L138.8,448.3L139.6,455.8L140.4,464.1L141.2,473.4L142.0,483.8L142.2,475.9L142.4,468.1L142.6,460.2L142.8,452.4L143.1,444.6L143.3,436.7L143.5,428.9L143.7,421.0L143.8,420.1L143.9,419.2L144.0,418.3L144.1,417.4L144.2,416.6L144.3,415.7L144.4,414.8L144.5,413.9" fill="none" stroke="#4db4e6" stroke-width="0.85" stroke-linejoin="round"/>
<defs><linearGradient id="r0" gradientUnits="userSpaceOnUse" x1="224" y1="0" x2="356" y2="0"><stop offset="0.0000" stop-color="rgb(255,255,255)"/><stop offset="0.0431" stop-color="rgb(254,254,254)"/><stop offset="0.9569" stop-color="rgb(0,0,0)"/><stop offset="1.0000" stop-color="rgb(0,0,0)"/></linearGradient><linearGradient id="r1" gradientUnits="userSpaceOnUse" x1="224" y1="0" x2="356" y2="0"><stop offset="0.0000" stop-color="rgb(255,255,255)"/><stop offset="0.0286" stop-color="rgb(254,254,254)"/><stop offset="0.9714" stop-color="rgb(0,0,0)"/><stop offset="1.0000" stop-color="rgb(0,0,0)"/></linearGradient><linearGradient id="r2" gradientUnits="userSpaceOnUse" x1="224" y1="0" x2="356" y2="0"><stop offset="0.0000" stop-color="rgb(255,255,255)"/><stop offset="0.0131" stop-color="rgb(254,254,254)"/><stop offset="0.9869" stop-color="rgb(0,0,0)"/><stop offset="1.0000" stop-color="rgb(0,0,0)"/></linearGradient><linearGradient id="r3" gradientUnits="userSpaceOnUse" x1="224" y1="0" x2="356" y2="0"><stop offset="0.0000" stop-color="rgb(253,253,253)"/><stop offset="1.0000" stop-color="rgb(1,1,1)"/></linearGradient><linearGradient id="r4" gradientUnits="userSpaceOnUse" x1="224" y1="0" x2="356" y2="0"><stop offset="0.0000" stop-color="rgb(249,249,249)"/><stop offset="1.0000" stop-color="rgb(5,5,5)"/></linearGradient><linearGradient id="r5" gradientUnits="userSpaceOnUse" x1="224" y1="0" x2="356" y2="0"><stop offset="0.0000" stop-color="rgb(244,244,244)"/><stop offset="1.0000" stop-color="rgb(10,10,10)"/></linearGradient><linearGradient id="r6" gradientUnits="userSpaceOnUse" x1="224" y1="0" x2="356" y2="0"><stop offset="0.0000" stop-color="rgb(240,240,240)"/><stop offset="1.0000" stop-color="rgb(14,14,14)"/></linearGradient><linearGradient id="r7" gradientUnits="userSpaceOnUse" x1="224" y1="0" x2="356" y2="0"><stop offset="0.0000" stop-color="rgb(236,236,236)"/><stop offset="1.0000" stop-color="rgb(18,18,18)"/></linearGradient><linearGradient id="r8" gradientUnits="userSpaceOnUse" x1="224" y1="0" x2="356" y2="0"><stop offset="0.0000" stop-color="rgb(232,232,232)"/><stop offset="1.0000" stop-color="rgb(22,22,22)"/></linearGradient><linearGradient id="r9" gradientUnits="userSpaceOnUse" x1="224" y1="0" x2="356" y2="0"><stop offset="0.0000" stop-color="rgb(227,227,227)"/><stop offset="1.0000" stop-color="rgb(27,27,27)"/></linearGradient><linearGradient id="r10" gradientUnits="userSpaceOnUse" x1="224" y1="0" x2="356" y2="0"><stop offset="0.0000" stop-color="rgb(223,223,223)"/><stop offset="1.0000" stop-color="rgb(31,31,31)"/></linearGradient><linearGradient id="r11" gradientUnits="userSpaceOnUse" x1="224" y1="0" x2="356" y2="0"><stop offset="0.0000" stop-color="rgb(219,219,219)"/><stop offset="1.0000" stop-color="rgb(35,35,35)"/></linearGradient><linearGradient id="r12" gradientUnits="userSpaceOnUse" x1="224" y1="0" x2="356" y2="0"><stop offset="0.0000" stop-color="rgb(215,215,215)"/><stop offset="1.0000" stop-color="rgb(39,39,39)"/></linearGradient><linearGradient id="r13" gradientUnits="userSpaceOnUse" x1="224" y1="0" x2="356" y2="0"><stop offset="0.0000" stop-color="rgb(210,210,210)"/><stop offset="1.0000" stop-color="rgb(44,44,44)"/></linearGradient><linearGradient id="r14" gradientUnits="userSpaceOnUse" x1="224" y1="0" x2="356" y2="0"><stop offset="0.0000" stop-color="rgb(206,206,206)"/><stop offset="1.0000" stop-color="rgb(48,48,48)"/></linearGradient><linearGradient id="r15" gradientUnits="userSpaceOnUse" x1="224" y1="0" x2="356" y2="0"><stop offset="0.0000" stop-color="rgb(202,202,202)"/><stop offset="1.0000" stop-color="rgb(52,52,52)"/></linearGradient><linearGradient id="r16" gradientUnits="userSpaceOnUse" x1="224" y1="0" x2="356" y2="0"><stop offset="0.0000" stop-color="rgb(198,198,198)"/><stop offset="1.0000" stop-color="rgb(56,56,56)"/></linearGradient><linearGradient id="r17" gradientUnits="userSpaceOnUse" x1="224" y1="0" x2="356" y2="0"><stop offset="0.0000" stop-color="rgb(193,193,193)"/><stop offset="1.0000" stop-color="rgb(61,61,61)"/></linearGradient><linearGradient id="r18" gradientUnits="userSpaceOnUse" x1="224" y1="0" x2="356" y2="0"><stop offset="0.0000" stop-color="rgb(189,189,189)"/><stop offset="1.0000" stop-color="rgb(65,65,65)"/></linearGradient><linearGradient id="r19" gradientUnits="userSpaceOnUse" x1="224" y1="0" x2="356" y2="0"><stop offset="0.0000" stop-color="rgb(185,185,185)"/><stop offset="1.0000" stop-color="rgb(69,69,69)"/></linearGradient><linearGradient id="r20" gradientUnits="userSpaceOnUse" x1="224" y1="0" x2="356" y2="0"><stop offset="0.0000" stop-color="rgb(180,180,180)"/><stop offset="1.0000" stop-color="rgb(74,74,74)"/></linearGradient><linearGradient id="r21" gradientUnits="userSpaceOnUse" x1="224" y1="0" x2="356" y2="0"><stop offset="0.0000" stop-color="rgb(176,176,176)"/><stop offset="1.0000" stop-color="rgb(78,78,78)"/></linearGradient><linearGradient id="r22" gradientUnits="userSpaceOnUse" x1="224" y1="0" x2="356" y2="0"><stop offset="0.0000" stop-color="rgb(172,172,172)"/><stop offset="1.0000" stop-color="rgb(82,82,82)"/></linearGradient><linearGradient id="r23" gradientUnits="userSpaceOnUse" x1="224" y1="0" x2="356" y2="0"><stop offset="0.0000" stop-color="rgb(168,168,168)"/><stop offset="1.0000" stop-color="rgb(86,86,86)"/></linearGradient><linearGradient id="r24" gradientUnits="userSpaceOnUse" x1="224" y1="0" x2="356" y2="0"><stop offset="0.0000" stop-color="rgb(163,163,163)"/><stop offset="1.0000" stop-color="rgb(91,91,91)"/></linearGradient><linearGradient id="r25" gradientUnits="userSpaceOnUse" x1="224" y1="0" x2="356" y2="0"><stop offset="0.0000" stop-color="rgb(159,159,159)"/><stop offset="1.0000" stop-color="rgb(95,95,95)"/></linearGradient><linearGradient id="r26" gradientUnits="userSpaceOnUse" x1="224" y1="0" x2="356" y2="0"><stop offset="0.0000" stop-color="rgb(155,155,155)"/><stop offset="1.0000" stop-color="rgb(99,99,99)"/></linearGradient><linearGradient id="r27" gradientUnits="userSpaceOnUse" x1="224" y1="0" x2="356" y2="0"><stop offset="0.0000" stop-color="rgb(150,150,150)"/><stop offset="1.0000" stop-color="rgb(104,104,104)"/></linearGradient><linearGradient id="r28" gradientUnits="userSpaceOnUse" x1="224" y1="0" x2="356" y2="0"><stop offset="0.0000" stop-color="rgb(146,146,146)"/><stop offset="1.0000" stop-color="rgb(108,108,108)"/></linearGradient><linearGradient id="r29" gradientUnits="userSpaceOnUse" x1="224" y1="0" x2="356" y2="0"><stop offset="0.0000" stop-color="rgb(142,142,142)"/><stop offset="1.0000" stop-color="rgb(112,112,112)"/></linearGradient><linearGradient id="r30" gradientUnits="userSpaceOnUse" x1="224" y1="0" x2="356" y2="0"><stop offset="0.0000" stop-color="rgb(138,138,138)"/><stop offset="1.0000" stop-color="rgb(116,116,116)"/></linearGradient><linearGradient id="r31" gradientUnits="userSpaceOnUse" x1="224" y1="0" x2="356" y2="0"><stop offset="0.0000" stop-color="rgb(133,133,133)"/><stop offset="1.0000" stop-color="rgb(121,121,121)"/></linearGradient><linearGradient id="r32" gradientUnits="userSpaceOnUse" x1="224" y1="0" x2="356" y2="0"><stop offset="0.0000" stop-color="rgb(129,129,129)"/><stop offset="1.0000" stop-color="rgb(125,125,125)"/></linearGradient><linearGradient id="r33" gradientUnits="userSpaceOnUse" x1="224" y1="0" x2="356" y2="0"><stop offset="0.0000" stop-color="rgb(125,125,125)"/><stop offset="1.0000" stop-color="rgb(129,129,129)"/></linearGradient><linearGradient id="r34" gradientUnits="userSpaceOnUse" x1="224" y1="0" x2="356" y2="0"><stop offset="0.0000" stop-color="rgb(121,121,121)"/><stop offset="1.0000" stop-color="rgb(133,133,133)"/></linearGradient><linearGradient id="r35" gradientUnits="userSpaceOnUse" x1="224" y1="0" x2="356" y2="0"><stop offset="0.0000" stop-color="rgb(116,116,116)"/><stop offset="1.0000" stop-color="rgb(138,138,138)"/></linearGradient><linearGradient id="r36" gradientUnits="userSpaceOnUse" x1="224" y1="0" x2="356" y2="0"><stop offset="0.0000" stop-color="rgb(112,112,112)"/><stop offset="1.0000" stop-color="rgb(142,142,142)"/></linearGradient><linearGradient id="r37" gradientUnits="userSpaceOnUse" x1="224" y1="0" x2="356" y2="0"><stop offset="0.0000" stop-color="rgb(108,108,108)"/><stop offset="1.0000" stop-color="rgb(146,146,146)"/></linearGradient><linearGradient id="r38" gradientUnits="userSpaceOnUse" x1="224" y1="0" x2="356" y2="0"><stop offset="0.0000" stop-color="rgb(103,103,103)"/><stop offset="1.0000" stop-color="rgb(150,150,150)"/></linearGradient><linearGradient id="r39" gradientUnits="userSpaceOnUse" x1="224" y1="0" x2="356" y2="0"><stop offset="0.0000" stop-color="rgb(99,99,99)"/><stop offset="1.0000" stop-color="rgb(155,155,155)"/></linearGradient><linearGradient id="r40" gradientUnits="userSpaceOnUse" x1="224" y1="0" x2="356" y2="0"><stop offset="0.0000" stop-color="rgb(95,95,95)"/><stop offset="1.0000" stop-color="rgb(159,159,159)"/></linearGradient><linearGradient id="r41" gradientUnits="userSpaceOnUse" x1="224" y1="0" x2="356" y2="0"><stop offset="0.0000" stop-color="rgb(91,91,91)"/><stop offset="1.0000" stop-color="rgb(163,163,163)"/></linearGradient><linearGradient id="r42" gradientUnits="userSpaceOnUse" x1="224" y1="0" x2="356" y2="0"><stop offset="0.0000" stop-color="rgb(86,86,86)"/><stop offset="1.0000" stop-color="rgb(168,168,168)"/></linearGradient><linearGradient id="r43" gradientUnits="userSpaceOnUse" x1="224" y1="0" x2="356" y2="0"><stop offset="0.0000" stop-color="rgb(82,82,82)"/><stop offset="1.0000" stop-color="rgb(172,172,172)"/></linearGradient><linearGradient id="r44" gradientUnits="userSpaceOnUse" x1="224" y1="0" x2="356" y2="0"><stop offset="0.0000" stop-color="rgb(78,78,78)"/><stop offset="1.0000" stop-color="rgb(176,176,176)"/></linearGradient><linearGradient id="r45" gradientUnits="userSpaceOnUse" x1="224" y1="0" x2="356" y2="0"><stop offset="0.0000" stop-color="rgb(74,74,74)"/><stop offset="1.0000" stop-color="rgb(180,180,180)"/></linearGradient><linearGradient id="r46" gradientUnits="userSpaceOnUse" x1="224" y1="0" x2="356" y2="0"><stop offset="0.0000" stop-color="rgb(69,69,69)"/><stop offset="1.0000" stop-color="rgb(185,185,185)"/></linearGradient><linearGradient id="r47" gradientUnits="userSpaceOnUse" x1="224" y1="0" x2="356" y2="0"><stop offset="0.0000" stop-color="rgb(65,65,65)"/><stop offset="1.0000" stop-color="rgb(189,189,189)"/></linearGradient><linearGradient id="r48" gradientUnits="userSpaceOnUse" x1="224" y1="0" x2="356" y2="0"><stop offset="0.0000" stop-color="rgb(61,61,61)"/><stop offset="1.0000" stop-color="rgb(193,193,193)"/></linearGradient><linearGradient id="r49" gradientUnits="userSpaceOnUse" x1="224" y1="0" x2="356" y2="0"><stop offset="0.0000" stop-color="rgb(56,56,56)"/><stop offset="1.0000" stop-color="rgb(198,198,198)"/></linearGradient><linearGradient id="r50" gradientUnits="userSpaceOnUse" x1="224" y1="0" x2="356" y2="0"><stop offset="0.0000" stop-color="rgb(52,52,52)"/><stop offset="1.0000" stop-color="rgb(202,202,202)"/></linearGradient><linearGradient id="r51" gradientUnits="userSpaceOnUse" x1="224" y1="0" x2="356" y2="0"><stop offset="0.0000" stop-color="rgb(48,48,48)"/><stop offset="1.0000" stop-color="rgb(206,206,206)"/></linearGradient><linearGradient id="r52" gradientUnits="userSpaceOnUse" x1="224" y1="0" x2="356" y2="0"><stop offset="0.0000" stop-color="rgb(44,44,44)"/><stop offset="1.0000" stop-color="rgb(210,210,210)"/></linearGradient><linearGradient id="r53" gradientUnits="userSpaceOnUse" x1="224" y1="0" x2="356" y2="0"><stop offset="0.0000" stop-color="rgb(39,39,39)"/><stop offset="1.0000" stop-color="rgb(215,215,215)"/></linearGradient><linearGradient id="r54" gradientUnits="userSpaceOnUse" x1="224" y1="0" x2="356" y2="0"><stop offset="0.0000" stop-color="rgb(35,35,35)"/><stop offset="1.0000" stop-color="rgb(219,219,219)"/></linearGradient><linearGradient id="r55" gradientUnits="userSpaceOnUse" x1="224" y1="0" x2="356" y2="0"><stop offset="0.0000" stop-color="rgb(31,31,31)"/><stop offset="1.0000" stop-color="rgb(223,223,223)"/></linearGradient><linearGradient id="r56" gradientUnits="userSpaceOnUse" x1="224" y1="0" x2="356" y2="0"><stop offset="0.0000" stop-color="rgb(27,27,27)"/><stop offset="1.0000" stop-color="rgb(227,227,227)"/></linearGradient><linearGradient id="r57" gradientUnits="userSpaceOnUse" x1="224" y1="0" x2="356" y2="0"><stop offset="0.0000" stop-color="rgb(22,22,22)"/><stop offset="1.0000" stop-color="rgb(232,232,232)"/></linearGradient><linearGradient id="r58" gradientUnits="userSpaceOnUse" x1="224" y1="0" x2="356" y2="0"><stop offset="0.0000" stop-color="rgb(18,18,18)"/><stop offset="1.0000" stop-color="rgb(236,236,236)"/></linearGradient><linearGradient id="r59" gradientUnits="userSpaceOnUse" x1="224" y1="0" x2="356" y2="0"><stop offset="0.0000" stop-color="rgb(14,14,14)"/><stop offset="1.0000" stop-color="rgb(240,240,240)"/></linearGradient><linearGradient id="r60" gradientUnits="userSpaceOnUse" x1="224" y1="0" x2="356" y2="0"><stop offset="0.0000" stop-color="rgb(10,10,10)"/><stop offset="1.0000" stop-color="rgb(244,244,244)"/></linearGradient><linearGradient id="r61" gradientUnits="userSpaceOnUse" x1="224" y1="0" x2="356" y2="0"><stop offset="0.0000" stop-color="rgb(5,5,5)"/><stop offset="1.0000" stop-color="rgb(249,249,249)"/></linearGradient><linearGradient id="r62" gradientUnits="userSpaceOnUse" x1="224" y1="0" x2="356" y2="0"><stop offset="0.0000" stop-color="rgb(1,1,1)"/><stop offset="1.0000" stop-color="rgb(253,253,253)"/></linearGradient><linearGradient id="r63" gradientUnits="userSpaceOnUse" x1="224" y1="0" x2="356" y2="0"><stop offset="0.0000" stop-color="rgb(0,0,0)"/><stop offset="0.0131" stop-color="rgb(0,0,0)"/><stop offset="0.9869" stop-color="rgb(254,254,254)"/><stop offset="1.0000" stop-color="rgb(255,255,255)"/></linearGradient><linearGradient id="r64" gradientUnits="userSpaceOnUse" x1="224" y1="0" x2="356" y2="0"><stop offset="0.0000" stop-color="rgb(0,0,0)"/><stop offset="0.0286" stop-color="rgb(0,0,0)"/><stop offset="0.9714" stop-color="rgb(254,254,254)"/><stop offset="1.0000" stop-color="rgb(255,255,255)"/></linearGradient><linearGradient id="r65" gradientUnits="userSpaceOnUse" x1="224" y1="0" x2="356" y2="0"><stop offset="0.0000" stop-color="rgb(0,0,0)"/><stop offset="0.0431" stop-color="rgb(0,0,0)"/><stop offset="0.9569" stop-color="rgb(254,254,254)"/><stop offset="1.0000" stop-color="rgb(255,255,255)"/></linearGradient></defs>
<g shape-rendering="crispEdges"><rect x="224" y="388.00" width="132" height="2.02" fill="url(#r0)"/><rect x="224" y="390.00" width="132" height="2.02" fill="url(#r1)"/><rect x="224" y="392.00" width="132" height="2.02" fill="url(#r2)"/><rect x="224" y="394.00" width="132" height="2.02" fill="url(#r3)"/><rect x="224" y="396.00" width="132" height="2.02" fill="url(#r4)"/><rect x="224" y="398.00" width="132" height="2.02" fill="url(#r5)"/><rect x="224" y="400.00" width="132" height="2.02" fill="url(#r6)"/><rect x="224" y="402.00" width="132" height="2.02" fill="url(#r7)"/><rect x="224" y="404.00" width="132" height="2.02" fill="url(#r8)"/><rect x="224" y="406.00" width="132" height="2.02" fill="url(#r9)"/><rect x="224" y="408.00" width="132" height="2.02" fill="url(#r10)"/><rect x="224" y="410.00" width="132" height="2.02" fill="url(#r11)"/><rect x="224" y="412.00" width="132" height="2.02" fill="url(#r12)"/><rect x="224" y="414.00" width="132" height="2.02" fill="url(#r13)"/><rect x="224" y="416.00" width="132" height="2.02" fill="url(#r14)"/><rect x="224" y="418.00" width="132" height="2.02" fill="url(#r15)"/><rect x="224" y="420.00" width="132" height="2.02" fill="url(#r16)"/><rect x="224" y="422.00" width="132" height="2.02" fill="url(#r17)"/><rect x="224" y="424.00" width="132" height="2.02" fill="url(#r18)"/><rect x="224" y="426.00" width="132" height="2.02" fill="url(#r19)"/><rect x="224" y="428.00" width="132" height="2.02" fill="url(#r20)"/><rect x="224" y="430.00" width="132" height="2.02" fill="url(#r21)"/><rect x="224" y="432.00" width="132" height="2.02" fill="url(#r22)"/><rect x="224" y="434.00" width="132" height="2.02" fill="url(#r23)"/><rect x="224" y="436.00" width="132" height="2.02" fill="url(#r24)"/><rect x="224" y="438.00" width="132" height="2.02" fill="url(#r25)"/><rect x="224" y="440.00" width="132" height="2.02" fill="url(#r26)"/><rect x="224" y="442.00" width="132" height="2.02" fill="url(#r27)"/><rect x="224" y="444.00" width="132" height="2.02" fill="url(#r28)"/><rect x="224" y="446.00" width="132" height="2.02" fill="url(#r29)"/><rect x="224" y="448.00" width="132" height="2.02" fill="url(#r30)"/><rect x="224" y="450.00" width="132" height="2.02" fill="url(#r31)"/><rect x="224" y="452.00" width="132" height="2.02" fill="url(#r32)"/><rect x="224" y="454.00" width="132" height="2.02" fill="url(#r33)"/><rect x="224" y="456.00" width="132" height="2.02" fill="url(#r34)"/><rect x="224" y="458.00" width="132" height="2.02" fill="url(#r35)"/><rect x="224" y="460.00" width="132" height="2.02" fill="url(#r36)"/><rect x="224" y="462.00" width="132" height="2.02" fill="url(#r37)"/><rect x="224" y="464.00" width="132" height="2.02" fill="url(#r38)"/><rect x="224" y="466.00" width="132" height="2.02" fill="url(#r39)"/><rect x="224" y="468.00" width="132" height="2.02" fill="url(#r40)"/><rect x="224" y="470.00" width="132" height="2.02" fill="url(#r41)"/><rect x="224" y="472.00" width="132" height="2.02" fill="url(#r42)"/><rect x="224" y="474.00" width="132" height="2.02" fill="url(#r43)"/><rect x="224" y="476.00" width="132" height="2.02" fill="url(#r44)"/><rect x="224" y="478.00" width="132" height="2.02" fill="url(#r45)"/><rect x="224" y="480.00" width="132" height="2.02" fill="url(#r46)"/><rect x="224" y="482.00" width="132" height="2.02" fill="url(#r47)"/><rect x="224" y="484.00" width="132" height="2.02" fill="url(#r48)"/><rect x="224" y="486.00" width="132" height="2.02" fill="url(#r49)"/><rect x="224" y="488.00" width="132" height="2.02" fill="url(#r50)"/><rect x="224" y="490.00" width="132" height="2.02" fill="url(#r51)"/><rect x="224" y="492.00" width="132" height="2.02" fill="url(#r52)"/><rect x="224" y="494.00" width="132" height="2.02" fill="url(#r53)"/><rect x="224" y="496.00" width="132" height="2.02" fill="url(#r54)"/><rect x="224" y="498.00" width="132" height="2.02" fill="url(#r55)"/><rect x="224" y="500.00" width="132" height="2.02" fill="url(#r56)"/><rect x="224" y="502.00" width="132" height="2.02" fill="url(#r57)"/><rect x="224" y="504.00" width="132" height="2.02" fill="url(#r58)"/><rect x="224" y="506.00" width="132" height="2.02" fill="url(#r59)"/><rect x="224" y="508.00" width="132" height="2.02" fill="url(#r60)"/><rect x="224" y="510.00" width="132" height="2.02" fill="url(#r61)"/><rect x="224" y="512.00" width="132" height="2.02" fill="url(#r62)"/><rect x="224" y="514.00" width="132" height="2.02" fill="url(#r63)"/><rect x="224" y="516.00" width="132" height="2.02" fill="url(#r64)"/><rect x="224" y="518.00" width="132" height="2.02" fill="url(#r65)"/></g>
<rect x="224" y="388" width="132" height="132" fill="none" stroke="#777" stroke-width="0.6"/>
<path d="M282.5,467.3L282.4,466.8L282.3,466.4L282.1,466.0L281.9,465.7L281.6,465.4L281.3,465.2L281.0,465.0L280.6,464.9L280.2,464.8L279.8,464.7L279.3,464.7L278.8,464.7L278.3,464.8L277.8,464.9L277.2,465.0L276.6,465.2L275.9,465.5L275.2,465.7L274.5,466.0L273.7,466.4L272.9,466.7L272.1,467.2L271.2,467.6L270.3,468.1L269.4,468.6L268.4,469.2L267.4,469.8L266.5,470.4L265.5,471.1L264.5,471.8L263.5,472.5L262.6,473.2L261.7,474.0L260.9,474.8L260.2,475.5L259.5,476.3L259.1,477.0L258.7,477.7L258.6,478.4L258.6,479.0L258.8,479.6L259.3,480.1L260.0,480.5L260.8,480.7L261.9,480.9L263.1,481.0L264.5,480.9L266.0,480.8L267.6,480.5L269.3,480.1L270.9,479.6L272.6,479.0L274.2,478.3L275.7,477.5L277.1,476.7L278.3,475.9L279.5,475.0L280.5,474.1L281.4,473.2L282.2,472.3L282.8,471.4L283.3,470.5L283.7,469.7L284.0,468.9L284.2,468.2L284.3,467.5L284.3,466.9L284.3,466.3L284.2,465.7L284.1,465.3L283.9,464.8L283.7,464.5L283.4,464.1L283.1,463.9L282.8,463.6L282.4,463.5L282.0,463.3L281.6,463.2L281.1,463.2L280.6,463.2L280.1,463.2L279.6,463.3L279.0,463.5L278.4,463.6L277.8,463.8L277.1,464.1L276.4,464.3L275.6,464.7L274.8,465.0L274.0,465.4L273.1,465.8L272.2,466.3L271.2,466.8L270.2,467.4L269.1,468.0L268.0,468.7L266.9,469.3L265.7,470.1L264.6,470.8L263.4,471.6L262.2,472.5L261.1,473.3L260.0,474.2L259.0,475.1L258.1,476.0L257.4,476.9L256.8,477.8L256.3,478.6L256.1,479.4L256.2,480.2L256.5,480.8L257.1,481.4L257.9,481.9L259.1,482.2L260.4,482.4L262.0,482.5L263.8,482.4L265.7,482.1L267.8,481.7L269.8,481.2L271.9,480.5L273.9,479.7L275.8,478.9L277.5,477.9L279.2,476.9L280.6,475.8L281.9,474.8L283.0,473.7L284.0,472.6L284.8,471.6L285.4,470.5L285.9,469.5L286.2,468.6L286.5,467.7L286.6,466.9L286.7,466.1L286.7,465.3L286.6,464.7L286.5,464.1L286.4,463.6L286.2,463.1L285.9,462.7L285.6,462.3L285.3,462.0L285.0,461.7L284.7,461.5L284.3,461.4L283.9,461.2L283.5,461.2L283.1,461.1L282.6,461.2L282.2,461.2L281.7,461.3L281.1,461.4L280.6,461.6L280.0,461.8L279.3,462.0L278.6,462.3L277.9,462.6L277.2,462.9L276.3,463.3L275.5,463.7L274.5,464.1L273.6,464.6L272.5,465.2L271.4,465.8L270.2,466.4L269.0,467.1L267.7,467.8L266.4,468.6L265.0,469.5L263.6,470.4L262.2,471.3L260.7,472.3L259.3,473.3L257.9,474.4L256.6,475.4L255.4,476.5L254.4,477.6L253.6,478.7L253.0,479.8L252.6,480.8L252.7,481.7L253.0,482.5L253.8,483.2L254.9,483.8L256.4,484.2L258.2,484.5L260.4,484.5L262.8,484.3L265.3,484.0L268.0,483.4L270.7,482.7L273.3,481.8L275.9,480.8L278.2,479.6L280.4,478.4L282.3,477.1L284.0,475.8L285.4,474.4L286.7,473.1L287.7,471.8L288.5,470.5L289.1,469.3L289.5,468.1L289.9,466.9L290.1,465.9L290.2,464.9L290.2,464.0L290.2,463.2L290.1,462.4L289.9,461.7L289.8,461.1L289.6,460.5L289.3,460.0L289.1,459.6L288.9,459.2L288.6,458.9L288.4,458.6L288.1,458.4L287.8,458.2L287.6,458.1L287.3,458.0L287.0,457.9L286.7,457.8L286.4,457.8L286.1,457.8L285.8,457.9L285.4,457.9L285.0,458.0L284.7,458.1L284.2,458.2L283.8,458.4L283.3,458.6L282.8,458.8L282.3,459.0L281.7,459.3L281.1,459.6L280.4,459.9L279.7,460.2L278.9,460.6L278.1,461.1L277.2,461.5L276.2,462.0L275.1,462.6L274.0,463.1L272.7,463.8L271.4,464.5L270.0,465.2L268.5,466.1L266.9,467.0L265.1,467.9L263.3,468.9L261.5,470.0L259.5,471.2L257.5,472.4L255.6,473.7L253.6,475.1L251.8,476.5L250.0,478.0L248.5,479.4L247.3,480.9L246.5,482.3L246.1,483.6L246.3,484.9L247.0,486.0L248.3,486.9L250.3,487.6L252.9,488.0L255.9,488.2L259.4,488.0L263.3,487.6L267.2,486.9L271.2,485.8L275.1,484.6L278.7,483.1L282.0,481.5L285.0,479.8L287.6,478.0L289.8,476.2L291.6,474.3L293.0,472.5L294.2,470.8L295.1,469.0L295.8,467.4L296.2,465.8L296.5,464.3L296.7,462.9L296.8,461.6L296.8,460.4L296.7,459.3L296.6,458.3L296.5,457.4L296.4,456.6L296.3,455.8L296.2,455.2L296.2,454.5L296.1,454.0L296.1,453.5L296.1,453.0L296.1,452.6L296.2,452.2L296.3,451.8L296.5,451.5L296.7,451.1L296.9,450.8L297.2,450.5L297.5,450.2L297.9,449.8L298.3,449.5L298.8,449.2L299.3,448.8L299.9,448.4L300.5,448.0L301.2,447.6L302.0,447.2L302.9,446.7L303.8,446.2L304.8,445.6L305.9,445.0L307.0,444.4L308.3,443.7L309.6,443.0L311.1,442.1L312.6,441.3L314.3,440.4L316.0,439.4L317.9,438.3L319.8,437.2L321.8,436.0L323.8,434.7L325.9,433.4L328.0,432.0L330.0,430.5L331.9,429.1L333.7,427.5L335.2,426.0L336.5,424.5L337.4,423.0L337.9,421.6L337.9,420.2L337.3,419.1L336.2,418.1L334.4,417.3L332.0,416.7L329.1,416.5L325.7,416.5L322.0,416.8L318.1,417.5L314.1,418.4L310.1,419.6L306.2,421.0L302.6,422.7L299.4,424.5L296.5,426.4L294.0,428.5L291.9,430.5L290.2,432.6L288.8,434.6L287.7,436.5L286.9,438.4L286.4,440.1L286.0,441.7L285.8,443.2L285.7,444.5L285.7,445.8L285.7,446.9L285.8,447.9L285.9,448.8L286.1,449.6L286.3,450.4L286.4,451.0L286.6,451.6L286.7,452.1L286.8,452.6L287.0,453.0L287.0,453.3L287.1,453.7L287.2,454.0L287.2,454.2L287.2,454.5L287.2,454.7L287.2,454.9L287.1,455.1L287.1,455.2L287.0,455.4L286.9,455.6L286.7,455.7L286.6,455.9L286.4,456.0L286.2,456.2L286.0,456.3L285.7,456.5L285.4,456.7L285.1,456.9L284.8,457.1L284.4,457.3L284.0,457.5L283.5,457.8L283.0,458.0L282.5,458.3L281.9,458.6L281.2,459.0L280.5,459.3L279.7,459.7L278.9,460.2L277.9,460.6L276.9,461.1L275.8,461.7L274.6,462.3L273.4,463.0L272.0,463.7L270.4,464.5L268.8,465.3L267.1,466.2L265.2,467.2L263.2,468.3L261.1,469.5L258.9,470.8L256.7,472.1L254.4,473.5L252.1,475.0L249.8,476.6L247.8,478.2L245.9,479.9L244.3,481.5L243.2,483.2L242.6,484.7L242.6,486.2L243.4,487.5L244.9,488.6L247.2,489.4L250.2,489.9L253.9,490.1L258.2,489.9L262.8,489.4L267.5,488.5L272.3,487.3L276.9,485.8L281.1,484.1L284.9,482.2L288.2,480.2L291.1,478.1L293.4,476.0L295.4,473.9L296.9,471.9L298.1,469.8L299.0,467.9L299.7,466.0L300.1,464.2L300.3,462.5L300.5,461.0L300.5,459.5L300.5,458.2L300.4,456.9L300.3,455.8L300.2,454.8L300.2,453.9L300.1,453.0L300.1,452.2L300.1,451.5L300.2,450.9L300.3,450.3L300.5,449.7L300.7,449.2L300.9,448.7L301.3,448.2L301.6,447.7L302.1,447.2L302.6,446.8L303.1,446.3L303.7,445.8L304.4,445.3L305.2,444.8L306.0,444.2L306.9,443.7L307.9,443.1L308.9,442.4L310.0,441.8L311.2,441.0L312.4,440.3L313.7,439.5L315.1,438.6L316.5,437.7L318.0,436.8L319.5,435.8L321.0,434.8L322.6,433.7L324.1,432.6L325.6,431.5L327.0,430.3L328.2,429.1L329.4,427.9L330.3,426.7L331.0,425.6L331.4,424.5L331.5,423.5L331.3,422.6L330.6,421.8L329.6,421.1L328.2,420.6L326.5,420.3L324.4,420.2L322.0,420.2L319.5,420.5L316.7,421.0L314.0,421.7L311.2,422.6L308.5,423.6L305.9,424.8L303.5,426.1L301.3,427.5L299.3,428.9L297.6,430.4L296.2,431.9L294.9,433.4L293.9,434.9L293.1,436.3L292.5,437.6L292.1,438.9L291.8,440.1L291.6,441.2L291.5,442.2L291.5,443.2L291.5,444.0L291.7,444.7L291.8,445.4L292.0,446.0L292.3,446.5L292.5,447.0L292.8,447.4L293.1,447.7L293.4,448.0L293.8,448.2L294.1,448.4L294.5,448.5L294.8,448.6L295.2,448.7L295.7,448.7L296.1,448.6L296.6,448.5L297.1,448.4L297.6,448.3L298.2,448.1L298.8,447.9L299.4,447.6L300.1,447.4L300.9,447.0L301.7,446.7L302.5,446.3L303.5,445.8L304.5,445.3L305.5,444.8L306.7,444.2L307.9,443.5L309.3,442.8L310.7,442.1L312.2,441.3L313.8,440.4L315.5,439.4L317.3,438.4L319.1,437.3L321.0,436.2L323.0,435.0L325.0,433.7L327.0,432.4L329.0,431.0L330.8,429.5L332.6,428.1L334.1,426.6L335.4,425.1L336.4,423.6L337.0,422.2L337.1,420.9L336.7,419.8L335.7,418.7L334.2,417.9L332.1,417.3L329.5,417.0L326.4,416.9L322.9,417.2L319.2,417.7L315.4,418.5L311.5,419.6L307.8,420.9L304.2,422.4L301.0,424.1L298.1,425.9L295.5,427.8L293.3,429.8L291.5,431.8L290.0,433.8L288.9,435.7L288.0,437.5L287.4,439.2L286.9,440.8L286.6,442.3L286.5,443.7L286.4,444.9L286.4,446.0L286.5,447.1L286.6,448.0L286.8,448.8L286.9,449.6L287.1,450.2L287.3,450.8L287.5,451.3L287.6,451.8L287.8,452.2L287.9,452.6L288.0,452.9L288.1,453.2L288.2,453.4L288.3,453.6L288.3,453.8L288.4,454.0L288.4,454.2L288.4,454.3L288.4,454.4L288.4,454.5L288.4,454.7L288.3,454.8L288.3,454.9L288.2,455.0L288.1,455.1L288.0,455.1L287.9,455.2L287.7,455.3L287.6,455.4L287.4,455.5L287.2,455.7L287.0,455.8L286.8,455.9L286.6,456.0L286.3,456.2L286.0,456.3L285.7,456.5L285.3,456.7L284.9,456.9L284.4,457.1L284.0,457.4L283.4,457.6L282.9,457.9L282.2,458.2L281.5,458.6L280.8,458.9L280.0,459.3L279.1,459.8L278.1,460.3L277.0,460.8L275.8,461.4L274.5,462.0L273.1,462.7L271.6,463.5L269.9,464.3L268.1,465.2L266.2,466.2L264.1,467.3L261.9,468.5L259.5,469.8L257.1,471.2L254.5,472.6L251.9,474.2L249.3,475.9L246.8,477.6L244.5,479.4L242.5,481.3L240.8,483.1L239.7,484.9L239.3,486.6L239.7,488.2L240.9,489.5L243.1,490.6L246.3,491.4L250.3,491.8L255.0,491.8L260.2,491.3L265.7,490.5L271.2,489.2L276.6,487.6L281.5,485.7L286.0,483.6L289.9,481.4L293.2,479.1L295.9,476.7L298.2,474.4L299.9,472.1L301.3,469.9L302.3,467.6L303.0,465.5L303.5,463.5L303.8,461.5L303.9,459.8L303.9,458.1L303.9,456.6L303.8,455.2L303.7,453.9L303.6,452.8L303.6,451.7L303.5,450.8L303.5,449.9L303.6,449.1L303.7,448.3L303.9,447.6L304.1,447.0L304.4,446.4L304.7,445.8L305.1,445.2L305.6,444.7L306.1,444.1L306.7,443.5L307.4,443.0L308.1,442.4L308.9,441.8L309.7,441.2L310.6,440.6L311.5,439.9L312.5,439.3L313.6,438.5L314.7,437.8L315.8,437.0L316.9,436.2L318.1,435.4L319.2,434.6L320.4,433.7L321.5,432.8L322.6,431.8L323.6,430.9L324.5,430.0L325.3,429.1L326.0,428.2L326.4,427.3L326.7,426.4L326.8,425.7L326.6,425.0L326.2,424.3L325.5,423.8L324.6,423.4L323.4,423.1L322.1,423.0L320.5,423.0L318.7,423.1L316.8,423.4L314.9,423.9L312.9,424.4L310.9,425.1L309.0,425.9L307.1,426.8L305.4,427.8L303.8,428.8L302.3,429.9L301.0,431.0L299.9,432.2L298.9,433.3L298.1,434.4L297.5,435.4L296.9,436.5L296.5,437.4L296.3,438.4L296.1,439.2L296.0,440.0L296.0,440.7L296.0,441.4L296.1,442.0L296.3,442.5L296.6,443.0L296.8,443.3L297.1,443.7L297.5,444.0L297.9,444.2L298.3,444.3L298.8,444.4L299.3,444.5L299.8,444.5L300.3,444.5L300.9,444.4L301.6,444.2L302.3,444.1L303.0,443.8L303.7,443.6L304.6,443.3L305.4,442.9L306.3,442.5L307.3,442.0L308.3,441.5L309.4,441.0L310.5,440.4L311.7,439.7L313.0,439.1L314.3,438.3L315.6,437.5L317.0,436.7L318.4,435.8L319.8,434.9L321.2,433.9L322.6,432.9L324.0,431.9L325.2,430.8L326.4,429.7L327.5,428.6L328.4,427.6L329.1,426.5L329.5,425.5L329.7,424.6L329.6,423.7L329.2,422.9L328.4,422.3L327.3,421.8L325.9,421.4L324.2,421.2L322.2,421.2L320.0,421.4L317.7,421.7L315.2,422.2L312.7,422.9L310.3,423.8L307.9,424.8L305.7,425.9L303.6,427.1L301.7,428.4L300.0,429.7L298.5,431.1L297.2,432.4L296.1,433.8L295.3,435.1L294.6,436.4L294.0,437.6L293.6,438.7L293.4,439.8L293.2,440.8L293.1,441.7L293.1,442.5L293.2,443.2L293.4,443.9L293.6,444.5L293.8,445.0L294.0,445.5L294.3,445.9L294.7,446.2L295.0,446.5L295.4,446.7L295.8,446.9L296.2,447.0L296.6,447.0L297.1,447.1L297.6,447.0L298.1,447.0L298.7,446.9L299.3,446.7L299.9,446.5L300.6,446.3L301.3,446.0L302.1,445.7L302.9,445.3L303.8,444.9L304.8,444.5L305.8,444.0L306.9,443.4L308.0,442.9L309.2,442.2L310.5,441.5L311.9,440.8L313.4,440.0L314.9,439.1L316.5,438.2L318.1,437.2L319.8,436.1L321.6,435.0L323.3,433.9L325.1,432.7L326.8,431.4L328.4,430.2L330.0,428.8L331.3,427.5" fill="none" stroke="#ff0000" stroke-width="1.85" stroke-linejoin="round" stroke-linecap="round"/>
<line x1="224.0" y1="393.0" x2="225.6" y2="393.0" stroke="#444" stroke-width="0.6"/>
<line x1="354.4" y1="393.0" x2="356.0" y2="393.0" stroke="#444" stroke-width="0.6"/>
<line x1="224.0" y1="413.4" x2="225.6" y2="413.4" stroke="#444" stroke-width="0.6"/>
<line x1="354.4" y1="413.4" x2="356.0" y2="413.4" stroke="#444" stroke-width="0.6"/>
<line x1="224.0" y1="433.7" x2="225.6" y2="433.7" stroke="#444" stroke-width="0.6"/>
<line x1="354.4" y1="433.7" x2="356.0" y2="433.7" stroke="#444" stroke-width="0.6"/>
<line x1="224.0" y1="454.1" x2="225.6" y2="454.1" stroke="#444" stroke-width="0.6"/>
<line x1="354.4" y1="454.1" x2="356.0" y2="454.1" stroke="#444" stroke-width="0.6"/>
<line x1="224.0" y1="474.4" x2="225.6" y2="474.4" stroke="#444" stroke-width="0.6"/>
<line x1="354.4" y1="474.4" x2="356.0" y2="474.4" stroke="#444" stroke-width="0.6"/>
<line x1="224.0" y1="494.8" x2="225.6" y2="494.8" stroke="#444" stroke-width="0.6"/>
<line x1="354.4" y1="494.8" x2="356.0" y2="494.8" stroke="#444" stroke-width="0.6"/>
<line x1="224.0" y1="515.1" x2="225.6" y2="515.1" stroke="#444" stroke-width="0.6"/>
<line x1="354.4" y1="515.1" x2="356.0" y2="515.1" stroke="#444" stroke-width="0.6"/>
<line x1="249.2" y1="520.0" x2="249.2" y2="518.4" stroke="#444" stroke-width="0.6"/>
<line x1="249.2" y1="388.0" x2="249.2" y2="389.6" stroke="#444" stroke-width="0.6"/>
<line x1="290.0" y1="520.0" x2="290.0" y2="518.4" stroke="#444" stroke-width="0.6"/>
<line x1="290.0" y1="388.0" x2="290.0" y2="389.6" stroke="#444" stroke-width="0.6"/>
<line x1="330.8" y1="520.0" x2="330.8" y2="518.4" stroke="#444" stroke-width="0.6"/>
<line x1="330.8" y1="388.0" x2="330.8" y2="389.6" stroke="#444" stroke-width="0.6"/>
<line x1="68.8" y1="319.9" x2="70.8" y2="319.2" stroke="#8c8c8c" stroke-width="0.7"/>
<line x1="103.3" y1="333.5" x2="101.6" y2="332.4" stroke="#8c8c8c" stroke-width="0.7"/>
<line x1="132.9" y1="322.4" x2="131.2" y2="321.3" stroke="#8c8c8c" stroke-width="0.7"/>
<line x1="162.5" y1="311.3" x2="160.8" y2="310.2" stroke="#8c8c8c" stroke-width="0.7"/>
<line x1="256.6" y1="320.2" x2="258.6" y2="319.5" stroke="#8c8c8c" stroke-width="0.7"/>
<line x1="234.0" y1="305.3" x2="236.0" y2="304.6" stroke="#8c8c8c" stroke-width="0.7"/>
<line x1="279.2" y1="335.2" x2="281.2" y2="334.4" stroke="#8c8c8c" stroke-width="0.7"/>
<line x1="316.0" y1="324.4" x2="314.3" y2="323.2" stroke="#8c8c8c" stroke-width="0.7"/>
<line x1="282.8" y1="337.3" x2="281.1" y2="336.2" stroke="#8c8c8c" stroke-width="0.7"/>
<line x1="349.2" y1="311.4" x2="347.5" y2="310.3" stroke="#8c8c8c" stroke-width="0.7"/>
<text x="220.3" y="396.2" font-size="9" text-anchor="end" class="n" textLength="9.4" lengthAdjust="spacingAndGlyphs">30</text>
<text x="220.3" y="416.6" font-size="9" text-anchor="end" class="n" textLength="9.4" lengthAdjust="spacingAndGlyphs">20</text>
<text x="220.3" y="436.9" font-size="9" text-anchor="end" class="n" textLength="9.4" lengthAdjust="spacingAndGlyphs">10</text>
<text x="220.3" y="457.2" font-size="9" text-anchor="end" class="n" textLength="4.7" lengthAdjust="spacingAndGlyphs">0</text>
<text x="220.3" y="477.6" font-size="9" text-anchor="end" class="n" textLength="12.7" lengthAdjust="spacingAndGlyphs">-10</text>
<text x="220.3" y="497.9" font-size="9" text-anchor="end" class="n" textLength="12.7" lengthAdjust="spacingAndGlyphs">-20</text>
<text x="220.3" y="518.3" font-size="9" text-anchor="end" class="n" textLength="12.7" lengthAdjust="spacingAndGlyphs">-30</text>
<text x="248.3" y="532.2" font-size="9" text-anchor="middle" class="n" textLength="12.7" lengthAdjust="spacingAndGlyphs">-20</text>
<text x="289.6" y="532.2" font-size="9" text-anchor="middle" class="n" textLength="4.7" lengthAdjust="spacingAndGlyphs">0</text>
<text x="331.0" y="532.2" font-size="9" text-anchor="middle" class="n" textLength="9.4" lengthAdjust="spacingAndGlyphs">20</text>
<text x="289.6" y="543.5" font-size="9.5" text-anchor="middle" class="n" textLength="37.5" lengthAdjust="spacingAndGlyphs">2nd state</text>
<text x="204.1" y="454.6" font-size="9.5" text-anchor="middle" class="n" transform="rotate(-90 204.1 454.6)" textLength="34.9" lengthAdjust="spacingAndGlyphs">1st state</text>
</svg>
</body></html>
